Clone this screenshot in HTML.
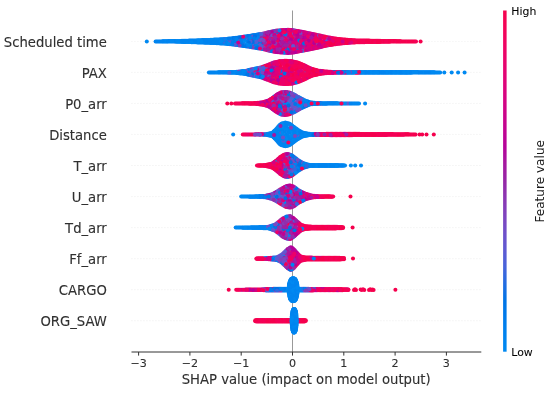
<!DOCTYPE html>
<html><head><meta charset="utf-8"><title>SHAP summary plot</title>
<style>
html,body{margin:0;padding:0;background:#fff}
body{width:550px;height:394px;overflow:hidden}
svg{display:block}
text{font-family:"DejaVu Sans","Liberation Sans",sans-serif;fill:#303030;stroke:#303030;stroke-width:0.12px}
.f{font-size:13.2px;text-anchor:end}
.t{font-size:11.1px;text-anchor:middle}
.c{font-size:10.9px;fill:#000;stroke:#000;stroke-width:0.05px}
circle{r:2.02px}
.k0{fill:#0089f1}.k1{fill:#0084ef}.k2{fill:#007dec}.k3{fill:#0077e8}.k4{fill:#0070e4}.k5{fill:#3369df}.k6{fill:#4e61d8}.k7{fill:#6159d1}.k8{fill:#7050c9}.k9{fill:#7d46c0}.k10{fill:#873cb6}.k11{fill:#912eac}.k12{fill:#9c21a4}.k13{fill:#aa139e}.k14{fill:#b50499}.k15{fill:#c10492}.k16{fill:#cc048a}.k17{fill:#d50483}.k18{fill:#dd047b}.k19{fill:#e40472}.k20{fill:#eb046a}.k21{fill:#f00460}.k22{fill:#f50457}.k23{fill:#f5044e}
</style></head><body>
<svg width="550" height="394" viewBox="0 0 550 394">
<defs><linearGradient id="cb" x1="0" y1="1" x2="0" y2="0"><stop offset="0" stop-color="#0089f1"/><stop offset="0.05" stop-color="#0083ef"/><stop offset="0.1" stop-color="#007beb"/><stop offset="0.15" stop-color="#0074e6"/><stop offset="0.2" stop-color="#236ce1"/><stop offset="0.25" stop-color="#4863da"/><stop offset="0.3" stop-color="#5f5ad2"/><stop offset="0.35" stop-color="#7050c9"/><stop offset="0.4" stop-color="#7f44be"/><stop offset="0.45" stop-color="#8b37b3"/><stop offset="0.5" stop-color="#9527a6"/><stop offset="0.55" stop-color="#a519a0"/><stop offset="0.6" stop-color="#b4049a"/><stop offset="0.65" stop-color="#c10492"/><stop offset="0.7" stop-color="#cc0489"/><stop offset="0.75" stop-color="#d70481"/><stop offset="0.8" stop-color="#e00477"/><stop offset="0.85" stop-color="#e8046d"/><stop offset="0.9" stop-color="#ef0463"/><stop offset="0.95" stop-color="#f40458"/><stop offset="1" stop-color="#f5044e"/></linearGradient><filter id="bl" x="-5%" y="-5%" width="110%" height="110%"><feGaussianBlur stdDeviation="0.75"/></filter></defs>
<rect width="550" height="394" fill="#fff"/>
<g stroke="#c4c4c4" stroke-width="0.6" stroke-dasharray="0.9 2.1" opacity="0.55"><line x1="131.5" y1="41.35" x2="481.3" y2="41.35"/><line x1="131.5" y1="72.39" x2="481.3" y2="72.39"/><line x1="131.5" y1="103.43" x2="481.3" y2="103.43"/><line x1="131.5" y1="134.47" x2="481.3" y2="134.47"/><line x1="131.5" y1="165.51" x2="481.3" y2="165.51"/><line x1="131.5" y1="196.55" x2="481.3" y2="196.55"/><line x1="131.5" y1="227.59" x2="481.3" y2="227.59"/><line x1="131.5" y1="258.63" x2="481.3" y2="258.63"/><line x1="131.5" y1="289.67" x2="481.3" y2="289.67"/><line x1="131.5" y1="320.71" x2="481.3" y2="320.71"/></g>
<line x1="292.5" y1="10.5" x2="292.5" y2="352.0" stroke="#999" stroke-width="1"/>
<g filter="url(#bl)"><g><circle class="k23" cx="399.2" cy="41.5" r="2"/><circle class="k8" cx="316.3" cy="44.4" r="2"/><circle class="k22" cx="388.4" cy="41.7" r="2"/><circle class="k0" cx="212.0" cy="42.9" r="2"/><circle class="k22" cx="392.0" cy="41.6" r="2"/><circle class="k22" cx="400.4" cy="41.5" r="2"/><circle class="k22" cx="381.2" cy="41.8" r="2"/><circle class="k22" cx="401.6" cy="41.4" r="2"/><circle class="k19" cx="332.0" cy="44.7" r="2"/><circle class="k1" cx="242.0" cy="45.7" r="2"/><circle class="k16" cx="284.8" cy="36.4" r="2"/><circle class="k23" cx="400.4" cy="41.2" r="2"/><circle class="k2" cx="255.2" cy="34.9" r="2"/><circle class="k0" cx="226.4" cy="43.8" r="2"/><circle class="k15" cx="278.6" cy="39.4" r="2"/><circle class="k22" cx="348.8" cy="41.4" r="2"/><circle class="k22" cx="359.6" cy="41.4" r="2"/><circle class="k12" cx="265.7" cy="41.1" r="2"/><circle class="k0" cx="198.8" cy="42.4" r="2"/><circle class="k4" cx="260.0" cy="38.1" r="2"/><circle class="k9" cx="260.7" cy="35.9" r="2"/><circle class="k22" cx="368.0" cy="42.1" r="2"/><circle class="k20" cx="303.8" cy="35.6" r="2"/><circle class="k22" cx="394.4" cy="41.1" r="2"/><circle class="k18" cx="269.6" cy="31.9" r="2"/><circle class="k3" cx="238.4" cy="45.2" r="2"/><circle class="k1" cx="179.6" cy="41.8" r="2"/><circle class="k0" cx="257.6" cy="48.2" r="2"/><circle class="k20" cx="312.8" cy="48.7" r="2"/><circle class="k0" cx="219.2" cy="39.4" r="2"/><circle class="k1" cx="238.4" cy="37.5" r="2"/><circle class="k23" cx="323.6" cy="46.3" r="2"/><circle class="k9" cx="250.4" cy="35.7" r="2"/><circle class="k22" cx="272.3" cy="37.4" r="2"/><circle class="k6" cx="246.8" cy="36.3" r="2"/><circle class="k17" cx="298.9" cy="32.2" r="2"/><circle class="k1" cx="224.0" cy="43.6" r="2"/><circle class="k23" cx="340.9" cy="40.3" r="2"/><circle class="k15" cx="292.9" cy="35.1" r="2"/><circle class="k11" cx="287.6" cy="29.8" r="2"/><circle class="k22" cx="365.6" cy="42.1" r="2"/><circle class="k8" cx="242.4" cy="37.9" r="2"/><circle class="k21" cx="330.8" cy="44.9" r="2"/><circle class="k13" cx="321.1" cy="43.9" r="2"/><circle class="k21" cx="304.4" cy="50.4" r="2"/><circle class="k2" cx="270.8" cy="51.0" r="2"/><circle class="k18" cx="311.0" cy="44.4" r="2"/><circle class="k23" cx="335.6" cy="38.5" r="2"/><circle class="k19" cx="320.2" cy="40.3" r="2"/><circle class="k22" cx="370.4" cy="40.7" r="2"/><circle class="k1" cx="204.8" cy="40.0" r="2"/><circle class="k10" cx="272.0" cy="48.4" r="2"/><circle class="k17" cx="300.0" cy="38.4" r="2"/><circle class="k23" cx="374.0" cy="42.0" r="2"/><circle class="k2" cx="262.8" cy="44.2" r="2"/><circle class="k17" cx="251.9" cy="39.8" r="2"/><circle class="k0" cx="244.4" cy="36.6" r="2"/><circle class="k8" cx="243.6" cy="43.7" r="2"/><circle class="k0" cx="161.6" cy="41.4" r="2"/><circle class="k21" cx="342.8" cy="43.2" r="2"/><circle class="k5" cx="173.6" cy="41.6" r="2"/><circle class="k22" cx="352.4" cy="40.2" r="2"/><circle class="k21" cx="266.1" cy="39.1" r="2"/><circle class="k20" cx="324.8" cy="46.1" r="2"/><circle class="k17" cx="291.6" cy="41.7" r="2"/><circle class="k22" cx="280.4" cy="52.4" r="2"/><circle class="k1" cx="170.0" cy="41.1" r="2"/><circle class="k1" cx="200.0" cy="41.4" r="2"/><circle class="k22" cx="407.6" cy="41.4" r="2"/><circle class="k1" cx="192.8" cy="42.2" r="2"/><circle class="k13" cx="311.6" cy="49.0" r="2"/><circle class="k1" cx="164.0" cy="41.5" r="2"/><circle class="k22" cx="341.6" cy="39.3" r="2"/><circle class="k1" cx="204.8" cy="41.4" r="2"/><circle class="k17" cx="286.7" cy="31.8" r="2"/><circle class="k14" cx="300.8" cy="50.1" r="2"/><circle class="k22" cx="340.4" cy="39.2" r="2"/><circle class="k23" cx="348.8" cy="42.8" r="2"/><circle class="k18" cx="284.7" cy="40.6" r="2"/><circle class="k22" cx="364.4" cy="40.5" r="2"/><circle class="k17" cx="303.2" cy="32.1" r="2"/><circle class="k0" cx="197.6" cy="42.4" r="2"/><circle class="k3" cx="239.6" cy="37.3" r="2"/><circle class="k22" cx="322.4" cy="46.6" r="2"/><circle class="k2" cx="257.6" cy="34.5" r="2"/><circle class="k22" cx="351.2" cy="40.1" r="2"/><circle class="k17" cx="296.3" cy="50.9" r="2"/><circle class="k18" cx="308.4" cy="43.3" r="2"/><circle class="k7" cx="292.4" cy="32.9" r="2"/><circle class="k23" cx="370.4" cy="42.0" r="2"/><circle class="k0" cx="200.0" cy="40.2" r="2"/><circle class="k22" cx="378.8" cy="40.8" r="2"/><circle class="k1" cx="202.4" cy="42.6" r="2"/><circle class="k17" cx="314.3" cy="38.7" r="2"/><circle class="k0" cx="178.4" cy="40.9" r="2"/><circle class="k9" cx="231.3" cy="39.9" r="2"/><circle class="k3" cx="257.6" cy="43.4" r="2"/><circle class="k18" cx="262.4" cy="33.7" r="2"/><circle class="k18" cx="305.3" cy="40.0" r="2"/><circle class="k1" cx="196.4" cy="41.4" r="2"/><circle class="k0" cx="176.0" cy="41.7" r="2"/><circle class="k22" cx="365.6" cy="40.6" r="2"/><circle class="k0" cx="165.2" cy="41.5" r="2"/><circle class="k1" cx="257.6" cy="36.5" r="2"/><circle class="k2" cx="252.0" cy="44.1" r="2"/><circle class="k0" cx="225.2" cy="43.7" r="2"/><circle class="k17" cx="273.3" cy="32.5" r="2"/><circle class="k1" cx="201.6" cy="41.3" r="2"/><circle class="k20" cx="331.9" cy="39.5" r="2"/><circle class="k14" cx="303.5" cy="33.2" r="2"/><circle class="k20" cx="282.3" cy="34.5" r="2"/><circle class="k22" cx="387.2" cy="41.0" r="2"/><circle class="k22" cx="374.0" cy="40.7" r="2"/><circle class="k11" cx="264.8" cy="33.2" r="2"/><circle class="k1" cx="209.6" cy="39.9" r="2"/><circle class="k23" cx="359.6" cy="42.3" r="2"/><circle class="k0" cx="230.0" cy="38.5" r="2"/><circle class="k0" cx="222.8" cy="39.2" r="2"/><circle class="k0" cx="255.0" cy="40.3" r="2"/><circle class="k17" cx="291.4" cy="46.9" r="2"/><circle class="k7" cx="252.9" cy="46.3" r="2"/><circle class="k17" cx="312.3" cy="39.8" r="2"/><circle class="k17" cx="299.1" cy="35.3" r="2"/><circle class="k22" cx="396.8" cy="41.5" r="2"/><circle class="k1" cx="207.2" cy="41.5" r="2"/><circle class="k16" cx="290.5" cy="31.6" r="2"/><circle class="k9" cx="261.2" cy="48.8" r="2"/><circle class="k1" cx="202.4" cy="40.1" r="2"/><circle class="k21" cx="336.8" cy="38.7" r="2"/><circle class="k23" cx="393.2" cy="41.6" r="2"/><circle class="k12" cx="282.8" cy="36.5" r="2"/><circle class="k23" cx="354.8" cy="41.4" r="2"/><circle class="k7" cx="255.1" cy="43.4" r="2"/><circle class="k19" cx="328.4" cy="45.3" r="2"/><circle class="k23" cx="333.2" cy="44.5" r="2"/><circle class="k15" cx="267.2" cy="35.9" r="2"/><circle class="k21" cx="263.6" cy="49.2" r="2"/><circle class="k21" cx="344.8" cy="41.9" r="2"/><circle class="k9" cx="294.5" cy="37.3" r="2"/><circle class="k4" cx="253.1" cy="42.1" r="2"/><circle class="k16" cx="291.2" cy="52.7" r="2"/><circle class="k0" cx="196.4" cy="42.3" r="2"/><circle class="k11" cx="275.9" cy="50.5" r="2"/><circle class="k21" cx="318.1" cy="39.8" r="2"/><circle class="k4" cx="252.8" cy="35.3" r="2"/><circle class="k13" cx="302.2" cy="42.8" r="2"/><circle class="k17" cx="296.0" cy="30.7" r="2"/><circle class="k17" cx="289.9" cy="37.8" r="2"/><circle class="k0" cx="224.5" cy="42.0" r="2"/><circle class="k15" cx="282.1" cy="48.4" r="2"/><circle class="k0" cx="222.8" cy="43.5" r="2"/><circle class="k12" cx="266.4" cy="48.0" r="2"/><circle class="k1" cx="176.0" cy="41.0" r="2"/><circle class="k17" cx="293.6" cy="52.4" r="2"/><circle class="k1" cx="189.2" cy="42.1" r="2"/><circle class="k18" cx="324.5" cy="43.4" r="2"/><circle class="k0" cx="249.2" cy="35.9" r="2"/><circle class="k21" cx="302.0" cy="39.1" r="2"/><circle class="k14" cx="280.7" cy="35.7" r="2"/><circle class="k1" cx="258.0" cy="40.6" r="2"/><circle class="k11" cx="286.5" cy="37.3" r="2"/><circle class="k0" cx="228.7" cy="40.4" r="2"/><circle class="k17" cx="287.9" cy="33.9" r="2"/><circle class="k23" cx="395.6" cy="41.1" r="2"/><circle class="k23" cx="412.4" cy="41.4" r="2"/><circle class="k1" cx="218.0" cy="39.4" r="2"/><circle class="k23" cx="382.4" cy="40.9" r="2"/><circle class="k20" cx="282.1" cy="44.5" r="2"/><circle class="k16" cx="294.8" cy="30.5" r="2"/><circle class="k1" cx="208.4" cy="39.9" r="2"/><circle class="k22" cx="382.4" cy="41.8" r="2"/><circle class="k1" cx="245.6" cy="36.4" r="2"/><circle class="k0" cx="186.8" cy="42.0" r="2"/><circle class="k0" cx="162.8" cy="41.5" r="2"/><circle class="k23" cx="319.2" cy="42.0" r="2"/><circle class="k1" cx="160.4" cy="41.4" r="2"/><circle class="k15" cx="278.0" cy="52.2" r="2"/><circle class="k22" cx="351.2" cy="41.4" r="2"/><circle class="k15" cx="326.1" cy="44.8" r="2"/><circle class="k19" cx="307.4" cy="45.4" r="2"/><circle class="k22" cx="362.0" cy="40.5" r="2"/><circle class="k23" cx="406.4" cy="41.4" r="2"/><circle class="k22" cx="332.6" cy="43.6" r="2"/><circle class="k0" cx="172.4" cy="41.1" r="2"/><circle class="k1" cx="213.2" cy="39.7" r="2"/><circle class="k17" cx="329.6" cy="37.6" r="2"/><circle class="k0" cx="174.8" cy="41.6" r="2"/><circle class="k22" cx="314.4" cy="45.1" r="2"/><circle class="k0" cx="199.5" cy="41.3" r="2"/><circle class="k15" cx="328.4" cy="37.4" r="2"/><circle class="k17" cx="305.0" cy="48.8" r="2"/><circle class="k22" cx="364.4" cy="42.2" r="2"/><circle class="k14" cx="300.8" cy="31.6" r="2"/><circle class="k13" cx="293.8" cy="39.9" r="2"/><circle class="k15" cx="291.3" cy="44.2" r="2"/><circle class="k1" cx="170.0" cy="41.6" r="2"/><circle class="k16" cx="320.9" cy="38.3" r="2"/><circle class="k9" cx="263.6" cy="33.5" r="2"/><circle class="k22" cx="347.5" cy="41.1" r="2"/><circle class="k16" cx="284.7" cy="42.5" r="2"/><circle class="k18" cx="301.3" cy="34.8" r="2"/><circle class="k16" cx="289.0" cy="35.8" r="2"/><circle class="k2" cx="320.0" cy="47.2" r="2"/><circle class="k15" cx="280.6" cy="47.1" r="2"/><circle class="k19" cx="296.2" cy="35.7" r="2"/><circle class="k23" cx="316.4" cy="34.7" r="2"/><circle class="k23" cx="315.2" cy="48.3" r="2"/><circle class="k1" cx="203.6" cy="40.1" r="2"/><circle class="k16" cx="287.5" cy="46.9" r="2"/><circle class="k1" cx="220.4" cy="39.3" r="2"/><circle class="k21" cx="326.4" cy="41.4" r="2"/><circle class="k0" cx="197.6" cy="41.4" r="2"/><circle class="k8" cx="251.6" cy="47.2" r="2"/><circle class="k19" cx="296.5" cy="49.0" r="2"/><circle class="k14" cx="274.3" cy="48.9" r="2"/><circle class="k12" cx="282.8" cy="30.1" r="2"/><circle class="k22" cx="272.5" cy="44.1" r="2"/><circle class="k1" cx="214.4" cy="39.6" r="2"/><circle class="k22" cx="357.2" cy="40.4" r="2"/><circle class="k18" cx="322.6" cy="45.4" r="2"/><circle class="k18" cx="350.0" cy="41.4" r="2"/><circle class="k1" cx="168.8" cy="41.1" r="2"/><circle class="k1" cx="257.1" cy="38.6" r="2"/><circle class="k9" cx="260.0" cy="34.1" r="2"/><circle class="k23" cx="311.7" cy="46.4" r="2"/><circle class="k20" cx="311.6" cy="33.7" r="2"/><circle class="k1" cx="224.0" cy="39.1" r="2"/><circle class="k22" cx="369.2" cy="40.6" r="2"/><circle class="k1" cx="197.6" cy="40.3" r="2"/><circle class="k3" cx="236.0" cy="37.8" r="2"/><circle class="k2" cx="237.2" cy="45.0" r="2"/><circle class="k1" cx="158.0" cy="41.4" r="2"/><circle class="k14" cx="279.9" cy="41.4" r="2"/><circle class="k12" cx="271.0" cy="50.0" r="2"/><circle class="k0" cx="186.8" cy="40.7" r="2"/><circle class="k22" cx="362.0" cy="42.2" r="2"/><circle class="k1" cx="195.2" cy="42.3" r="2"/><circle class="k12" cx="262.2" cy="37.5" r="2"/><circle class="k2" cx="247.4" cy="41.4" r="2"/><circle class="k12" cx="267.2" cy="50.2" r="2"/><circle class="k1" cx="180.8" cy="40.9" r="2"/><circle class="k20" cx="275.7" cy="33.9" r="2"/><circle class="k18" cx="230.0" cy="44.2" r="2"/><circle class="k0" cx="240.2" cy="43.0" r="2"/><circle class="k22" cx="319.7" cy="36.6" r="2"/><circle class="k21" cx="302.9" cy="48.5" r="2"/><circle class="k0" cx="171.2" cy="41.6" r="2"/><circle class="k22" cx="347.6" cy="41.4" r="2"/><circle class="k18" cx="297.3" cy="41.4" r="2"/><circle class="k3" cx="277.4" cy="32.9" r="2"/><circle class="k23" cx="334.4" cy="44.3" r="2"/><circle class="k15" cx="302.0" cy="31.8" r="2"/><circle class="k22" cx="329.5" cy="41.2" r="2"/><circle class="k1" cx="173.6" cy="41.1" r="2"/><circle class="k15" cx="273.2" cy="51.4" r="2"/><circle class="k0" cx="210.8" cy="39.8" r="2"/><circle class="k22" cx="398.0" cy="41.5" r="2"/><circle class="k23" cx="408.8" cy="41.4" r="2"/><circle class="k1" cx="188.0" cy="42.0" r="2"/><circle class="k23" cx="395.6" cy="41.6" r="2"/><circle class="k12" cx="264.5" cy="36.2" r="2"/><circle class="k14" cx="297.2" cy="30.9" r="2"/><circle class="k19" cx="265.3" cy="46.2" r="2"/><circle class="k15" cx="273.0" cy="50.4" r="2"/><circle class="k16" cx="278.3" cy="42.7" r="2"/><circle class="k22" cx="411.2" cy="41.4" r="2"/><circle class="k13" cx="269.6" cy="50.8" r="2"/><circle class="k23" cx="292.5" cy="38.1" r="2"/><circle class="k22" cx="307.7" cy="38.2" r="2"/><circle class="k2" cx="248.0" cy="46.6" r="2"/><circle class="k13" cx="288.7" cy="30.9" r="2"/><circle class="k1" cx="174.8" cy="41.1" r="2"/><circle class="k6" cx="290.5" cy="51.1" r="2"/><circle class="k1" cx="194.0" cy="40.5" r="2"/><circle class="k21" cx="337.8" cy="40.5" r="2"/><circle class="k11" cx="276.8" cy="30.6" r="2"/><circle class="k1" cx="227.6" cy="43.9" r="2"/><circle class="k1" cx="262.4" cy="49.0" r="2"/><circle class="k16" cx="287.6" cy="52.9" r="2"/><circle class="k22" cx="360.8" cy="40.5" r="2"/><circle class="k22" cx="386.0" cy="41.0" r="2"/><circle class="k2" cx="232.4" cy="38.2" r="2"/><circle class="k23" cx="372.8" cy="40.7" r="2"/><circle class="k22" cx="383.6" cy="41.8" r="2"/><circle class="k22" cx="344.0" cy="39.5" r="2"/><circle class="k16" cx="314.0" cy="48.5" r="2"/><circle class="k14" cx="332.0" cy="38.0" r="2"/><circle class="k16" cx="317.6" cy="36.2" r="2"/><circle class="k3" cx="285.4" cy="34.3" r="2"/><circle class="k6" cx="222.6" cy="42.4" r="2"/><circle class="k22" cx="352.4" cy="41.4" r="2"/><circle class="k5" cx="225.2" cy="39.0" r="2"/><circle class="k11" cx="280.4" cy="43.4" r="2"/><circle class="k10" cx="327.2" cy="45.5" r="2"/><circle class="k15" cx="296.1" cy="38.9" r="2"/><circle class="k22" cx="346.4" cy="39.7" r="2"/><circle class="k12" cx="270.6" cy="45.4" r="2"/><circle class="k22" cx="371.6" cy="42.0" r="2"/><circle class="k1" cx="156.8" cy="41.4" r="2"/><circle class="k8" cx="322.4" cy="36.1" r="2"/><circle class="k2" cx="256.4" cy="34.7" r="2"/><circle class="k22" cx="396.8" cy="41.2" r="2"/><circle class="k16" cx="295.0" cy="46.1" r="2"/><circle class="k22" cx="345.2" cy="43.1" r="2"/><circle class="k21" cx="314.2" cy="40.7" r="2"/><circle class="k1" cx="183.2" cy="41.9" r="2"/><circle class="k1" cx="206.0" cy="41.4" r="2"/><circle class="k20" cx="267.6" cy="44.9" r="2"/><circle class="k22" cx="399.2" cy="41.2" r="2"/><circle class="k13" cx="297.2" cy="51.8" r="2"/><circle class="k18" cx="317.6" cy="34.9" r="2"/><circle class="k1" cx="155.6" cy="41.4" r="2"/><circle class="k3" cx="234.3" cy="39.3" r="2"/><circle class="k22" cx="342.8" cy="39.5" r="2"/><circle class="k6" cx="308.0" cy="33.0" r="2"/><circle class="k11" cx="275.0" cy="45.6" r="2"/><circle class="k6" cx="250.4" cy="41.4" r="2"/><circle class="k17" cx="266.0" cy="32.9" r="2"/><circle class="k21" cx="282.8" cy="52.6" r="2"/><circle class="k10" cx="268.4" cy="50.5" r="2"/><circle class="k5" cx="270.8" cy="31.7" r="2"/><circle class="k22" cx="327.6" cy="43.1" r="2"/><circle class="k0" cx="190.4" cy="42.1" r="2"/><circle class="k0" cx="219.2" cy="43.3" r="2"/><circle class="k22" cx="383.6" cy="40.9" r="2"/><circle class="k15" cx="273.2" cy="31.3" r="2"/><circle class="k22" cx="323.1" cy="41.0" r="2"/><circle class="k14" cx="303.4" cy="37.7" r="2"/><circle class="k2" cx="251.6" cy="35.5" r="2"/><circle class="k22" cx="347.6" cy="42.9" r="2"/><circle class="k22" cx="347.6" cy="39.8" r="2"/><circle class="k12" cx="288.6" cy="39.4" r="2"/><circle class="k13" cx="262.6" cy="42.2" r="2"/><circle class="k3" cx="234.6" cy="42.9" r="2"/><circle class="k4" cx="298.4" cy="49.9" r="2"/><circle class="k23" cx="410.0" cy="41.4" r="2"/><circle class="k1" cx="227.6" cy="38.8" r="2"/><circle class="k10" cx="240.7" cy="38.8" r="2"/><circle class="k19" cx="266.0" cy="49.8" r="2"/><circle class="k4" cx="292.4" cy="50.9" r="2"/><circle class="k1" cx="189.2" cy="40.6" r="2"/><circle class="k22" cx="356.0" cy="40.4" r="2"/><circle class="k1" cx="231.2" cy="38.4" r="2"/><circle class="k20" cx="289.4" cy="47.5" r="2"/><circle class="k21" cx="298.4" cy="51.6" r="2"/><circle class="k11" cx="264.5" cy="34.3" r="2"/><circle class="k8" cx="300.7" cy="32.9" r="2"/><circle class="k16" cx="284.0" cy="30.0" r="2"/><circle class="k1" cx="200.0" cy="42.5" r="2"/><circle class="k20" cx="310.4" cy="49.2" r="2"/><circle class="k3" cx="242.0" cy="37.0" r="2"/><circle class="k2" cx="258.8" cy="34.3" r="2"/><circle class="k2" cx="236.0" cy="44.9" r="2"/><circle class="k20" cx="298.4" cy="31.1" r="2"/><circle class="k0" cx="207.2" cy="40.0" r="2"/><circle class="k22" cx="390.8" cy="41.6" r="2"/><circle class="k1" cx="203.6" cy="42.6" r="2"/><circle class="k23" cx="357.2" cy="41.4" r="2"/><circle class="k1" cx="212.0" cy="41.4" r="2"/><circle class="k15" cx="279.2" cy="52.3" r="2"/><circle class="k15" cx="278.8" cy="47.9" r="2"/><circle class="k23" cx="392.0" cy="41.1" r="2"/><circle class="k15" cx="298.1" cy="37.2" r="2"/><circle class="k1" cx="221.6" cy="43.5" r="2"/><circle class="k22" cx="381.2" cy="40.9" r="2"/><circle class="k11" cx="269.3" cy="36.6" r="2"/><circle class="k0" cx="210.1" cy="41.5" r="2"/><circle class="k17" cx="313.9" cy="47.4" r="2"/><circle class="k14" cx="268.3" cy="39.8" r="2"/><circle class="k21" cx="314.4" cy="35.9" r="2"/><circle class="k21" cx="339.2" cy="43.7" r="2"/><circle class="k21" cx="277.0" cy="40.7" r="2"/><circle class="k22" cx="394.4" cy="41.6" r="2"/><circle class="k22" cx="290.1" cy="33.8" r="2"/><circle class="k9" cx="283.8" cy="51.6" r="2"/><circle class="k13" cx="269.5" cy="43.7" r="2"/><circle class="k1" cx="214.4" cy="43.1" r="2"/><circle class="k11" cx="280.1" cy="49.3" r="2"/><circle class="k1" cx="203.6" cy="41.4" r="2"/><circle class="k16" cx="321.2" cy="46.9" r="2"/><circle class="k12" cx="290.0" cy="52.8" r="2"/><circle class="k1" cx="188.0" cy="40.7" r="2"/><circle class="k11" cx="262.5" cy="35.0" r="2"/><circle class="k0" cx="168.8" cy="41.6" r="2"/><circle class="k1" cx="257.9" cy="45.3" r="2"/><circle class="k14" cx="270.3" cy="34.0" r="2"/><circle class="k14" cx="286.4" cy="52.8" r="2"/><circle class="k6" cx="261.2" cy="33.9" r="2"/><circle class="k22" cx="336.5" cy="42.0" r="2"/><circle class="k22" cx="358.4" cy="41.4" r="2"/><circle class="k0" cx="222.6" cy="40.3" r="2"/><circle class="k20" cx="281.6" cy="32.0" r="2"/><circle class="k3" cx="259.9" cy="42.9" r="2"/><circle class="k1" cx="167.6" cy="41.2" r="2"/><circle class="k9" cx="238.7" cy="39.1" r="2"/><circle class="k13" cx="298.0" cy="44.4" r="2"/><circle class="k1" cx="166.4" cy="41.5" r="2"/><circle class="k15" cx="276.6" cy="38.1" r="2"/><circle class="k18" cx="333.2" cy="38.2" r="2"/><circle class="k0" cx="303.2" cy="50.6" r="2"/><circle class="k17" cx="312.6" cy="41.9" r="2"/><circle class="k2" cx="248.5" cy="38.7" r="2"/><circle class="k17" cx="306.3" cy="34.6" r="2"/><circle class="k13" cx="317.6" cy="47.8" r="2"/><circle class="k23" cx="348.8" cy="39.9" r="2"/><circle class="k20" cx="341.6" cy="43.4" r="2"/><circle class="k22" cx="357.2" cy="42.3" r="2"/><circle class="k21" cx="344.0" cy="43.2" r="2"/><circle class="k15" cx="301.4" cy="45.7" r="2"/><circle class="k22" cx="376.4" cy="40.8" r="2"/><circle class="k16" cx="285.2" cy="30.0" r="2"/><circle class="k6" cx="308.0" cy="49.7" r="2"/><circle class="k1" cx="215.6" cy="39.6" r="2"/><circle class="k14" cx="286.4" cy="29.9" r="2"/><circle class="k22" cx="354.8" cy="40.3" r="2"/><circle class="k16" cx="299.6" cy="31.4" r="2"/><circle class="k15" cx="275.2" cy="31.9" r="2"/><circle class="k15" cx="266.9" cy="33.9" r="2"/><circle class="k1" cx="254.0" cy="47.6" r="2"/><circle class="k1" cx="164.0" cy="41.2" r="2"/><circle class="k1" cx="197.3" cy="41.4" r="2"/><circle class="k21" cx="322.8" cy="37.4" r="2"/><circle class="k0" cx="166.4" cy="41.2" r="2"/><circle class="k14" cx="279.7" cy="32.5" r="2"/><circle class="k8" cx="272.3" cy="35.3" r="2"/><circle class="k22" cx="352.3" cy="41.3" r="2"/><circle class="k1" cx="191.6" cy="40.5" r="2"/><circle class="k22" cx="329.6" cy="45.1" r="2"/><circle class="k4" cx="249.0" cy="42.8" r="2"/><circle class="k1" cx="205.3" cy="41.0" r="2"/><circle class="k22" cx="405.2" cy="41.4" r="2"/><circle class="k14" cx="292.4" cy="30.1" r="2"/><circle class="k1" cx="177.2" cy="41.7" r="2"/><circle class="k18" cx="267.6" cy="37.8" r="2"/><circle class="k1" cx="274.4" cy="31.0" r="2"/><circle class="k8" cx="226.8" cy="40.2" r="2"/><circle class="k23" cx="413.6" cy="41.4" r="2"/><circle class="k9" cx="318.8" cy="35.2" r="2"/><circle class="k3" cx="246.8" cy="46.4" r="2"/><circle class="k22" cx="284.6" cy="32.3" r="2"/><circle class="k16" cx="327.2" cy="37.2" r="2"/><circle class="k19" cx="299.1" cy="42.8" r="2"/><circle class="k0" cx="244.4" cy="46.1" r="2"/><circle class="k6" cx="256.4" cy="41.8" r="2"/><circle class="k22" cx="326.0" cy="36.9" r="2"/><circle class="k9" cx="259.9" cy="40.3" r="2"/><circle class="k22" cx="366.8" cy="42.1" r="2"/><circle class="k8" cx="260.0" cy="45.2" r="2"/><circle class="k21" cx="289.3" cy="44.3" r="2"/><circle class="k1" cx="202.4" cy="41.4" r="2"/><circle class="k22" cx="353.6" cy="40.3" r="2"/><circle class="k1" cx="207.2" cy="42.7" r="2"/><circle class="k16" cx="310.5" cy="35.4" r="2"/><circle class="k8" cx="293.6" cy="30.3" r="2"/><circle class="k23" cx="339.2" cy="39.0" r="2"/><circle class="k3" cx="233.6" cy="38.1" r="2"/><circle class="k23" cx="369.2" cy="42.1" r="2"/><circle class="k10" cx="263.4" cy="47.2" r="2"/><circle class="k22" cx="352.4" cy="42.5" r="2"/><circle class="k1" cx="231.2" cy="44.3" r="2"/><circle class="k22" cx="340.4" cy="43.5" r="2"/><circle class="k2" cx="255.2" cy="45.7" r="2"/><circle class="k12" cx="268.7" cy="46.6" r="2"/><circle class="k0" cx="194.0" cy="42.2" r="2"/><circle class="k16" cx="294.0" cy="44.2" r="2"/><circle class="k22" cx="269.8" cy="48.4" r="2"/><circle class="k1" cx="213.2" cy="43.0" r="2"/><circle class="k13" cx="270.8" cy="42.4" r="2"/><circle class="k3" cx="299.2" cy="40.5" r="2"/><circle class="k21" cx="291.0" cy="35.7" r="2"/><circle class="k2" cx="254.0" cy="35.1" r="2"/><circle class="k22" cx="305.6" cy="32.6" r="2"/><circle class="k23" cx="414.8" cy="41.4" r="2"/><circle class="k10" cx="275.4" cy="43.4" r="2"/><circle class="k11" cx="267.2" cy="32.5" r="2"/><circle class="k5" cx="258.8" cy="48.4" r="2"/><circle class="k3" cx="258.2" cy="47.3" r="2"/><circle class="k21" cx="334.8" cy="40.7" r="2"/><circle class="k21" cx="314.0" cy="34.2" r="2"/><circle class="k21" cx="268.7" cy="41.9" r="2"/><circle class="k1" cx="208.4" cy="42.8" r="2"/><circle class="k16" cx="278.5" cy="45.1" r="2"/><circle class="k16" cx="350.0" cy="42.7" r="2"/><circle class="k19" cx="265.9" cy="44.2" r="2"/><circle class="k22" cx="290.0" cy="29.9" r="2"/><circle class="k13" cx="300.8" cy="36.7" r="2"/><circle class="k21" cx="323.6" cy="36.4" r="2"/><circle class="k23" cx="345.2" cy="39.6" r="2"/><circle class="k19" cx="318.8" cy="47.5" r="2"/><circle class="k12" cx="274.8" cy="39.6" r="2"/><circle class="k23" cx="389.6" cy="41.7" r="2"/><circle class="k23" cx="384.8" cy="41.8" r="2"/><circle class="k17" cx="356.0" cy="41.4" r="2"/><circle class="k0" cx="198.8" cy="41.4" r="2"/><circle class="k23" cx="375.2" cy="40.7" r="2"/><circle class="k13" cx="268.0" cy="49.3" r="2"/><circle class="k11" cx="264.6" cy="42.7" r="2"/><circle class="k14" cx="314.1" cy="43.1" r="2"/><circle class="k1" cx="250.3" cy="45.5" r="2"/><circle class="k22" cx="358.4" cy="40.4" r="2"/><circle class="k16" cx="295.4" cy="41.1" r="2"/><circle class="k14" cx="290.9" cy="39.5" r="2"/><circle class="k6" cx="302.0" cy="50.9" r="2"/><circle class="k22" cx="353.6" cy="42.4" r="2"/><circle class="k16" cx="303.6" cy="41.1" r="2"/><circle class="k13" cx="286.5" cy="43.2" r="2"/><circle class="k23" cx="356.0" cy="42.3" r="2"/><circle class="k17" cx="288.0" cy="41.4" r="2"/><circle class="k18" cx="306.8" cy="32.8" r="2"/><circle class="k14" cx="272.0" cy="31.5" r="2"/><circle class="k13" cx="272.8" cy="40.5" r="2"/><circle class="k1" cx="192.8" cy="40.5" r="2"/><circle class="k22" cx="338.0" cy="38.9" r="2"/><circle class="k17" cx="294.3" cy="51.3" r="2"/><circle class="k23" cx="368.0" cy="40.6" r="2"/><circle class="k7" cx="252.8" cy="36.8" r="2"/><circle class="k12" cx="283.6" cy="46.5" r="2"/><circle class="k13" cx="303.7" cy="46.7" r="2"/><circle class="k22" cx="360.8" cy="42.2" r="2"/><circle class="k12" cx="289.7" cy="42.4" r="2"/><circle class="k21" cx="335.6" cy="44.2" r="2"/><circle class="k16" cx="291.2" cy="30.0" r="2"/><circle class="k22" cx="377.6" cy="40.8" r="2"/><circle class="k23" cx="384.8" cy="40.9" r="2"/><circle class="k0" cx="165.2" cy="41.2" r="2"/><circle class="k2" cx="236.4" cy="41.1" r="2"/><circle class="k22" cx="350.0" cy="40.0" r="2"/><circle class="k22" cx="339.3" cy="41.8" r="2"/><circle class="k21" cx="320.0" cy="35.5" r="2"/><circle class="k23" cx="404.0" cy="41.4" r="2"/><circle class="k12" cx="282.6" cy="40.6" r="2"/><circle class="k3" cx="243.2" cy="45.9" r="2"/><circle class="k19" cx="321.2" cy="35.8" r="2"/><circle class="k2" cx="242.8" cy="40.1" r="2"/><circle class="k13" cx="282.5" cy="42.6" r="2"/><circle class="k16" cx="282.3" cy="50.4" r="2"/><circle class="k15" cx="305.9" cy="37.3" r="2"/><circle class="k22" cx="386.0" cy="41.7" r="2"/><circle class="k17" cx="280.0" cy="37.8" r="2"/><circle class="k21" cx="316.0" cy="37.9" r="2"/><circle class="k5" cx="246.2" cy="38.1" r="2"/><circle class="k23" cx="398.0" cy="41.2" r="2"/><circle class="k19" cx="293.9" cy="31.6" r="2"/><circle class="k16" cx="324.9" cy="40.1" r="2"/><circle class="k1" cx="201.2" cy="40.2" r="2"/><circle class="k0" cx="214.9" cy="40.9" r="2"/><circle class="k22" cx="371.6" cy="40.7" r="2"/><circle class="k22" cx="264.3" cy="38.7" r="2"/><circle class="k0" cx="233.6" cy="44.6" r="2"/><circle class="k22" cx="305.6" cy="50.1" r="2"/><circle class="k22" cx="363.2" cy="42.2" r="2"/><circle class="k17" cx="315.8" cy="46.4" r="2"/><circle class="k16" cx="296.0" cy="52.0" r="2"/><circle class="k19" cx="316.4" cy="48.0" r="2"/><circle class="k4" cx="241.8" cy="44.7" r="2"/><circle class="k23" cx="284.0" cy="49.3" r="2"/><circle class="k14" cx="294.8" cy="52.2" r="2"/><circle class="k0" cx="216.8" cy="39.5" r="2"/><circle class="k2" cx="242.5" cy="42.1" r="2"/><circle class="k1" cx="226.9" cy="42.5" r="2"/><circle class="k0" cx="182.0" cy="41.9" r="2"/><circle class="k13" cx="309.2" cy="33.3" r="2"/><circle class="k16" cx="342.6" cy="41.5" r="2"/><circle class="k4" cx="288.8" cy="50.0" r="2"/><circle class="k0" cx="177.2" cy="41.0" r="2"/><circle class="k20" cx="288.8" cy="29.8" r="2"/><circle class="k0" cx="244.5" cy="40.9" r="2"/><circle class="k22" cx="380.0" cy="40.8" r="2"/><circle class="k4" cx="286.8" cy="49.1" r="2"/><circle class="k23" cx="372.8" cy="42.0" r="2"/><circle class="k0" cx="179.6" cy="40.9" r="2"/><circle class="k10" cx="276.3" cy="35.8" r="2"/><circle class="k23" cx="346.4" cy="43.0" r="2"/><circle class="k19" cx="315.2" cy="34.4" r="2"/><circle class="k15" cx="292.4" cy="52.6" r="2"/><circle class="k15" cx="308.5" cy="34.4" r="2"/><circle class="k19" cx="286.0" cy="39.1" r="2"/><circle class="k0" cx="219.1" cy="42.2" r="2"/><circle class="k23" cx="378.8" cy="41.9" r="2"/><circle class="k3" cx="248.0" cy="36.1" r="2"/><circle class="k23" cx="281.6" cy="30.2" r="2"/><circle class="k16" cx="294.8" cy="33.7" r="2"/><circle class="k23" cx="393.2" cy="41.1" r="2"/><circle class="k22" cx="359.6" cy="40.4" r="2"/><circle class="k14" cx="297.3" cy="34.0" r="2"/><circle class="k1" cx="218.0" cy="43.3" r="2"/><circle class="k4" cx="240.8" cy="37.2" r="2"/><circle class="k23" cx="366.8" cy="40.6" r="2"/><circle class="k7" cx="230.4" cy="42.2" r="2"/><circle class="k16" cx="291.2" cy="49.1" r="2"/><circle class="k7" cx="326.7" cy="39.3" r="2"/><circle class="k12" cx="268.4" cy="32.2" r="2"/><circle class="k12" cx="275.6" cy="51.9" r="2"/><circle class="k20" cx="324.7" cy="38.2" r="2"/><circle class="k3" cx="240.8" cy="45.5" r="2"/><circle class="k0" cx="255.2" cy="47.8" r="2"/><circle class="k1" cx="210.8" cy="41.4" r="2"/><circle class="k1" cx="210.8" cy="42.9" r="2"/><circle class="k4" cx="254.9" cy="36.3" r="2"/><circle class="k8" cx="249.2" cy="46.8" r="2"/><circle class="k15" cx="285.2" cy="52.7" r="2"/><circle class="k14" cx="273.8" cy="42.3" r="2"/><circle class="k20" cx="298.8" cy="46.7" r="2"/><circle class="k21" cx="330.8" cy="37.8" r="2"/><circle class="k10" cx="252.8" cy="47.4" r="2"/><circle class="k1" cx="201.2" cy="42.5" r="2"/><circle class="k17" cx="304.4" cy="32.3" r="2"/><circle class="k1" cx="220.4" cy="43.4" r="2"/><circle class="k0" cx="212.0" cy="39.8" r="2"/><circle class="k0" cx="185.6" cy="42.0" r="2"/><circle class="k0" cx="201.2" cy="41.4" r="2"/><circle class="k2" cx="236.5" cy="43.4" r="2"/><circle class="k0" cx="246.0" cy="44.2" r="2"/><circle class="k1" cx="206.0" cy="42.7" r="2"/><circle class="k0" cx="228.8" cy="44.1" r="2"/><circle class="k1" cx="182.0" cy="40.8" r="2"/><circle class="k16" cx="274.3" cy="35.2" r="2"/><circle class="k1" cx="162.8" cy="41.2" r="2"/><circle class="k3" cx="237.2" cy="37.7" r="2"/><circle class="k18" cx="310.4" cy="33.5" r="2"/><circle class="k18" cx="309.5" cy="39.0" r="2"/><circle class="k21" cx="278.5" cy="35.7" r="2"/><circle class="k18" cx="295.9" cy="43.1" r="2"/><circle class="k15" cx="306.8" cy="49.9" r="2"/><circle class="k1" cx="184.4" cy="41.9" r="2"/><circle class="k17" cx="285.5" cy="46.9" r="2"/><circle class="k6" cx="261.0" cy="46.8" r="2"/><circle class="k12" cx="274.8" cy="37.1" r="2"/><circle class="k16" cx="300.8" cy="51.1" r="2"/><circle class="k1" cx="284.0" cy="52.7" r="2"/><circle class="k1" cx="215.6" cy="43.1" r="2"/><circle class="k20" cx="308.1" cy="36.3" r="2"/><circle class="k12" cx="284.9" cy="45.0" r="2"/><circle class="k4" cx="256.4" cy="48.0" r="2"/><circle class="k0" cx="172.4" cy="41.6" r="2"/><circle class="k17" cx="293.6" cy="42.3" r="2"/><circle class="k15" cx="312.8" cy="34.0" r="2"/><circle class="k23" cx="334.9" cy="43.1" r="2"/><circle class="k1" cx="207.2" cy="41.4" r="2"/><circle class="k19" cx="310.1" cy="48.1" r="2"/><circle class="k12" cx="296.9" cy="46.7" r="2"/><circle class="k15" cx="329.1" cy="39.1" r="2"/><circle class="k16" cx="318.9" cy="46.3" r="2"/><circle class="k7" cx="262.0" cy="39.5" r="2"/><circle class="k3" cx="272.0" cy="51.2" r="2"/><circle class="k1" cx="213.0" cy="41.6" r="2"/><circle class="k18" cx="307.2" cy="47.4" r="2"/><circle class="k1" cx="244.2" cy="38.9" r="2"/><circle class="k7" cx="293.1" cy="45.9" r="2"/><circle class="k1" cx="204.8" cy="42.7" r="2"/><circle class="k1" cx="216.8" cy="43.2" r="2"/><circle class="k19" cx="243.2" cy="36.8" r="2"/><circle class="k22" cx="316.3" cy="41.5" r="2"/><circle class="k17" cx="276.3" cy="47.2" r="2"/><circle class="k23" cx="358.4" cy="42.3" r="2"/><circle class="k1" cx="180.8" cy="41.8" r="2"/><circle class="k1" cx="190.4" cy="40.6" r="2"/><circle class="k0" cx="191.6" cy="42.2" r="2"/><circle class="k12" cx="287.2" cy="45.0" r="2"/><circle class="k22" cx="387.2" cy="41.7" r="2"/><circle class="k22" cx="334.4" cy="38.4" r="2"/><circle class="k20" cx="284.1" cy="38.7" r="2"/><circle class="k22" cx="272.9" cy="46.6" r="2"/><circle class="k22" cx="388.4" cy="41.0" r="2"/><circle class="k23" cx="349.8" cy="41.0" r="2"/><circle class="k17" cx="299.6" cy="51.3" r="2"/><circle class="k1" cx="217.1" cy="41.3" r="2"/><circle class="k1" cx="221.6" cy="39.2" r="2"/><circle class="k16" cx="286.8" cy="51.5" r="2"/><circle class="k22" cx="376.4" cy="41.9" r="2"/><circle class="k11" cx="282.1" cy="38.6" r="2"/><circle class="k1" cx="208.4" cy="41.4" r="2"/><circle class="k22" cx="375.2" cy="42.0" r="2"/><circle class="k1" cx="206.0" cy="40.0" r="2"/><circle class="k0" cx="226.4" cy="38.9" r="2"/><circle class="k22" cx="390.8" cy="41.1" r="2"/><circle class="k2" cx="228.8" cy="38.6" r="2"/><circle class="k19" cx="332.7" cy="41.3" r="2"/><circle class="k15" cx="305.3" cy="45.1" r="2"/><circle class="k19" cx="260.0" cy="48.6" r="2"/><circle class="k2" cx="240.9" cy="40.9" r="2"/><circle class="k2" cx="250.4" cy="47.0" r="2"/><circle class="k13" cx="264.8" cy="49.5" r="2"/><circle class="k17" cx="274.4" cy="51.7" r="2"/><circle class="k20" cx="310.5" cy="42.0" r="2"/><circle class="k23" cx="402.8" cy="41.4" r="2"/><circle class="k11" cx="279.0" cy="51.0" r="2"/><circle class="k2" cx="232.8" cy="41.9" r="2"/><circle class="k0" cx="184.4" cy="40.8" r="2"/><circle class="k10" cx="239.6" cy="45.4" r="2"/><circle class="k14" cx="312.5" cy="35.7" r="2"/><circle class="k1" cx="195.2" cy="40.4" r="2"/><circle class="k21" cx="278.0" cy="30.5" r="2"/><circle class="k14" cx="280.4" cy="30.3" r="2"/><circle class="k1" cx="209.6" cy="41.4" r="2"/><circle class="k21" cx="293.8" cy="49.0" r="2"/><circle class="k14" cx="281.6" cy="52.5" r="2"/><circle class="k18" cx="309.8" cy="46.1" r="2"/><circle class="k22" cx="321.3" cy="42.0" r="2"/><circle class="k0" cx="196.4" cy="40.4" r="2"/><circle class="k22" cx="353.6" cy="41.4" r="2"/><circle class="k1" cx="250.3" cy="38.0" r="2"/><circle class="k20" cx="338.0" cy="43.8" r="2"/><circle class="k22" cx="324.8" cy="36.6" r="2"/><circle class="k14" cx="276.8" cy="52.1" r="2"/><circle class="k16" cx="238.2" cy="42.4" r="2"/><circle class="k21" cx="336.8" cy="44.0" r="2"/><circle class="k9" cx="263.6" cy="40.5" r="2"/><circle class="k21" cx="295.8" cy="32.0" r="2"/><circle class="k23" cx="389.6" cy="41.0" r="2"/><circle class="k2" cx="234.8" cy="37.9" r="2"/><circle class="k15" cx="319.1" cy="44.3" r="2"/><circle class="k2" cx="254.0" cy="38.5" r="2"/><circle class="k14" cx="288.8" cy="52.9" r="2"/><circle class="k7" cx="234.8" cy="44.8" r="2"/><circle class="k22" cx="354.3" cy="41.3" r="2"/><circle class="k12" cx="270.2" cy="38.9" r="2"/><circle class="k16" cx="300.6" cy="47.9" r="2"/><circle class="k1" cx="183.2" cy="40.8" r="2"/><circle class="k0" cx="220.8" cy="41.3" r="2"/><circle class="k23" cx="377.6" cy="41.9" r="2"/><circle class="k20" cx="301.0" cy="41.3" r="2"/><circle class="k1" cx="159.2" cy="41.4" r="2"/><circle class="k3" cx="245.6" cy="46.3" r="2"/><circle class="k0" cx="178.4" cy="41.8" r="2"/><circle class="k1" cx="279.2" cy="30.4" r="2"/><circle class="k0" cx="198.8" cy="40.3" r="2"/><circle class="k14" cx="308.6" cy="40.8" r="2"/><circle class="k22" cx="354.8" cy="42.4" r="2"/><circle class="k0" cx="171.2" cy="41.1" r="2"/><circle class="k1" cx="248.1" cy="45.3" r="2"/><circle class="k22" cx="363.2" cy="40.5" r="2"/><circle class="k4" cx="304.1" cy="43.4" r="2"/><circle class="k1" cx="236.6" cy="39.2" r="2"/><circle class="k23" cx="380.0" cy="41.9" r="2"/><circle class="k1" cx="167.6" cy="41.5" r="2"/><circle class="k22" cx="416.0" cy="41.4" r="2"/><circle class="k18" cx="351.2" cy="42.6" r="2"/><circle class="k12" cx="277.6" cy="49.4" r="2"/><circle class="k23" cx="330.6" cy="43.8" r="2"/><circle class="k1" cx="209.6" cy="42.8" r="2"/><circle class="k11" cx="275.6" cy="30.8" r="2"/><circle class="k1" cx="185.6" cy="40.7" r="2"/><circle class="k13" cx="311.4" cy="37.4" r="2"/><circle class="k19" cx="306.3" cy="43.1" r="2"/><circle class="k2" cx="232.4" cy="44.5" r="2"/><circle class="k17" cx="309.2" cy="49.4" r="2"/><circle class="k1" cx="195.2" cy="41.4" r="2"/><circle class="k21" cx="326.0" cy="45.8" r="2"/><circle class="k0" cx="146.8" cy="41.4" r="2"/><circle class="k23" cx="420.6" cy="41.4" r="2"/></g>
<g><circle class="k1" cx="229.3" cy="72.1" r="2"/><circle class="k15" cx="270.1" cy="67.9" r="2"/><circle class="k0" cx="264.7" cy="68.9" r="2"/><circle class="k22" cx="302.5" cy="64.6" r="2"/><circle class="k21" cx="295.3" cy="77.8" r="2"/><circle class="k0" cx="392.9" cy="72.7" r="2"/><circle class="k0" cx="262.2" cy="74.6" r="2"/><circle class="k1" cx="417.4" cy="72.1" r="2"/><circle class="k16" cx="277.5" cy="66.7" r="2"/><circle class="k22" cx="312.8" cy="69.1" r="2"/><circle class="k19" cx="278.8" cy="62.8" r="2"/><circle class="k1" cx="259.3" cy="77.0" r="2"/><circle class="k19" cx="330.8" cy="73.0" r="2"/><circle class="k17" cx="268.9" cy="64.4" r="2"/><circle class="k14" cx="267.7" cy="68.5" r="2"/><circle class="k10" cx="261.7" cy="67.2" r="2"/><circle class="k0" cx="424.6" cy="72.2" r="2"/><circle class="k1" cx="434.2" cy="72.5" r="2"/><circle class="k1" cx="381.2" cy="72.1" r="2"/><circle class="k0" cx="400.6" cy="72.1" r="2"/><circle class="k20" cx="281.1" cy="69.7" r="2"/><circle class="k2" cx="361.7" cy="72.7" r="2"/><circle class="k1" cx="232.9" cy="72.0" r="2"/><circle class="k2" cx="258.1" cy="68.1" r="2"/><circle class="k22" cx="328.4" cy="71.7" r="2"/><circle class="k22" cx="322.4" cy="72.4" r="2"/><circle class="k20" cx="277.3" cy="61.7" r="2"/><circle class="k17" cx="264.2" cy="73.7" r="2"/><circle class="k1" cx="241.8" cy="72.3" r="2"/><circle class="k21" cx="320.0" cy="73.9" r="2"/><circle class="k2" cx="344.0" cy="72.7" r="2"/><circle class="k13" cx="272.5" cy="81.8" r="2"/><circle class="k17" cx="292.9" cy="71.1" r="2"/><circle class="k0" cx="230.5" cy="72.1" r="2"/><circle class="k23" cx="293.9" cy="75.9" r="2"/><circle class="k2" cx="256.9" cy="68.3" r="2"/><circle class="k0" cx="430.6" cy="72.2" r="2"/><circle class="k1" cx="228.1" cy="72.1" r="2"/><circle class="k12" cx="264.1" cy="78.5" r="2"/><circle class="k0" cx="242.5" cy="71.1" r="2"/><circle class="k20" cx="285.9" cy="67.0" r="2"/><circle class="k0" cx="236.5" cy="71.8" r="2"/><circle class="k1" cx="234.1" cy="72.8" r="2"/><circle class="k1" cx="210.1" cy="72.4" r="2"/><circle class="k0" cx="219.7" cy="72.2" r="2"/><circle class="k20" cx="327.2" cy="71.6" r="2"/><circle class="k1" cx="223.3" cy="72.2" r="2"/><circle class="k21" cx="327.2" cy="73.1" r="2"/><circle class="k23" cx="298.9" cy="63.0" r="2"/><circle class="k2" cx="350.0" cy="72.7" r="2"/><circle class="k22" cx="301.4" cy="79.3" r="2"/><circle class="k5" cx="305.5" cy="71.8" r="2"/><circle class="k22" cx="323.6" cy="71.3" r="2"/><circle class="k22" cx="295.3" cy="63.5" r="2"/><circle class="k20" cx="276.1" cy="61.9" r="2"/><circle class="k22" cx="315.2" cy="69.8" r="2"/><circle class="k0" cx="382.5" cy="72.7" r="2"/><circle class="k0" cx="368.2" cy="72.1" r="2"/><circle class="k14" cx="285.1" cy="78.7" r="2"/><circle class="k20" cx="282.6" cy="68.4" r="2"/><circle class="k12" cx="334.4" cy="72.8" r="2"/><circle class="k1" cx="418.6" cy="72.6" r="2"/><circle class="k1" cx="235.3" cy="72.8" r="2"/><circle class="k19" cx="330.8" cy="71.8" r="2"/><circle class="k23" cx="290.5" cy="61.0" r="2"/><circle class="k8" cx="259.3" cy="67.8" r="2"/><circle class="k21" cx="356.5" cy="72.7" r="2"/><circle class="k0" cx="377.3" cy="72.1" r="2"/><circle class="k2" cx="243.7" cy="72.4" r="2"/><circle class="k17" cx="265.3" cy="78.9" r="2"/><circle class="k1" cx="410.2" cy="72.7" r="2"/><circle class="k1" cx="220.9" cy="72.5" r="2"/><circle class="k21" cx="309.8" cy="74.9" r="2"/><circle class="k1" cx="407.8" cy="72.7" r="2"/><circle class="k23" cx="307.0" cy="66.7" r="2"/><circle class="k21" cx="291.7" cy="83.7" r="2"/><circle class="k22" cx="293.4" cy="77.8" r="2"/><circle class="k4" cx="342.8" cy="72.0" r="2"/><circle class="k1" cx="422.2" cy="72.6" r="2"/><circle class="k21" cx="302.5" cy="80.2" r="2"/><circle class="k22" cx="290.7" cy="66.0" r="2"/><circle class="k21" cx="326.0" cy="71.6" r="2"/><circle class="k0" cx="403.0" cy="72.1" r="2"/><circle class="k1" cx="423.4" cy="72.2" r="2"/><circle class="k3" cx="253.3" cy="75.7" r="2"/><circle class="k17" cx="273.2" cy="76.4" r="2"/><circle class="k2" cx="258.9" cy="70.5" r="2"/><circle class="k15" cx="274.4" cy="69.2" r="2"/><circle class="k14" cx="278.3" cy="76.0" r="2"/><circle class="k1" cx="240.1" cy="73.4" r="2"/><circle class="k1" cx="241.3" cy="71.3" r="2"/><circle class="k1" cx="389.0" cy="72.1" r="2"/><circle class="k21" cx="294.1" cy="73.5" r="2"/><circle class="k1" cx="411.4" cy="72.1" r="2"/><circle class="k21" cx="283.3" cy="60.9" r="2"/><circle class="k5" cx="280.9" cy="61.1" r="2"/><circle class="k23" cx="340.4" cy="72.8" r="2"/><circle class="k21" cx="316.0" cy="71.2" r="2"/><circle class="k3" cx="281.4" cy="71.6" r="2"/><circle class="k14" cx="333.2" cy="71.9" r="2"/><circle class="k0" cx="404.2" cy="72.7" r="2"/><circle class="k21" cx="355.2" cy="72.7" r="2"/><circle class="k22" cx="303.6" cy="74.6" r="2"/><circle class="k21" cx="305.9" cy="66.1" r="2"/><circle class="k23" cx="274.7" cy="77.9" r="2"/><circle class="k20" cx="284.9" cy="76.5" r="2"/><circle class="k0" cx="382.5" cy="72.1" r="2"/><circle class="k21" cx="356.5" cy="72.1" r="2"/><circle class="k18" cx="284.5" cy="83.9" r="2"/><circle class="k21" cx="289.6" cy="63.5" r="2"/><circle class="k1" cx="409.0" cy="72.1" r="2"/><circle class="k22" cx="297.7" cy="82.2" r="2"/><circle class="k5" cx="270.9" cy="75.5" r="2"/><circle class="k23" cx="311.6" cy="68.7" r="2"/><circle class="k22" cx="296.5" cy="70.2" r="2"/><circle class="k0" cx="428.2" cy="72.2" r="2"/><circle class="k22" cx="295.3" cy="82.8" r="2"/><circle class="k23" cx="308.3" cy="76.1" r="2"/><circle class="k19" cx="329.6" cy="71.7" r="2"/><circle class="k21" cx="302.9" cy="72.4" r="2"/><circle class="k18" cx="275.9" cy="70.4" r="2"/><circle class="k0" cx="366.9" cy="72.1" r="2"/><circle class="k2" cx="360.4" cy="72.1" r="2"/><circle class="k23" cx="308.8" cy="73.2" r="2"/><circle class="k1" cx="381.2" cy="72.7" r="2"/><circle class="k23" cx="294.7" cy="69.2" r="2"/><circle class="k1" cx="418.6" cy="72.2" r="2"/><circle class="k0" cx="373.4" cy="72.1" r="2"/><circle class="k23" cx="310.7" cy="72.9" r="2"/><circle class="k22" cx="318.8" cy="74.1" r="2"/><circle class="k19" cx="279.4" cy="74.4" r="2"/><circle class="k1" cx="435.4" cy="72.4" r="2"/><circle class="k1" cx="246.1" cy="74.1" r="2"/><circle class="k22" cx="309.7" cy="71.2" r="2"/><circle class="k21" cx="297.6" cy="64.4" r="2"/><circle class="k21" cx="312.6" cy="73.1" r="2"/><circle class="k1" cx="235.3" cy="72.0" r="2"/><circle class="k20" cx="323.6" cy="73.5" r="2"/><circle class="k21" cx="320.0" cy="72.4" r="2"/><circle class="k21" cx="288.1" cy="83.9" r="2"/><circle class="k1" cx="364.3" cy="72.7" r="2"/><circle class="k3" cx="345.2" cy="72.1" r="2"/><circle class="k21" cx="294.1" cy="61.7" r="2"/><circle class="k19" cx="332.0" cy="71.9" r="2"/><circle class="k1" cx="231.7" cy="72.1" r="2"/><circle class="k1" cx="216.1" cy="72.4" r="2"/><circle class="k12" cx="267.7" cy="79.8" r="2"/><circle class="k22" cx="357.8" cy="72.7" r="2"/><circle class="k21" cx="287.6" cy="63.1" r="2"/><circle class="k23" cx="310.4" cy="76.6" r="2"/><circle class="k8" cx="260.9" cy="70.8" r="2"/><circle class="k12" cx="273.2" cy="65.5" r="2"/><circle class="k21" cx="306.7" cy="68.4" r="2"/><circle class="k22" cx="299.9" cy="65.2" r="2"/><circle class="k1" cx="412.6" cy="72.6" r="2"/><circle class="k1" cx="395.5" cy="72.1" r="2"/><circle class="k17" cx="271.3" cy="81.3" r="2"/><circle class="k0" cx="399.4" cy="72.1" r="2"/><circle class="k1" cx="429.4" cy="72.2" r="2"/><circle class="k8" cx="260.5" cy="67.6" r="2"/><circle class="k23" cx="290.9" cy="71.0" r="2"/><circle class="k0" cx="386.4" cy="72.7" r="2"/><circle class="k20" cx="276.0" cy="76.4" r="2"/><circle class="k21" cx="279.6" cy="78.6" r="2"/><circle class="k20" cx="289.1" cy="70.2" r="2"/><circle class="k21" cx="293.9" cy="67.2" r="2"/><circle class="k16" cx="284.0" cy="70.7" r="2"/><circle class="k1" cx="413.8" cy="72.6" r="2"/><circle class="k0" cx="424.6" cy="72.6" r="2"/><circle class="k16" cx="273.7" cy="62.5" r="2"/><circle class="k22" cx="293.3" cy="65.2" r="2"/><circle class="k0" cx="247.2" cy="71.5" r="2"/><circle class="k22" cx="307.0" cy="70.5" r="2"/><circle class="k0" cx="224.5" cy="72.6" r="2"/><circle class="k0" cx="419.8" cy="72.2" r="2"/><circle class="k0" cx="413.8" cy="72.1" r="2"/><circle class="k1" cx="365.6" cy="72.1" r="2"/><circle class="k1" cx="264.1" cy="66.3" r="2"/><circle class="k14" cx="298.4" cy="75.3" r="2"/><circle class="k23" cx="302.1" cy="67.8" r="2"/><circle class="k1" cx="254.2" cy="73.5" r="2"/><circle class="k16" cx="280.4" cy="82.6" r="2"/><circle class="k0" cx="406.6" cy="72.1" r="2"/><circle class="k13" cx="273.1" cy="79.1" r="2"/><circle class="k17" cx="266.5" cy="79.4" r="2"/><circle class="k23" cx="315.3" cy="73.6" r="2"/><circle class="k0" cx="363.0" cy="72.1" r="2"/><circle class="k2" cx="247.3" cy="70.4" r="2"/><circle class="k1" cx="244.9" cy="70.9" r="2"/><circle class="k1" cx="259.8" cy="72.4" r="2"/><circle class="k21" cx="291.6" cy="64.2" r="2"/><circle class="k1" cx="373.4" cy="72.7" r="2"/><circle class="k19" cx="338.0" cy="72.0" r="2"/><circle class="k13" cx="267.7" cy="64.9" r="2"/><circle class="k21" cx="306.7" cy="73.5" r="2"/><circle class="k18" cx="335.6" cy="72.0" r="2"/><circle class="k22" cx="312.8" cy="75.6" r="2"/><circle class="k21" cx="295.9" cy="75.4" r="2"/><circle class="k1" cx="228.1" cy="72.7" r="2"/><circle class="k20" cx="359.1" cy="72.7" r="2"/><circle class="k0" cx="366.9" cy="72.7" r="2"/><circle class="k23" cx="286.2" cy="75.1" r="2"/><circle class="k0" cx="409.0" cy="72.7" r="2"/><circle class="k19" cx="280.3" cy="67.8" r="2"/><circle class="k0" cx="243.7" cy="73.8" r="2"/><circle class="k22" cx="305.6" cy="77.6" r="2"/><circle class="k1" cx="250.9" cy="69.6" r="2"/><circle class="k3" cx="260.3" cy="75.4" r="2"/><circle class="k0" cx="226.9" cy="72.6" r="2"/><circle class="k22" cx="280.9" cy="62.9" r="2"/><circle class="k1" cx="400.6" cy="72.7" r="2"/><circle class="k0" cx="241.3" cy="73.5" r="2"/><circle class="k0" cx="425.8" cy="72.2" r="2"/><circle class="k1" cx="351.3" cy="72.1" r="2"/><circle class="k21" cx="293.3" cy="62.7" r="2"/><circle class="k22" cx="301.3" cy="64.0" r="2"/><circle class="k23" cx="288.1" cy="72.6" r="2"/><circle class="k16" cx="304.8" cy="65.6" r="2"/><circle class="k10" cx="254.0" cy="71.5" r="2"/><circle class="k6" cx="254.5" cy="76.0" r="2"/><circle class="k1" cx="214.9" cy="72.4" r="2"/><circle class="k2" cx="242.5" cy="72.4" r="2"/><circle class="k22" cx="275.8" cy="81.1" r="2"/><circle class="k0" cx="372.1" cy="72.1" r="2"/><circle class="k1" cx="436.6" cy="72.4" r="2"/><circle class="k19" cx="270.9" cy="73.1" r="2"/><circle class="k23" cx="298.0" cy="79.1" r="2"/><circle class="k20" cx="322.4" cy="73.6" r="2"/><circle class="k1" cx="236.5" cy="73.0" r="2"/><circle class="k21" cx="315.2" cy="75.0" r="2"/><circle class="k23" cx="280.7" cy="65.8" r="2"/><circle class="k1" cx="263.4" cy="70.7" r="2"/><circle class="k0" cx="399.4" cy="72.7" r="2"/><circle class="k0" cx="385.1" cy="72.1" r="2"/><circle class="k17" cx="264.7" cy="76.8" r="2"/><circle class="k15" cx="273.7" cy="81.0" r="2"/><circle class="k0" cx="237.7" cy="71.7" r="2"/><circle class="k4" cx="334.4" cy="72.0" r="2"/><circle class="k1" cx="230.5" cy="72.7" r="2"/><circle class="k1" cx="240.1" cy="71.4" r="2"/><circle class="k16" cx="278.1" cy="82.1" r="2"/><circle class="k17" cx="297.9" cy="73.4" r="2"/><circle class="k1" cx="378.6" cy="72.1" r="2"/><circle class="k1" cx="222.1" cy="72.6" r="2"/><circle class="k0" cx="419.8" cy="72.6" r="2"/><circle class="k21" cx="270.1" cy="80.8" r="2"/><circle class="k13" cx="275.1" cy="66.5" r="2"/><circle class="k20" cx="333.2" cy="72.9" r="2"/><circle class="k21" cx="291.6" cy="76.9" r="2"/><circle class="k21" cx="282.9" cy="76.8" r="2"/><circle class="k0" cx="394.2" cy="72.1" r="2"/><circle class="k1" cx="431.8" cy="72.2" r="2"/><circle class="k6" cx="249.7" cy="69.8" r="2"/><circle class="k16" cx="317.1" cy="72.9" r="2"/><circle class="k0" cx="434.2" cy="72.3" r="2"/><circle class="k14" cx="268.1" cy="78.9" r="2"/><circle class="k1" cx="417.4" cy="72.6" r="2"/><circle class="k17" cx="290.9" cy="72.9" r="2"/><circle class="k0" cx="222.1" cy="72.2" r="2"/><circle class="k3" cx="254.5" cy="68.8" r="2"/><circle class="k0" cx="361.7" cy="72.1" r="2"/><circle class="k18" cx="303.5" cy="78.7" r="2"/><circle class="k22" cx="290.5" cy="83.8" r="2"/><circle class="k1" cx="390.3" cy="72.1" r="2"/><circle class="k18" cx="274.9" cy="82.6" r="2"/><circle class="k0" cx="376.0" cy="72.7" r="2"/><circle class="k2" cx="248.5" cy="70.1" r="2"/><circle class="k20" cx="269.2" cy="71.2" r="2"/><circle class="k1" cx="378.6" cy="72.7" r="2"/><circle class="k21" cx="271.6" cy="77.5" r="2"/><circle class="k20" cx="282.5" cy="74.2" r="2"/><circle class="k4" cx="248.5" cy="74.7" r="2"/><circle class="k22" cx="285.7" cy="84.0" r="2"/><circle class="k4" cx="280.9" cy="77.1" r="2"/><circle class="k22" cx="290.9" cy="80.7" r="2"/><circle class="k1" cx="372.1" cy="72.7" r="2"/><circle class="k18" cx="270.2" cy="65.8" r="2"/><circle class="k4" cx="256.6" cy="74.9" r="2"/><circle class="k1" cx="365.6" cy="72.7" r="2"/><circle class="k1" cx="243.6" cy="72.7" r="2"/><circle class="k21" cx="282.7" cy="82.3" r="2"/><circle class="k0" cx="428.2" cy="72.6" r="2"/><circle class="k22" cx="303.7" cy="65.1" r="2"/><circle class="k17" cx="270.0" cy="79.5" r="2"/><circle class="k0" cx="430.6" cy="72.6" r="2"/><circle class="k0" cx="218.5" cy="72.3" r="2"/><circle class="k2" cx="357.8" cy="72.1" r="2"/><circle class="k0" cx="422.2" cy="72.2" r="2"/><circle class="k1" cx="385.1" cy="72.7" r="2"/><circle class="k1" cx="370.8" cy="72.1" r="2"/><circle class="k23" cx="323.6" cy="72.4" r="2"/><circle class="k22" cx="296.2" cy="72.4" r="2"/><circle class="k1" cx="352.6" cy="72.7" r="2"/><circle class="k1" cx="225.7" cy="72.6" r="2"/><circle class="k21" cx="270.1" cy="64.0" r="2"/><circle class="k23" cx="309.2" cy="67.7" r="2"/><circle class="k0" cx="423.4" cy="72.6" r="2"/><circle class="k21" cx="318.8" cy="70.7" r="2"/><circle class="k23" cx="322.4" cy="71.1" r="2"/><circle class="k21" cx="303.3" cy="76.7" r="2"/><circle class="k22" cx="317.6" cy="74.4" r="2"/><circle class="k2" cx="244.9" cy="72.4" r="2"/><circle class="k21" cx="271.3" cy="63.5" r="2"/><circle class="k1" cx="220.9" cy="72.2" r="2"/><circle class="k23" cx="308.1" cy="77.6" r="2"/><circle class="k1" cx="405.4" cy="72.1" r="2"/><circle class="k0" cx="411.4" cy="72.7" r="2"/><circle class="k19" cx="282.1" cy="78.6" r="2"/><circle class="k20" cx="324.8" cy="71.5" r="2"/><circle class="k21" cx="262.9" cy="66.8" r="2"/><circle class="k1" cx="387.7" cy="72.7" r="2"/><circle class="k0" cx="431.8" cy="72.6" r="2"/><circle class="k21" cx="298.4" cy="66.6" r="2"/><circle class="k1" cx="223.3" cy="72.6" r="2"/><circle class="k1" cx="379.9" cy="72.1" r="2"/><circle class="k20" cx="283.3" cy="83.9" r="2"/><circle class="k0" cx="383.8" cy="72.1" r="2"/><circle class="k20" cx="281.2" cy="80.9" r="2"/><circle class="k1" cx="379.9" cy="72.7" r="2"/><circle class="k17" cx="286.0" cy="72.0" r="2"/><circle class="k23" cx="312.4" cy="70.1" r="2"/><circle class="k20" cx="280.9" cy="83.7" r="2"/><circle class="k23" cx="289.0" cy="76.7" r="2"/><circle class="k17" cx="321.2" cy="72.4" r="2"/><circle class="k0" cx="226.9" cy="72.2" r="2"/><circle class="k22" cx="324.8" cy="73.3" r="2"/><circle class="k21" cx="279.7" cy="83.6" r="2"/><circle class="k1" cx="416.2" cy="72.6" r="2"/><circle class="k21" cx="297.4" cy="77.1" r="2"/><circle class="k19" cx="275.9" cy="63.7" r="2"/><circle class="k21" cx="284.1" cy="65.7" r="2"/><circle class="k6" cx="258.1" cy="76.7" r="2"/><circle class="k1" cx="347.6" cy="72.7" r="2"/><circle class="k2" cx="351.3" cy="72.7" r="2"/><circle class="k0" cx="353.9" cy="72.7" r="2"/><circle class="k22" cx="321.2" cy="73.8" r="2"/><circle class="k19" cx="278.5" cy="61.4" r="2"/><circle class="k20" cx="276.9" cy="68.8" r="2"/><circle class="k19" cx="284.5" cy="60.8" r="2"/><circle class="k0" cx="217.3" cy="72.4" r="2"/><circle class="k12" cx="339.2" cy="72.0" r="2"/><circle class="k3" cx="252.1" cy="75.5" r="2"/><circle class="k22" cx="286.8" cy="79.8" r="2"/><circle class="k22" cx="292.5" cy="82.5" r="2"/><circle class="k17" cx="310.4" cy="68.2" r="2"/><circle class="k23" cx="297.9" cy="68.6" r="2"/><circle class="k22" cx="276.7" cy="78.5" r="2"/><circle class="k22" cx="300.6" cy="72.4" r="2"/><circle class="k22" cx="295.9" cy="66.6" r="2"/><circle class="k16" cx="288.9" cy="82.5" r="2"/><circle class="k1" cx="376.0" cy="72.1" r="2"/><circle class="k23" cx="296.8" cy="80.7" r="2"/><circle class="k14" cx="292.9" cy="61.4" r="2"/><circle class="k22" cx="279.7" cy="61.1" r="2"/><circle class="k9" cx="262.4" cy="72.4" r="2"/><circle class="k0" cx="440.2" cy="72.4" r="2"/><circle class="k19" cx="274.9" cy="62.2" r="2"/><circle class="k19" cx="335.6" cy="72.8" r="2"/><circle class="k22" cx="300.1" cy="63.5" r="2"/><circle class="k20" cx="326.0" cy="73.2" r="2"/><circle class="k0" cx="369.5" cy="72.1" r="2"/><circle class="k21" cx="291.7" cy="61.1" r="2"/><circle class="k20" cx="283.4" cy="80.4" r="2"/><circle class="k15" cx="252.1" cy="69.3" r="2"/><circle class="k20" cx="282.1" cy="83.8" r="2"/><circle class="k1" cx="242.5" cy="73.6" r="2"/><circle class="k11" cx="346.4" cy="72.1" r="2"/><circle class="k22" cx="287.9" cy="68.7" r="2"/><circle class="k1" cx="369.5" cy="72.7" r="2"/><circle class="k2" cx="257.1" cy="71.8" r="2"/><circle class="k0" cx="412.6" cy="72.1" r="2"/><circle class="k1" cx="352.6" cy="72.1" r="2"/><circle class="k20" cx="336.8" cy="72.8" r="2"/><circle class="k22" cx="314.0" cy="75.3" r="2"/><circle class="k13" cx="269.5" cy="77.5" r="2"/><circle class="k2" cx="346.4" cy="72.7" r="2"/><circle class="k1" cx="392.9" cy="72.1" r="2"/><circle class="k7" cx="246.1" cy="70.7" r="2"/><circle class="k2" cx="342.8" cy="72.7" r="2"/><circle class="k0" cx="437.8" cy="72.4" r="2"/><circle class="k18" cx="266.9" cy="77.3" r="2"/><circle class="k20" cx="268.9" cy="80.3" r="2"/><circle class="k9" cx="350.0" cy="72.1" r="2"/><circle class="k4" cx="260.5" cy="77.2" r="2"/><circle class="k0" cx="403.0" cy="72.7" r="2"/><circle class="k0" cx="232.9" cy="72.7" r="2"/><circle class="k7" cx="261.1" cy="68.8" r="2"/><circle class="k20" cx="288.1" cy="60.9" r="2"/><circle class="k17" cx="288.8" cy="80.2" r="2"/><circle class="k0" cx="396.8" cy="72.7" r="2"/><circle class="k1" cx="364.3" cy="72.1" r="2"/><circle class="k1" cx="245.4" cy="72.0" r="2"/><circle class="k22" cx="285.7" cy="60.8" r="2"/><circle class="k23" cx="305.9" cy="78.7" r="2"/><circle class="k21" cx="319.2" cy="72.6" r="2"/><circle class="k0" cx="427.0" cy="72.2" r="2"/><circle class="k20" cx="278.9" cy="69.2" r="2"/><circle class="k16" cx="332.0" cy="72.9" r="2"/><circle class="k22" cx="302.4" cy="65.7" r="2"/><circle class="k20" cx="282.1" cy="61.0" r="2"/><circle class="k23" cx="314.0" cy="69.4" r="2"/><circle class="k9" cx="267.6" cy="75.0" r="2"/><circle class="k21" cx="299.7" cy="77.9" r="2"/><circle class="k0" cx="415.0" cy="72.6" r="2"/><circle class="k22" cx="288.6" cy="66.7" r="2"/><circle class="k1" cx="374.7" cy="72.1" r="2"/><circle class="k20" cx="284.8" cy="82.7" r="2"/><circle class="k15" cx="257.2" cy="69.4" r="2"/><circle class="k19" cx="277.0" cy="74.6" r="2"/><circle class="k21" cx="294.1" cy="83.1" r="2"/><circle class="k14" cx="272.1" cy="67.6" r="2"/><circle class="k20" cx="324.8" cy="72.4" r="2"/><circle class="k19" cx="345.2" cy="72.7" r="2"/><circle class="k4" cx="341.6" cy="72.0" r="2"/><circle class="k13" cx="272.5" cy="63.0" r="2"/><circle class="k22" cx="300.1" cy="81.2" r="2"/><circle class="k20" cx="290.1" cy="78.4" r="2"/><circle class="k0" cx="439.0" cy="72.4" r="2"/><circle class="k17" cx="340.4" cy="72.0" r="2"/><circle class="k0" cx="387.7" cy="72.1" r="2"/><circle class="k3" cx="339.2" cy="72.8" r="2"/><circle class="k0" cx="241.3" cy="72.4" r="2"/><circle class="k22" cx="278.5" cy="83.4" r="2"/><circle class="k22" cx="265.3" cy="65.8" r="2"/><circle class="k0" cx="234.1" cy="72.0" r="2"/><circle class="k21" cx="286.7" cy="82.1" r="2"/><circle class="k1" cx="406.6" cy="72.7" r="2"/><circle class="k18" cx="291.4" cy="62.4" r="2"/><circle class="k1" cx="212.5" cy="72.4" r="2"/><circle class="k0" cx="377.3" cy="72.7" r="2"/><circle class="k20" cx="268.0" cy="66.1" r="2"/><circle class="k18" cx="289.3" cy="61.0" r="2"/><circle class="k16" cx="292.9" cy="83.4" r="2"/><circle class="k2" cx="360.4" cy="72.7" r="2"/><circle class="k22" cx="304.7" cy="69.6" r="2"/><circle class="k19" cx="273.9" cy="63.7" r="2"/><circle class="k15" cx="277.3" cy="83.1" r="2"/><circle class="k21" cx="276.1" cy="82.8" r="2"/><circle class="k1" cx="348.8" cy="72.7" r="2"/><circle class="k21" cx="328.4" cy="73.1" r="2"/><circle class="k22" cx="289.3" cy="83.8" r="2"/><circle class="k21" cx="294.8" cy="80.3" r="2"/><circle class="k22" cx="317.6" cy="70.4" r="2"/><circle class="k1" cx="224.5" cy="72.2" r="2"/><circle class="k1" cx="425.8" cy="72.6" r="2"/><circle class="k21" cx="287.1" cy="77.0" r="2"/><circle class="k0" cx="243.7" cy="71.0" r="2"/><circle class="k22" cx="266.8" cy="70.3" r="2"/><circle class="k0" cx="421.0" cy="72.2" r="2"/><circle class="k1" cx="410.2" cy="72.1" r="2"/><circle class="k23" cx="316.4" cy="74.7" r="2"/><circle class="k4" cx="284.8" cy="73.6" r="2"/><circle class="k1" cx="391.6" cy="72.1" r="2"/><circle class="k1" cx="244.9" cy="73.9" r="2"/><circle class="k0" cx="415.0" cy="72.1" r="2"/><circle class="k1" cx="396.8" cy="72.1" r="2"/><circle class="k1" cx="429.4" cy="72.6" r="2"/><circle class="k21" cx="329.6" cy="73.0" r="2"/><circle class="k0" cx="238.9" cy="73.2" r="2"/><circle class="k22" cx="299.6" cy="80.4" r="2"/><circle class="k20" cx="254.9" cy="69.8" r="2"/><circle class="k21" cx="305.0" cy="67.5" r="2"/><circle class="k0" cx="348.8" cy="72.1" r="2"/><circle class="k21" cx="295.3" cy="62.0" r="2"/><circle class="k10" cx="250.9" cy="75.2" r="2"/><circle class="k17" cx="268.7" cy="73.1" r="2"/><circle class="k0" cx="416.2" cy="72.1" r="2"/><circle class="k16" cx="290.0" cy="68.2" r="2"/><circle class="k16" cx="262.9" cy="78.0" r="2"/><circle class="k1" cx="395.5" cy="72.7" r="2"/><circle class="k22" cx="308.1" cy="67.2" r="2"/><circle class="k16" cx="307.0" cy="78.1" r="2"/><circle class="k1" cx="231.7" cy="72.7" r="2"/><circle class="k8" cx="255.7" cy="76.2" r="2"/><circle class="k1" cx="355.2" cy="72.1" r="2"/><circle class="k7" cx="265.9" cy="66.7" r="2"/><circle class="k18" cx="301.3" cy="80.7" r="2"/><circle class="k0" cx="374.7" cy="72.7" r="2"/><circle class="k22" cx="304.8" cy="79.2" r="2"/><circle class="k1" cx="389.0" cy="72.7" r="2"/><circle class="k21" cx="286.0" cy="69.8" r="2"/><circle class="k20" cx="278.8" cy="71.3" r="2"/><circle class="k9" cx="238.9" cy="71.5" r="2"/><circle class="k1" cx="398.1" cy="72.1" r="2"/><circle class="k4" cx="271.5" cy="70.5" r="2"/><circle class="k0" cx="370.8" cy="72.7" r="2"/><circle class="k1" cx="219.7" cy="72.5" r="2"/><circle class="k0" cx="390.3" cy="72.7" r="2"/><circle class="k2" cx="344.0" cy="72.0" r="2"/><circle class="k1" cx="391.6" cy="72.7" r="2"/><circle class="k4" cx="251.8" cy="73.4" r="2"/><circle class="k17" cx="272.6" cy="74.4" r="2"/><circle class="k22" cx="320.0" cy="70.8" r="2"/><circle class="k20" cx="285.1" cy="63.3" r="2"/><circle class="k1" cx="405.4" cy="72.7" r="2"/><circle class="k1" cx="401.8" cy="72.1" r="2"/><circle class="k0" cx="398.1" cy="72.7" r="2"/><circle class="k22" cx="359.1" cy="72.1" r="2"/><circle class="k20" cx="336.8" cy="72.0" r="2"/><circle class="k15" cx="265.9" cy="72.8" r="2"/><circle class="k23" cx="291.7" cy="69.1" r="2"/><circle class="k22" cx="284.7" cy="68.5" r="2"/><circle class="k1" cx="211.3" cy="72.4" r="2"/><circle class="k23" cx="297.7" cy="62.6" r="2"/><circle class="k2" cx="261.7" cy="77.6" r="2"/><circle class="k14" cx="274.1" cy="72.7" r="2"/><circle class="k21" cx="309.3" cy="68.8" r="2"/><circle class="k0" cx="386.4" cy="72.1" r="2"/><circle class="k1" cx="421.0" cy="72.6" r="2"/><circle class="k6" cx="263.1" cy="67.8" r="2"/><circle class="k22" cx="299.9" cy="68.0" r="2"/><circle class="k1" cx="240.1" cy="72.4" r="2"/><circle class="k3" cx="296.5" cy="82.5" r="2"/><circle class="k0" cx="363.0" cy="72.7" r="2"/><circle class="k20" cx="322.4" cy="72.2" r="2"/><circle class="k1" cx="256.9" cy="76.5" r="2"/><circle class="k1" cx="218.5" cy="72.5" r="2"/><circle class="k1" cx="225.7" cy="72.2" r="2"/><circle class="k15" cx="271.7" cy="80.5" r="2"/><circle class="k21" cx="311.8" cy="74.9" r="2"/><circle class="k6" cx="229.3" cy="72.7" r="2"/><circle class="k23" cx="286.9" cy="65.2" r="2"/><circle class="k17" cx="274.6" cy="74.6" r="2"/><circle class="k0" cx="394.2" cy="72.7" r="2"/><circle class="k23" cx="292.2" cy="75.0" r="2"/><circle class="k18" cx="298.8" cy="71.5" r="2"/><circle class="k1" cx="213.7" cy="72.4" r="2"/><circle class="k22" cx="266.5" cy="65.4" r="2"/><circle class="k10" cx="249.0" cy="72.7" r="2"/><circle class="k6" cx="253.3" cy="69.0" r="2"/><circle class="k13" cx="265.7" cy="75.0" r="2"/><circle class="k22" cx="309.2" cy="77.1" r="2"/><circle class="k1" cx="401.8" cy="72.7" r="2"/><circle class="k22" cx="290.2" cy="74.9" r="2"/><circle class="k1" cx="427.0" cy="72.6" r="2"/><circle class="k22" cx="298.9" cy="81.7" r="2"/><circle class="k23" cx="313.9" cy="71.5" r="2"/><circle class="k18" cx="276.5" cy="72.3" r="2"/><circle class="k4" cx="338.0" cy="72.8" r="2"/><circle class="k21" cx="296.5" cy="62.3" r="2"/><circle class="k15" cx="321.2" cy="71.0" r="2"/><circle class="k5" cx="251.4" cy="70.7" r="2"/><circle class="k17" cx="257.9" cy="73.5" r="2"/><circle class="k14" cx="278.1" cy="80.0" r="2"/><circle class="k1" cx="347.6" cy="72.1" r="2"/><circle class="k22" cx="305.8" cy="75.4" r="2"/><circle class="k1" cx="353.9" cy="72.1" r="2"/><circle class="k18" cx="301.1" cy="70.6" r="2"/><circle class="k21" cx="286.9" cy="84.0" r="2"/><circle class="k17" cx="288.1" cy="74.5" r="2"/><circle class="k1" cx="368.2" cy="72.7" r="2"/><circle class="k1" cx="237.7" cy="73.1" r="2"/><circle class="k22" cx="303.7" cy="79.7" r="2"/><circle class="k22" cx="286.9" cy="60.8" r="2"/><circle class="k1" cx="208.9" cy="72.4" r="2"/><circle class="k22" cx="301.1" cy="75.2" r="2"/><circle class="k0" cx="407.8" cy="72.1" r="2"/><circle class="k20" cx="277.6" cy="64.6" r="2"/><circle class="k22" cx="316.4" cy="70.1" r="2"/><circle class="k22" cx="311.6" cy="76.0" r="2"/><circle class="k1" cx="383.8" cy="72.7" r="2"/><circle class="k0" cx="262.8" cy="76.5" r="2"/><circle class="k5" cx="249.7" cy="74.9" r="2"/><circle class="k22" cx="292.7" cy="79.9" r="2"/><circle class="k16" cx="341.6" cy="72.7" r="2"/><circle class="k20" cx="273.7" cy="82.3" r="2"/><circle class="k0" cx="404.2" cy="72.1" r="2"/><circle class="k21" cx="282.8" cy="63.5" r="2"/><circle class="k1" cx="255.7" cy="68.5" r="2"/><circle class="k3" cx="247.3" cy="74.4" r="2"/><circle class="k1" cx="433.0" cy="72.5" r="2"/><circle class="k0" cx="433.0" cy="72.2" r="2"/><circle class="k0" cx="444.3" cy="72.4" r="2"/><circle class="k0" cx="451.7" cy="72.4" r="2"/><circle class="k0" cx="458.1" cy="72.4" r="2"/><circle class="k0" cx="464.6" cy="72.4" r="2"/></g>
<g><circle class="k22" cx="239.8" cy="103.4" r="2"/><circle class="k1" cx="330.2" cy="103.6" r="2"/><circle class="k1" cx="286.8" cy="110.9" r="2"/><circle class="k4" cx="295.5" cy="98.7" r="2"/><circle class="k2" cx="296.4" cy="106.2" r="2"/><circle class="k22" cx="263.8" cy="101.9" r="2"/><circle class="k23" cx="254.2" cy="103.7" r="2"/><circle class="k17" cx="271.7" cy="108.5" r="2"/><circle class="k6" cx="320.6" cy="103.1" r="2"/><circle class="k7" cx="286.3" cy="104.9" r="2"/><circle class="k0" cx="337.4" cy="103.3" r="2"/><circle class="k3" cx="288.5" cy="113.3" r="2"/><circle class="k0" cx="272.3" cy="101.7" r="2"/><circle class="k11" cx="278.4" cy="107.7" r="2"/><circle class="k17" cx="245.8" cy="103.3" r="2"/><circle class="k13" cx="277.8" cy="94.1" r="2"/><circle class="k2" cx="311.0" cy="102.5" r="2"/><circle class="k3" cx="290.7" cy="93.0" r="2"/><circle class="k14" cx="281.5" cy="94.0" r="2"/><circle class="k14" cx="266.2" cy="101.2" r="2"/><circle class="k3" cx="310.0" cy="103.4" r="2"/><circle class="k3" cx="304.6" cy="102.3" r="2"/><circle class="k7" cx="289.9" cy="103.6" r="2"/><circle class="k5" cx="286.8" cy="101.8" r="2"/><circle class="k15" cx="282.3" cy="92.2" r="2"/><circle class="k1" cx="336.2" cy="103.3" r="2"/><circle class="k23" cx="244.6" cy="103.3" r="2"/><circle class="k10" cx="283.5" cy="92.0" r="2"/><circle class="k16" cx="281.1" cy="92.3" r="2"/><circle class="k23" cx="235.0" cy="103.4" r="2"/><circle class="k22" cx="262.2" cy="103.3" r="2"/><circle class="k4" cx="279.3" cy="104.1" r="2"/><circle class="k19" cx="271.7" cy="98.4" r="2"/><circle class="k3" cx="307.4" cy="105.5" r="2"/><circle class="k2" cx="308.6" cy="101.8" r="2"/><circle class="k8" cx="267.4" cy="106.0" r="2"/><circle class="k0" cx="357.8" cy="103.4" r="2"/><circle class="k15" cx="283.5" cy="114.8" r="2"/><circle class="k2" cx="315.8" cy="102.9" r="2"/><circle class="k12" cx="281.9" cy="105.8" r="2"/><circle class="k11" cx="293.1" cy="110.7" r="2"/><circle class="k1" cx="341.0" cy="103.4" r="2"/><circle class="k4" cx="302.8" cy="100.9" r="2"/><circle class="k4" cx="301.7" cy="108.1" r="2"/><circle class="k22" cx="254.2" cy="103.1" r="2"/><circle class="k6" cx="291.8" cy="113.3" r="2"/><circle class="k1" cx="294.0" cy="94.6" r="2"/><circle class="k23" cx="283.4" cy="107.8" r="2"/><circle class="k22" cx="261.4" cy="103.4" r="2"/><circle class="k19" cx="290.9" cy="94.3" r="2"/><circle class="k1" cx="313.4" cy="104.1" r="2"/><circle class="k0" cx="325.4" cy="103.2" r="2"/><circle class="k2" cx="309.8" cy="104.6" r="2"/><circle class="k1" cx="335.0" cy="103.3" r="2"/><circle class="k23" cx="249.4" cy="103.7" r="2"/><circle class="k0" cx="319.4" cy="103.1" r="2"/><circle class="k17" cx="269.7" cy="107.1" r="2"/><circle class="k4" cx="303.7" cy="104.9" r="2"/><circle class="k0" cx="356.6" cy="103.4" r="2"/><circle class="k1" cx="308.6" cy="105.1" r="2"/><circle class="k6" cx="295.4" cy="110.0" r="2"/><circle class="k2" cx="321.8" cy="103.2" r="2"/><circle class="k6" cx="266.0" cy="102.3" r="2"/><circle class="k6" cx="282.5" cy="110.6" r="2"/><circle class="k10" cx="289.6" cy="98.8" r="2"/><circle class="k21" cx="279.7" cy="101.8" r="2"/><circle class="k23" cx="280.0" cy="92.9" r="2"/><circle class="k4" cx="305.0" cy="100.4" r="2"/><circle class="k9" cx="296.2" cy="95.8" r="2"/><circle class="k2" cx="306.3" cy="103.2" r="2"/><circle class="k22" cx="237.4" cy="103.4" r="2"/><circle class="k14" cx="276.7" cy="94.7" r="2"/><circle class="k0" cx="342.2" cy="103.4" r="2"/><circle class="k5" cx="292.9" cy="94.1" r="2"/><circle class="k14" cx="289.5" cy="92.6" r="2"/><circle class="k11" cx="290.3" cy="96.6" r="2"/><circle class="k17" cx="272.9" cy="107.4" r="2"/><circle class="k11" cx="283.6" cy="113.5" r="2"/><circle class="k17" cx="260.2" cy="102.5" r="2"/><circle class="k7" cx="291.3" cy="106.1" r="2"/><circle class="k0" cx="308.2" cy="104.1" r="2"/><circle class="k22" cx="262.6" cy="102.2" r="2"/><circle class="k14" cx="281.1" cy="114.5" r="2"/><circle class="k1" cx="287.7" cy="103.5" r="2"/><circle class="k22" cx="259.0" cy="102.7" r="2"/><circle class="k19" cx="288.3" cy="114.5" r="2"/><circle class="k22" cx="244.6" cy="103.6" r="2"/><circle class="k21" cx="257.8" cy="102.8" r="2"/><circle class="k19" cx="265.0" cy="101.6" r="2"/><circle class="k15" cx="261.4" cy="104.5" r="2"/><circle class="k21" cx="279.2" cy="99.8" r="2"/><circle class="k20" cx="262.6" cy="103.4" r="2"/><circle class="k22" cx="253.0" cy="103.2" r="2"/><circle class="k1" cx="309.8" cy="102.2" r="2"/><circle class="k15" cx="276.7" cy="110.9" r="2"/><circle class="k0" cx="343.4" cy="103.4" r="2"/><circle class="k22" cx="253.0" cy="103.7" r="2"/><circle class="k19" cx="271.1" cy="106.7" r="2"/><circle class="k4" cx="300.6" cy="98.2" r="2"/><circle class="k7" cx="281.2" cy="100.1" r="2"/><circle class="k10" cx="294.0" cy="112.3" r="2"/><circle class="k4" cx="301.7" cy="98.8" r="2"/><circle class="k10" cx="282.8" cy="96.0" r="2"/><circle class="k1" cx="338.6" cy="103.4" r="2"/><circle class="k22" cx="259.0" cy="104.2" r="2"/><circle class="k23" cx="255.4" cy="103.1" r="2"/><circle class="k23" cx="241.0" cy="103.4" r="2"/><circle class="k0" cx="359.0" cy="103.4" r="2"/><circle class="k6" cx="295.1" cy="95.1" r="2"/><circle class="k2" cx="311.0" cy="104.3" r="2"/><circle class="k23" cx="245.8" cy="103.6" r="2"/><circle class="k4" cx="280.5" cy="107.8" r="2"/><circle class="k1" cx="325.4" cy="103.7" r="2"/><circle class="k18" cx="257.8" cy="104.1" r="2"/><circle class="k2" cx="320.6" cy="103.7" r="2"/><circle class="k22" cx="243.4" cy="103.3" r="2"/><circle class="k2" cx="312.2" cy="102.6" r="2"/><circle class="k1" cx="347.0" cy="103.4" r="2"/><circle class="k14" cx="268.6" cy="100.4" r="2"/><circle class="k2" cx="314.6" cy="102.8" r="2"/><circle class="k7" cx="296.2" cy="111.1" r="2"/><circle class="k2" cx="312.2" cy="104.2" r="2"/><circle class="k6" cx="292.9" cy="112.8" r="2"/><circle class="k10" cx="290.7" cy="113.8" r="2"/><circle class="k7" cx="321.8" cy="103.7" r="2"/><circle class="k14" cx="276.6" cy="108.8" r="2"/><circle class="k11" cx="279.7" cy="95.4" r="2"/><circle class="k1" cx="319.4" cy="103.7" r="2"/><circle class="k10" cx="286.7" cy="96.3" r="2"/><circle class="k23" cx="256.6" cy="103.9" r="2"/><circle class="k7" cx="271.5" cy="99.9" r="2"/><circle class="k19" cx="285.8" cy="108.4" r="2"/><circle class="k14" cx="277.0" cy="104.5" r="2"/><circle class="k21" cx="264.6" cy="103.7" r="2"/><circle class="k0" cx="330.2" cy="103.2" r="2"/><circle class="k13" cx="273.7" cy="109.9" r="2"/><circle class="k1" cx="354.2" cy="103.4" r="2"/><circle class="k3" cx="307.4" cy="101.3" r="2"/><circle class="k18" cx="260.2" cy="103.4" r="2"/><circle class="k12" cx="281.4" cy="102.9" r="2"/><circle class="k20" cx="279.0" cy="111.6" r="2"/><circle class="k1" cx="323.0" cy="103.7" r="2"/><circle class="k15" cx="278.9" cy="93.5" r="2"/><circle class="k3" cx="305.0" cy="106.5" r="2"/><circle class="k18" cx="263.8" cy="104.9" r="2"/><circle class="k10" cx="288.3" cy="92.4" r="2"/><circle class="k16" cx="265.0" cy="105.3" r="2"/><circle class="k7" cx="302.8" cy="99.3" r="2"/><circle class="k20" cx="266.2" cy="105.7" r="2"/><circle class="k12" cx="286.5" cy="113.4" r="2"/><circle class="k11" cx="273.5" cy="98.6" r="2"/><circle class="k1" cx="345.8" cy="103.4" r="2"/><circle class="k11" cx="278.8" cy="97.1" r="2"/><circle class="k2" cx="295.1" cy="111.7" r="2"/><circle class="k3" cx="274.9" cy="102.0" r="2"/><circle class="k13" cx="284.8" cy="94.1" r="2"/><circle class="k22" cx="267.4" cy="103.9" r="2"/><circle class="k1" cx="339.8" cy="103.4" r="2"/><circle class="k2" cx="318.2" cy="103.8" r="2"/><circle class="k22" cx="260.2" cy="104.4" r="2"/><circle class="k12" cx="270.7" cy="107.8" r="2"/><circle class="k2" cx="302.8" cy="107.6" r="2"/><circle class="k6" cx="292.9" cy="108.5" r="2"/><circle class="k22" cx="236.2" cy="103.4" r="2"/><circle class="k22" cx="289.5" cy="114.3" r="2"/><circle class="k1" cx="284.6" cy="103.6" r="2"/><circle class="k1" cx="349.4" cy="103.4" r="2"/><circle class="k10" cx="294.9" cy="96.3" r="2"/><circle class="k1" cx="309.8" cy="103.4" r="2"/><circle class="k10" cx="285.9" cy="115.0" r="2"/><circle class="k1" cx="306.2" cy="100.9" r="2"/><circle class="k8" cx="317.0" cy="103.0" r="2"/><circle class="k12" cx="279.1" cy="109.6" r="2"/><circle class="k13" cx="273.7" cy="96.9" r="2"/><circle class="k22" cx="278.9" cy="113.3" r="2"/><circle class="k4" cx="274.7" cy="96.2" r="2"/><circle class="k1" cx="327.8" cy="103.2" r="2"/><circle class="k2" cx="300.6" cy="108.6" r="2"/><circle class="k9" cx="288.5" cy="107.5" r="2"/><circle class="k22" cx="286.9" cy="94.0" r="2"/><circle class="k7" cx="348.2" cy="103.4" r="2"/><circle class="k3" cx="288.5" cy="95.7" r="2"/><circle class="k14" cx="263.8" cy="103.4" r="2"/><circle class="k1" cx="351.8" cy="103.4" r="2"/><circle class="k10" cx="292.9" cy="96.4" r="2"/><circle class="k10" cx="287.3" cy="99.9" r="2"/><circle class="k0" cx="324.2" cy="103.2" r="2"/><circle class="k1" cx="318.2" cy="103.1" r="2"/><circle class="k16" cx="269.5" cy="101.9" r="2"/><circle class="k11" cx="289.0" cy="111.4" r="2"/><circle class="k12" cx="276.8" cy="96.7" r="2"/><circle class="k10" cx="284.7" cy="91.9" r="2"/><circle class="k3" cx="303.9" cy="107.0" r="2"/><circle class="k23" cx="273.8" cy="103.6" r="2"/><circle class="k0" cx="344.6" cy="103.4" r="2"/><circle class="k22" cx="284.7" cy="110.3" r="2"/><circle class="k12" cx="270.7" cy="99.0" r="2"/><circle class="k10" cx="284.8" cy="97.2" r="2"/><circle class="k11" cx="288.0" cy="97.8" r="2"/><circle class="k17" cx="284.7" cy="115.0" r="2"/><circle class="k20" cx="271.2" cy="104.3" r="2"/><circle class="k14" cx="284.9" cy="101.0" r="2"/><circle class="k4" cx="279.9" cy="105.9" r="2"/><circle class="k17" cx="269.6" cy="105.4" r="2"/><circle class="k18" cx="275.8" cy="106.3" r="2"/><circle class="k9" cx="298.3" cy="102.2" r="2"/><circle class="k1" cx="333.8" cy="103.6" r="2"/><circle class="k1" cx="299.5" cy="97.6" r="2"/><circle class="k15" cx="268.6" cy="106.4" r="2"/><circle class="k23" cx="243.4" cy="103.6" r="2"/><circle class="k1" cx="302.6" cy="103.4" r="2"/><circle class="k14" cx="267.4" cy="100.8" r="2"/><circle class="k11" cx="273.8" cy="105.5" r="2"/><circle class="k17" cx="272.7" cy="109.2" r="2"/><circle class="k1" cx="335.0" cy="103.6" r="2"/><circle class="k5" cx="298.4" cy="97.0" r="2"/><circle class="k1" cx="323.0" cy="103.2" r="2"/><circle class="k22" cx="251.8" cy="103.7" r="2"/><circle class="k8" cx="297.3" cy="96.4" r="2"/><circle class="k22" cx="250.6" cy="103.7" r="2"/><circle class="k17" cx="275.7" cy="95.4" r="2"/><circle class="k22" cx="238.6" cy="103.4" r="2"/><circle class="k1" cx="331.4" cy="103.6" r="2"/><circle class="k1" cx="332.6" cy="103.6" r="2"/><circle class="k13" cx="274.7" cy="110.7" r="2"/><circle class="k7" cx="289.0" cy="109.4" r="2"/><circle class="k22" cx="251.8" cy="103.2" r="2"/><circle class="k1" cx="336.2" cy="103.6" r="2"/><circle class="k10" cx="298.2" cy="100.0" r="2"/><circle class="k2" cx="313.4" cy="102.7" r="2"/><circle class="k0" cx="355.4" cy="103.4" r="2"/><circle class="k2" cx="293.7" cy="102.3" r="2"/><circle class="k1" cx="317.0" cy="103.9" r="2"/><circle class="k5" cx="291.8" cy="102.4" r="2"/><circle class="k8" cx="282.9" cy="100.9" r="2"/><circle class="k18" cx="277.7" cy="101.5" r="2"/><circle class="k1" cx="326.6" cy="103.7" r="2"/><circle class="k22" cx="255.4" cy="103.8" r="2"/><circle class="k10" cx="291.1" cy="109.5" r="2"/><circle class="k19" cx="283.0" cy="98.5" r="2"/><circle class="k5" cx="329.0" cy="103.2" r="2"/><circle class="k13" cx="285.1" cy="106.4" r="2"/><circle class="k3" cx="299.3" cy="105.3" r="2"/><circle class="k15" cx="275.7" cy="111.4" r="2"/><circle class="k1" cx="329.0" cy="103.6" r="2"/><circle class="k19" cx="280.5" cy="113.1" r="2"/><circle class="k12" cx="282.3" cy="114.7" r="2"/><circle class="k22" cx="242.2" cy="103.3" r="2"/><circle class="k1" cx="280.0" cy="113.9" r="2"/><circle class="k1" cx="314.6" cy="104.0" r="2"/><circle class="k22" cx="247.0" cy="103.6" r="2"/><circle class="k0" cx="353.0" cy="103.4" r="2"/><circle class="k12" cx="285.5" cy="99.0" r="2"/><circle class="k1" cx="350.6" cy="103.4" r="2"/><circle class="k22" cx="272.7" cy="97.7" r="2"/><circle class="k22" cx="248.2" cy="103.6" r="2"/><circle class="k3" cx="306.2" cy="106.0" r="2"/><circle class="k1" cx="297.5" cy="104.0" r="2"/><circle class="k2" cx="293.2" cy="100.1" r="2"/><circle class="k23" cx="248.2" cy="103.2" r="2"/><circle class="k1" cx="326.6" cy="103.2" r="2"/><circle class="k6" cx="291.5" cy="98.5" r="2"/><circle class="k19" cx="287.1" cy="114.7" r="2"/><circle class="k21" cx="256.6" cy="102.9" r="2"/><circle class="k22" cx="276.7" cy="112.1" r="2"/><circle class="k22" cx="242.2" cy="103.6" r="2"/><circle class="k4" cx="288.5" cy="105.4" r="2"/><circle class="k12" cx="276.0" cy="100.4" r="2"/><circle class="k22" cx="247.0" cy="103.2" r="2"/><circle class="k2" cx="300.5" cy="102.9" r="2"/><circle class="k15" cx="277.8" cy="112.7" r="2"/><circle class="k21" cx="269.7" cy="99.7" r="2"/><circle class="k23" cx="250.6" cy="103.2" r="2"/><circle class="k1" cx="332.6" cy="103.3" r="2"/><circle class="k9" cx="298.4" cy="109.8" r="2"/><circle class="k15" cx="285.9" cy="91.9" r="2"/><circle class="k4" cx="288.8" cy="93.7" r="2"/><circle class="k1" cx="324.2" cy="103.7" r="2"/><circle class="k7" cx="290.1" cy="101.1" r="2"/><circle class="k10" cx="297.3" cy="110.5" r="2"/><circle class="k22" cx="249.4" cy="103.2" r="2"/><circle class="k10" cx="277.4" cy="99.0" r="2"/><circle class="k13" cx="280.7" cy="97.4" r="2"/><circle class="k8" cx="296.3" cy="102.0" r="2"/><circle class="k22" cx="274.4" cy="108.7" r="2"/><circle class="k1" cx="303.9" cy="99.9" r="2"/><circle class="k8" cx="305.6" cy="105.2" r="2"/><circle class="k8" cx="294.5" cy="106.6" r="2"/><circle class="k14" cx="275.4" cy="98.6" r="2"/><circle class="k1" cx="333.8" cy="103.3" r="2"/><circle class="k1" cx="301.3" cy="105.8" r="2"/><circle class="k0" cx="337.4" cy="103.6" r="2"/><circle class="k15" cx="261.4" cy="102.4" r="2"/><circle class="k5" cx="297.0" cy="97.3" r="2"/><circle class="k1" cx="327.8" cy="103.6" r="2"/><circle class="k7" cx="297.3" cy="108.4" r="2"/><circle class="k4" cx="291.6" cy="112.2" r="2"/><circle class="k2" cx="315.8" cy="103.9" r="2"/><circle class="k1" cx="331.4" cy="103.2" r="2"/><circle class="k9" cx="300.8" cy="99.5" r="2"/><circle class="k12" cx="287.1" cy="92.1" r="2"/><circle class="k21" cx="262.6" cy="104.7" r="2"/><circle class="k9" cx="291.8" cy="93.6" r="2"/><circle class="k7" cx="293.0" cy="104.3" r="2"/><circle class="k0" cx="299.7" cy="107.4" r="2"/><circle class="k9" cx="299.5" cy="109.2" r="2"/><circle class="k3" cx="295.2" cy="103.9" r="2"/><circle class="k23" cx="227.3" cy="103.4" r="2"/><circle class="k23" cx="231.3" cy="103.4" r="2"/><circle class="k0" cx="365.1" cy="103.4" r="2"/><circle class="k22" cx="300.2" cy="102.6" r="2"/><circle class="k22" cx="311.6" cy="103.4" r="2"/><circle class="k22" cx="317.8" cy="103.4" r="2"/><circle class="k22" cx="341.5" cy="103.4" r="2"/></g>
<g><circle class="k23" cx="360.4" cy="135.1" r="2"/><circle class="k14" cx="315.7" cy="134.9" r="2"/><circle class="k20" cx="263.2" cy="134.3" r="2"/><circle class="k0" cx="287.6" cy="133.9" r="2"/><circle class="k0" cx="281.8" cy="127.9" r="2"/><circle class="k1" cx="273.6" cy="131.6" r="2"/><circle class="k1" cx="282.7" cy="130.8" r="2"/><circle class="k23" cx="391.6" cy="134.1" r="2"/><circle class="k1" cx="269.2" cy="135.5" r="2"/><circle class="k22" cx="403.6" cy="134.3" r="2"/><circle class="k23" cx="341.8" cy="135.2" r="2"/><circle class="k0" cx="307.3" cy="134.5" r="2"/><circle class="k1" cx="299.2" cy="130.7" r="2"/><circle class="k22" cx="410.8" cy="134.5" r="2"/><circle class="k0" cx="307.3" cy="133.6" r="2"/><circle class="k19" cx="257.2" cy="134.3" r="2"/><circle class="k0" cx="302.5" cy="136.5" r="2"/><circle class="k22" cx="365.2" cy="135.0" r="2"/><circle class="k1" cx="277.2" cy="128.1" r="2"/><circle class="k1" cx="297.1" cy="139.6" r="2"/><circle class="k7" cx="265.6" cy="134.2" r="2"/><circle class="k0" cx="297.1" cy="129.3" r="2"/><circle class="k1" cx="284.2" cy="123.0" r="2"/><circle class="k23" cx="352.0" cy="135.2" r="2"/><circle class="k22" cx="400.0" cy="134.2" r="2"/><circle class="k0" cx="280.6" cy="125.5" r="2"/><circle class="k1" cx="298.1" cy="134.8" r="2"/><circle class="k1" cx="275.2" cy="132.0" r="2"/><circle class="k14" cx="254.8" cy="134.5" r="2"/><circle class="k1" cx="296.1" cy="128.6" r="2"/><circle class="k14" cx="314.5" cy="134.1" r="2"/><circle class="k1" cx="290.1" cy="144.8" r="2"/><circle class="k18" cx="334.0" cy="135.2" r="2"/><circle class="k22" cx="349.6" cy="133.8" r="2"/><circle class="k22" cx="327.7" cy="135.1" r="2"/><circle class="k22" cx="396.4" cy="134.8" r="2"/><circle class="k1" cx="269.2" cy="134.5" r="2"/><circle class="k21" cx="340.5" cy="133.8" r="2"/><circle class="k23" cx="364.0" cy="133.9" r="2"/><circle class="k1" cx="312.1" cy="133.9" r="2"/><circle class="k23" cx="339.2" cy="133.8" r="2"/><circle class="k1" cx="268.0" cy="135.2" r="2"/><circle class="k0" cx="278.8" cy="142.9" r="2"/><circle class="k1" cx="306.1" cy="133.3" r="2"/><circle class="k1" cx="303.6" cy="133.8" r="2"/><circle class="k0" cx="295.1" cy="141.1" r="2"/><circle class="k1" cx="287.2" cy="127.7" r="2"/><circle class="k0" cx="291.8" cy="142.4" r="2"/><circle class="k1" cx="275.5" cy="134.3" r="2"/><circle class="k0" cx="286.7" cy="136.7" r="2"/><circle class="k1" cx="293.1" cy="126.4" r="2"/><circle class="k1" cx="289.9" cy="132.7" r="2"/><circle class="k22" cx="328.9" cy="135.1" r="2"/><circle class="k0" cx="299.2" cy="138.2" r="2"/><circle class="k1" cx="274.5" cy="130.8" r="2"/><circle class="k0" cx="306.1" cy="134.5" r="2"/><circle class="k23" cx="343.1" cy="133.8" r="2"/><circle class="k1" cx="287.3" cy="124.7" r="2"/><circle class="k1" cx="285.4" cy="146.3" r="2"/><circle class="k1" cx="270.4" cy="133.2" r="2"/><circle class="k1" cx="313.3" cy="134.0" r="2"/><circle class="k23" cx="350.8" cy="135.2" r="2"/><circle class="k1" cx="292.1" cy="125.6" r="2"/><circle class="k22" cx="372.4" cy="135.0" r="2"/><circle class="k2" cx="266.8" cy="134.0" r="2"/><circle class="k1" cx="291.1" cy="144.1" r="2"/><circle class="k23" cx="371.2" cy="135.0" r="2"/><circle class="k22" cx="354.4" cy="135.1" r="2"/><circle class="k15" cx="252.4" cy="134.5" r="2"/><circle class="k18" cx="330.1" cy="133.8" r="2"/><circle class="k22" cx="397.6" cy="134.7" r="2"/><circle class="k15" cx="258.4" cy="134.3" r="2"/><circle class="k1" cx="310.9" cy="133.9" r="2"/><circle class="k1" cx="287.8" cy="123.3" r="2"/><circle class="k15" cx="340.5" cy="135.2" r="2"/><circle class="k23" cx="382.0" cy="134.9" r="2"/><circle class="k22" cx="370.0" cy="135.0" r="2"/><circle class="k22" cx="337.9" cy="133.8" r="2"/><circle class="k0" cx="270.4" cy="135.8" r="2"/><circle class="k1" cx="280.0" cy="130.4" r="2"/><circle class="k0" cx="298.1" cy="130.1" r="2"/><circle class="k1" cx="304.9" cy="135.9" r="2"/><circle class="k22" cx="345.7" cy="135.2" r="2"/><circle class="k16" cx="324.1" cy="133.9" r="2"/><circle class="k23" cx="390.4" cy="134.1" r="2"/><circle class="k1" cx="288.2" cy="138.0" r="2"/><circle class="k1" cx="290.7" cy="128.2" r="2"/><circle class="k22" cx="395.2" cy="134.2" r="2"/><circle class="k23" cx="353.2" cy="133.8" r="2"/><circle class="k0" cx="296.4" cy="131.0" r="2"/><circle class="k1" cx="269.2" cy="133.4" r="2"/><circle class="k1" cx="276.3" cy="139.9" r="2"/><circle class="k5" cx="303.7" cy="132.8" r="2"/><circle class="k23" cx="366.4" cy="133.9" r="2"/><circle class="k0" cx="289.0" cy="145.3" r="2"/><circle class="k22" cx="321.7" cy="135.0" r="2"/><circle class="k22" cx="327.7" cy="133.8" r="2"/><circle class="k23" cx="401.2" cy="134.7" r="2"/><circle class="k1" cx="273.1" cy="134.6" r="2"/><circle class="k22" cx="318.1" cy="134.0" r="2"/><circle class="k1" cx="301.6" cy="134.1" r="2"/><circle class="k22" cx="373.6" cy="134.0" r="2"/><circle class="k1" cx="275.3" cy="137.9" r="2"/><circle class="k23" cx="347.0" cy="133.8" r="2"/><circle class="k1" cx="286.1" cy="144.7" r="2"/><circle class="k21" cx="335.3" cy="135.2" r="2"/><circle class="k1" cx="285.3" cy="123.8" r="2"/><circle class="k0" cx="310.9" cy="135.1" r="2"/><circle class="k20" cx="262.0" cy="134.6" r="2"/><circle class="k23" cx="382.0" cy="134.0" r="2"/><circle class="k1" cx="280.0" cy="143.1" r="2"/><circle class="k22" cx="376.0" cy="135.0" r="2"/><circle class="k1" cx="284.2" cy="146.0" r="2"/><circle class="k22" cx="397.6" cy="134.2" r="2"/><circle class="k23" cx="378.4" cy="134.0" r="2"/><circle class="k1" cx="299.2" cy="132.9" r="2"/><circle class="k23" cx="413.2" cy="134.5" r="2"/><circle class="k23" cx="377.2" cy="134.0" r="2"/><circle class="k22" cx="372.4" cy="133.9" r="2"/><circle class="k23" cx="394.0" cy="134.8" r="2"/><circle class="k1" cx="293.1" cy="142.6" r="2"/><circle class="k0" cx="296.9" cy="138.2" r="2"/><circle class="k7" cx="299.4" cy="136.4" r="2"/><circle class="k23" cx="404.8" cy="134.3" r="2"/><circle class="k1" cx="283.0" cy="143.2" r="2"/><circle class="k22" cx="385.6" cy="134.1" r="2"/><circle class="k22" cx="404.8" cy="134.6" r="2"/><circle class="k0" cx="285.0" cy="142.2" r="2"/><circle class="k0" cx="270.8" cy="134.1" r="2"/><circle class="k22" cx="412.0" cy="134.5" r="2"/><circle class="k1" cx="285.7" cy="134.9" r="2"/><circle class="k1" cx="300.3" cy="131.3" r="2"/><circle class="k22" cx="407.2" cy="134.6" r="2"/><circle class="k0" cx="275.4" cy="129.9" r="2"/><circle class="k22" cx="352.0" cy="133.8" r="2"/><circle class="k13" cx="256.0" cy="134.6" r="2"/><circle class="k1" cx="294.8" cy="139.4" r="2"/><circle class="k22" cx="390.4" cy="134.8" r="2"/><circle class="k1" cx="277.3" cy="139.9" r="2"/><circle class="k1" cx="312.1" cy="135.0" r="2"/><circle class="k5" cx="264.4" cy="134.3" r="2"/><circle class="k23" cx="360.4" cy="133.9" r="2"/><circle class="k21" cx="319.3" cy="135.0" r="2"/><circle class="k1" cx="276.3" cy="129.0" r="2"/><circle class="k23" cx="380.8" cy="134.9" r="2"/><circle class="k22" cx="350.8" cy="133.8" r="2"/><circle class="k0" cx="296.5" cy="133.3" r="2"/><circle class="k4" cx="264.4" cy="134.7" r="2"/><circle class="k1" cx="278.0" cy="141.9" r="2"/><circle class="k1" cx="288.5" cy="135.9" r="2"/><circle class="k22" cx="383.2" cy="134.9" r="2"/><circle class="k1" cx="279.7" cy="143.9" r="2"/><circle class="k21" cx="325.3" cy="135.1" r="2"/><circle class="k17" cx="248.8" cy="134.5" r="2"/><circle class="k17" cx="247.6" cy="134.5" r="2"/><circle class="k22" cx="388.0" cy="134.8" r="2"/><circle class="k22" cx="408.4" cy="134.6" r="2"/><circle class="k0" cx="282.5" cy="125.5" r="2"/><circle class="k22" cx="406.0" cy="134.3" r="2"/><circle class="k21" cx="332.7" cy="135.2" r="2"/><circle class="k23" cx="392.8" cy="134.1" r="2"/><circle class="k22" cx="337.9" cy="135.2" r="2"/><circle class="k23" cx="383.2" cy="134.1" r="2"/><circle class="k1" cx="287.0" cy="142.5" r="2"/><circle class="k23" cx="406.0" cy="134.6" r="2"/><circle class="k0" cx="289.3" cy="141.7" r="2"/><circle class="k21" cx="328.9" cy="133.8" r="2"/><circle class="k22" cx="376.0" cy="134.0" r="2"/><circle class="k23" cx="368.8" cy="133.9" r="2"/><circle class="k22" cx="365.2" cy="133.9" r="2"/><circle class="k23" cx="378.4" cy="134.9" r="2"/><circle class="k7" cx="314.5" cy="134.9" r="2"/><circle class="k9" cx="265.6" cy="134.7" r="2"/><circle class="k1" cx="293.1" cy="133.7" r="2"/><circle class="k0" cx="286.6" cy="146.0" r="2"/><circle class="k23" cx="344.4" cy="135.2" r="2"/><circle class="k22" cx="395.2" cy="134.8" r="2"/><circle class="k22" cx="366.4" cy="135.0" r="2"/><circle class="k1" cx="291.9" cy="140.0" r="2"/><circle class="k21" cx="326.5" cy="133.8" r="2"/><circle class="k0" cx="290.3" cy="125.6" r="2"/><circle class="k1" cx="281.3" cy="135.4" r="2"/><circle class="k22" cx="389.2" cy="134.1" r="2"/><circle class="k22" cx="374.8" cy="134.0" r="2"/><circle class="k0" cx="298.1" cy="138.9" r="2"/><circle class="k23" cx="244.0" cy="134.5" r="2"/><circle class="k22" cx="396.4" cy="134.2" r="2"/><circle class="k22" cx="403.6" cy="134.7" r="2"/><circle class="k1" cx="280.7" cy="124.3" r="2"/><circle class="k23" cx="379.6" cy="134.0" r="2"/><circle class="k22" cx="415.6" cy="134.5" r="2"/><circle class="k0" cx="292.3" cy="131.4" r="2"/><circle class="k17" cx="256.0" cy="134.3" r="2"/><circle class="k7" cx="280.5" cy="133.4" r="2"/><circle class="k1" cx="266.8" cy="135.0" r="2"/><circle class="k23" cx="392.8" cy="134.8" r="2"/><circle class="k1" cx="309.7" cy="135.1" r="2"/><circle class="k21" cx="320.5" cy="135.0" r="2"/><circle class="k22" cx="389.2" cy="134.8" r="2"/><circle class="k1" cx="281.8" cy="145.3" r="2"/><circle class="k22" cx="367.6" cy="133.9" r="2"/><circle class="k17" cx="319.3" cy="134.0" r="2"/><circle class="k1" cx="268.0" cy="133.7" r="2"/><circle class="k1" cx="271.6" cy="134.5" r="2"/><circle class="k22" cx="394.0" cy="134.2" r="2"/><circle class="k3" cx="263.2" cy="134.7" r="2"/><circle class="k1" cx="272.7" cy="132.5" r="2"/><circle class="k1" cx="307.3" cy="135.4" r="2"/><circle class="k0" cx="281.4" cy="140.8" r="2"/><circle class="k19" cx="316.9" cy="134.9" r="2"/><circle class="k22" cx="377.2" cy="134.9" r="2"/><circle class="k1" cx="289.2" cy="129.7" r="2"/><circle class="k21" cx="245.2" cy="134.5" r="2"/><circle class="k1" cx="303.7" cy="136.2" r="2"/><circle class="k21" cx="331.4" cy="133.8" r="2"/><circle class="k22" cx="379.6" cy="134.9" r="2"/><circle class="k0" cx="283.7" cy="128.1" r="2"/><circle class="k1" cx="294.4" cy="132.2" r="2"/><circle class="k0" cx="279.8" cy="127.6" r="2"/><circle class="k0" cx="308.5" cy="135.2" r="2"/><circle class="k23" cx="384.4" cy="134.1" r="2"/><circle class="k1" cx="288.3" cy="131.5" r="2"/><circle class="k0" cx="282.5" cy="132.7" r="2"/><circle class="k19" cx="258.4" cy="134.6" r="2"/><circle class="k22" cx="386.8" cy="134.9" r="2"/><circle class="k0" cx="271.6" cy="132.9" r="2"/><circle class="k22" cx="386.8" cy="134.1" r="2"/><circle class="k1" cx="278.9" cy="141.2" r="2"/><circle class="k22" cx="401.2" cy="134.2" r="2"/><circle class="k0" cx="286.0" cy="129.5" r="2"/><circle class="k23" cx="364.0" cy="135.1" r="2"/><circle class="k23" cx="368.8" cy="135.0" r="2"/><circle class="k21" cx="326.5" cy="135.1" r="2"/><circle class="k22" cx="345.7" cy="133.8" r="2"/><circle class="k1" cx="293.6" cy="135.8" r="2"/><circle class="k1" cx="309.7" cy="133.8" r="2"/><circle class="k1" cx="292.4" cy="129.3" r="2"/><circle class="k22" cx="385.6" cy="134.9" r="2"/><circle class="k1" cx="301.4" cy="137.1" r="2"/><circle class="k23" cx="361.6" cy="133.9" r="2"/><circle class="k10" cx="318.1" cy="134.9" r="2"/><circle class="k17" cx="260.8" cy="134.6" r="2"/><circle class="k21" cx="341.8" cy="133.8" r="2"/><circle class="k1" cx="291.1" cy="124.9" r="2"/><circle class="k1" cx="270.4" cy="134.5" r="2"/><circle class="k0" cx="283.2" cy="135.5" r="2"/><circle class="k22" cx="388.0" cy="134.1" r="2"/><circle class="k1" cx="296.1" cy="140.3" r="2"/><circle class="k22" cx="402.4" cy="134.7" r="2"/><circle class="k17" cx="335.3" cy="133.8" r="2"/><circle class="k1" cx="279.4" cy="139.4" r="2"/><circle class="k1" cx="284.2" cy="144.8" r="2"/><circle class="k1" cx="281.8" cy="123.6" r="2"/><circle class="k0" cx="306.1" cy="135.7" r="2"/><circle class="k0" cx="286.6" cy="140.6" r="2"/><circle class="k17" cx="320.5" cy="134.0" r="2"/><circle class="k23" cx="373.6" cy="135.0" r="2"/><circle class="k22" cx="359.2" cy="133.8" r="2"/><circle class="k4" cx="313.3" cy="134.9" r="2"/><circle class="k1" cx="271.6" cy="136.0" r="2"/><circle class="k1" cx="290.0" cy="139.5" r="2"/><circle class="k1" cx="286.6" cy="122.9" r="2"/><circle class="k21" cx="332.7" cy="133.8" r="2"/><circle class="k0" cx="301.3" cy="136.1" r="2"/><circle class="k1" cx="273.6" cy="137.3" r="2"/><circle class="k22" cx="336.6" cy="133.8" r="2"/><circle class="k22" cx="391.6" cy="134.8" r="2"/><circle class="k0" cx="283.0" cy="123.3" r="2"/><circle class="k14" cx="331.4" cy="135.2" r="2"/><circle class="k1" cx="279.7" cy="125.1" r="2"/><circle class="k5" cx="316.9" cy="134.0" r="2"/><circle class="k1" cx="302.5" cy="132.4" r="2"/><circle class="k23" cx="414.4" cy="134.5" r="2"/><circle class="k1" cx="301.4" cy="131.9" r="2"/><circle class="k1" cx="272.7" cy="136.5" r="2"/><circle class="k22" cx="384.4" cy="134.9" r="2"/><circle class="k0" cx="304.9" cy="134.5" r="2"/><circle class="k1" cx="292.4" cy="137.7" r="2"/><circle class="k1" cx="292.1" cy="143.3" r="2"/><circle class="k23" cx="361.6" cy="135.1" r="2"/><circle class="k22" cx="408.4" cy="134.3" r="2"/><circle class="k1" cx="277.2" cy="140.9" r="2"/><circle class="k1" cx="304.9" cy="133.0" r="2"/><circle class="k22" cx="380.8" cy="134.0" r="2"/><circle class="k1" cx="276.9" cy="129.6" r="2"/><circle class="k23" cx="362.8" cy="133.9" r="2"/><circle class="k0" cx="278.8" cy="126.0" r="2"/><circle class="k22" cx="362.8" cy="135.1" r="2"/><circle class="k22" cx="336.6" cy="135.2" r="2"/><circle class="k22" cx="398.8" cy="134.2" r="2"/><circle class="k22" cx="260.8" cy="134.3" r="2"/><circle class="k1" cx="277.3" cy="132.6" r="2"/><circle class="k1" cx="285.4" cy="122.6" r="2"/><circle class="k0" cx="279.4" cy="135.5" r="2"/><circle class="k1" cx="274.7" cy="136.1" r="2"/><circle class="k0" cx="295.1" cy="127.9" r="2"/><circle class="k1" cx="294.1" cy="127.1" r="2"/><circle class="k1" cx="289.0" cy="123.6" r="2"/><circle class="k21" cx="339.2" cy="135.2" r="2"/><circle class="k22" cx="353.2" cy="135.1" r="2"/><circle class="k17" cx="259.6" cy="134.3" r="2"/><circle class="k22" cx="356.8" cy="133.8" r="2"/><circle class="k22" cx="358.0" cy="135.1" r="2"/><circle class="k23" cx="356.8" cy="135.1" r="2"/><circle class="k22" cx="330.1" cy="135.2" r="2"/><circle class="k7" cx="257.2" cy="134.6" r="2"/><circle class="k23" cx="374.8" cy="135.0" r="2"/><circle class="k21" cx="347.0" cy="135.2" r="2"/><circle class="k23" cx="407.2" cy="134.3" r="2"/><circle class="k22" cx="334.0" cy="133.8" r="2"/><circle class="k22" cx="370.0" cy="133.9" r="2"/><circle class="k0" cx="287.8" cy="145.7" r="2"/><circle class="k0" cx="293.5" cy="141.0" r="2"/><circle class="k21" cx="250.0" cy="134.5" r="2"/><circle class="k0" cx="277.6" cy="137.5" r="2"/><circle class="k23" cx="348.3" cy="135.2" r="2"/><circle class="k22" cx="242.8" cy="134.5" r="2"/><circle class="k0" cx="278.0" cy="127.0" r="2"/><circle class="k1" cx="294.6" cy="129.6" r="2"/><circle class="k0" cx="285.8" cy="138.8" r="2"/><circle class="k22" cx="355.6" cy="135.1" r="2"/><circle class="k22" cx="325.3" cy="133.9" r="2"/><circle class="k22" cx="359.2" cy="135.1" r="2"/><circle class="k0" cx="288.8" cy="143.6" r="2"/><circle class="k23" cx="324.1" cy="135.1" r="2"/><circle class="k1" cx="280.7" cy="144.7" r="2"/><circle class="k23" cx="371.2" cy="133.9" r="2"/><circle class="k1" cx="290.3" cy="137.3" r="2"/><circle class="k0" cx="284.9" cy="137.2" r="2"/><circle class="k21" cx="246.4" cy="134.5" r="2"/><circle class="k1" cx="292.9" cy="127.3" r="2"/><circle class="k6" cx="283.4" cy="140.8" r="2"/><circle class="k1" cx="294.1" cy="141.8" r="2"/><circle class="k1" cx="300.3" cy="137.7" r="2"/><circle class="k22" cx="322.9" cy="133.9" r="2"/><circle class="k0" cx="305.6" cy="134.7" r="2"/><circle class="k0" cx="295.6" cy="136.6" r="2"/><circle class="k23" cx="400.0" cy="134.7" r="2"/><circle class="k22" cx="355.6" cy="133.8" r="2"/><circle class="k1" cx="274.5" cy="138.2" r="2"/><circle class="k14" cx="344.4" cy="133.8" r="2"/><circle class="k23" cx="409.6" cy="134.5" r="2"/><circle class="k22" cx="402.4" cy="134.3" r="2"/><circle class="k1" cx="290.1" cy="124.1" r="2"/><circle class="k22" cx="367.6" cy="135.0" r="2"/><circle class="k0" cx="291.3" cy="135.7" r="2"/><circle class="k22" cx="349.6" cy="135.2" r="2"/><circle class="k23" cx="358.0" cy="133.8" r="2"/><circle class="k1" cx="280.4" cy="137.1" r="2"/><circle class="k23" cx="251.2" cy="134.5" r="2"/><circle class="k1" cx="277.5" cy="134.6" r="2"/><circle class="k1" cx="308.5" cy="133.8" r="2"/><circle class="k16" cx="315.7" cy="134.1" r="2"/><circle class="k1" cx="275.4" cy="139.0" r="2"/><circle class="k18" cx="321.7" cy="133.9" r="2"/><circle class="k23" cx="354.4" cy="133.8" r="2"/><circle class="k1" cx="285.0" cy="132.0" r="2"/><circle class="k8" cx="259.6" cy="134.6" r="2"/><circle class="k22" cx="348.3" cy="133.8" r="2"/><circle class="k22" cx="322.9" cy="135.0" r="2"/><circle class="k23" cx="398.8" cy="134.7" r="2"/><circle class="k22" cx="343.1" cy="135.2" r="2"/><circle class="k17" cx="262.0" cy="134.3" r="2"/><circle class="k22" cx="253.6" cy="134.5" r="2"/><circle class="k1" cx="283.0" cy="145.6" r="2"/><circle class="k1" cx="283.0" cy="138.8" r="2"/><circle class="k1" cx="285.8" cy="126.1" r="2"/><circle class="k0" cx="233.2" cy="134.5" r="2"/><circle class="k23" cx="419.6" cy="134.5" r="2"/><circle class="k23" cx="422.2" cy="134.5" r="2"/><circle class="k23" cx="426.5" cy="134.5" r="2"/><circle class="k23" cx="433.8" cy="134.5" r="2"/><circle class="k12" cx="280.5" cy="125.9" r="2"/><circle class="k10" cx="291.0" cy="127.7" r="2"/><circle class="k13" cx="274.1" cy="135.0" r="2"/><circle class="k21" cx="288.3" cy="142.4" r="2"/><circle class="k8" cx="283.0" cy="137.5" r="2"/><circle class="k9" cx="295.0" cy="136.0" r="2"/><circle class="k10" cx="317.7" cy="134.5" r="2"/><circle class="k12" cx="324.5" cy="134.5" r="2"/><circle class="k12" cx="330.5" cy="135.0" r="2"/><circle class="k12" cx="346.4" cy="134.5" r="2"/><circle class="k9" cx="255.0" cy="134.5" r="2"/><circle class="k8" cx="260.0" cy="134.8" r="2"/></g>
<g><circle class="k1" cx="312.6" cy="164.9" r="2"/><circle class="k14" cx="283.0" cy="163.7" r="2"/><circle class="k23" cx="267.8" cy="166.5" r="2"/><circle class="k8" cx="292.8" cy="162.1" r="2"/><circle class="k16" cx="284.4" cy="172.2" r="2"/><circle class="k17" cx="273.6" cy="168.5" r="2"/><circle class="k10" cx="293.7" cy="156.7" r="2"/><circle class="k6" cx="290.6" cy="169.5" r="2"/><circle class="k1" cx="323.4" cy="166.1" r="2"/><circle class="k20" cx="275.6" cy="169.9" r="2"/><circle class="k2" cx="287.4" cy="168.2" r="2"/><circle class="k0" cx="311.4" cy="166.1" r="2"/><circle class="k1" cx="335.4" cy="166.0" r="2"/><circle class="k0" cx="322.2" cy="166.1" r="2"/><circle class="k1" cx="294.1" cy="164.8" r="2"/><circle class="k3" cx="296.2" cy="166.4" r="2"/><circle class="k23" cx="270.2" cy="163.9" r="2"/><circle class="k22" cx="268.6" cy="165.4" r="2"/><circle class="k1" cx="339.0" cy="165.8" r="2"/><circle class="k1" cx="310.2" cy="166.1" r="2"/><circle class="k1" cx="327.0" cy="165.0" r="2"/><circle class="k17" cx="294.8" cy="172.4" r="2"/><circle class="k12" cx="285.3" cy="157.3" r="2"/><circle class="k21" cx="282.2" cy="170.6" r="2"/><circle class="k19" cx="285.8" cy="154.3" r="2"/><circle class="k21" cx="280.1" cy="160.7" r="2"/><circle class="k0" cx="307.8" cy="166.5" r="2"/><circle class="k13" cx="288.2" cy="154.1" r="2"/><circle class="k19" cx="277.5" cy="159.5" r="2"/><circle class="k1" cx="322.2" cy="164.9" r="2"/><circle class="k1" cx="311.4" cy="164.9" r="2"/><circle class="k0" cx="343.8" cy="165.4" r="2"/><circle class="k1" cx="289.5" cy="163.9" r="2"/><circle class="k22" cx="272.7" cy="165.3" r="2"/><circle class="k16" cx="283.4" cy="176.0" r="2"/><circle class="k21" cx="270.5" cy="165.3" r="2"/><circle class="k1" cx="290.5" cy="156.0" r="2"/><circle class="k7" cx="283.6" cy="159.5" r="2"/><circle class="k15" cx="282.0" cy="161.1" r="2"/><circle class="k1" cx="328.2" cy="166.1" r="2"/><circle class="k14" cx="279.9" cy="169.0" r="2"/><circle class="k11" cx="289.4" cy="154.4" r="2"/><circle class="k13" cx="284.6" cy="154.6" r="2"/><circle class="k0" cx="334.2" cy="165.0" r="2"/><circle class="k1" cx="321.0" cy="166.1" r="2"/><circle class="k0" cx="331.8" cy="165.0" r="2"/><circle class="k0" cx="301.1" cy="165.7" r="2"/><circle class="k7" cx="298.0" cy="161.7" r="2"/><circle class="k19" cx="276.6" cy="160.4" r="2"/><circle class="k18" cx="288.9" cy="157.3" r="2"/><circle class="k1" cx="327.0" cy="166.1" r="2"/><circle class="k20" cx="286.8" cy="170.0" r="2"/><circle class="k1" cx="299.8" cy="162.6" r="2"/><circle class="k0" cx="317.4" cy="164.9" r="2"/><circle class="k1" cx="337.8" cy="165.1" r="2"/><circle class="k1" cx="303.2" cy="166.3" r="2"/><circle class="k1" cx="288.2" cy="176.9" r="2"/><circle class="k1" cx="340.2" cy="165.8" r="2"/><circle class="k0" cx="336.6" cy="165.1" r="2"/><circle class="k22" cx="270.2" cy="167.1" r="2"/><circle class="k22" cx="264.2" cy="165.1" r="2"/><circle class="k20" cx="277.5" cy="171.5" r="2"/><circle class="k0" cx="329.4" cy="166.0" r="2"/><circle class="k21" cx="271.4" cy="167.4" r="2"/><circle class="k14" cx="284.6" cy="176.4" r="2"/><circle class="k20" cx="274.6" cy="161.8" r="2"/><circle class="k20" cx="280.2" cy="174.0" r="2"/><circle class="k21" cx="270.2" cy="165.5" r="2"/><circle class="k1" cx="334.2" cy="166.0" r="2"/><circle class="k1" cx="331.8" cy="166.0" r="2"/><circle class="k1" cx="317.4" cy="166.1" r="2"/><circle class="k8" cx="293.7" cy="174.3" r="2"/><circle class="k17" cx="288.7" cy="165.8" r="2"/><circle class="k10" cx="291.5" cy="164.3" r="2"/><circle class="k1" cx="309.0" cy="166.2" r="2"/><circle class="k19" cx="297.7" cy="163.7" r="2"/><circle class="k9" cx="288.7" cy="170.2" r="2"/><circle class="k23" cx="266.6" cy="166.2" r="2"/><circle class="k13" cx="289.6" cy="167.5" r="2"/><circle class="k0" cx="302.1" cy="163.5" r="2"/><circle class="k17" cx="279.3" cy="173.1" r="2"/><circle class="k1" cx="301.6" cy="167.6" r="2"/><circle class="k23" cx="257.0" cy="165.5" r="2"/><circle class="k0" cx="343.8" cy="165.6" r="2"/><circle class="k1" cx="330.6" cy="166.0" r="2"/><circle class="k1" cx="295.8" cy="163.7" r="2"/><circle class="k15" cx="278.6" cy="163.0" r="2"/><circle class="k1" cx="319.8" cy="166.1" r="2"/><circle class="k1" cx="335.4" cy="165.0" r="2"/><circle class="k8" cx="284.9" cy="164.1" r="2"/><circle class="k1" cx="318.6" cy="164.9" r="2"/><circle class="k10" cx="288.3" cy="159.3" r="2"/><circle class="k21" cx="275.6" cy="161.1" r="2"/><circle class="k0" cx="310.2" cy="164.9" r="2"/><circle class="k4" cx="272.6" cy="163.2" r="2"/><circle class="k2" cx="300.9" cy="169.2" r="2"/><circle class="k11" cx="290.6" cy="154.7" r="2"/><circle class="k2" cx="305.4" cy="167.2" r="2"/><circle class="k7" cx="293.8" cy="167.1" r="2"/><circle class="k4" cx="285.0" cy="169.0" r="2"/><circle class="k0" cx="305.4" cy="163.8" r="2"/><circle class="k22" cx="273.8" cy="167.5" r="2"/><circle class="k3" cx="298.7" cy="170.4" r="2"/><circle class="k20" cx="274.7" cy="164.9" r="2"/><circle class="k5" cx="291.7" cy="175.7" r="2"/><circle class="k0" cx="324.6" cy="164.9" r="2"/><circle class="k10" cx="292.8" cy="169.6" r="2"/><circle class="k7" cx="292.8" cy="171.8" r="2"/><circle class="k3" cx="299.6" cy="168.1" r="2"/><circle class="k0" cx="277.1" cy="161.4" r="2"/><circle class="k2" cx="294.7" cy="173.6" r="2"/><circle class="k0" cx="296.7" cy="172.0" r="2"/><circle class="k17" cx="282.6" cy="157.8" r="2"/><circle class="k0" cx="329.4" cy="165.0" r="2"/><circle class="k22" cx="258.2" cy="165.4" r="2"/><circle class="k1" cx="287.0" cy="177.0" r="2"/><circle class="k1" cx="321.0" cy="164.9" r="2"/><circle class="k2" cx="306.6" cy="164.2" r="2"/><circle class="k7" cx="287.0" cy="155.3" r="2"/><circle class="k0" cx="313.8" cy="166.1" r="2"/><circle class="k17" cx="285.8" cy="159.2" r="2"/><circle class="k1" cx="292.4" cy="156.8" r="2"/><circle class="k22" cx="261.8" cy="165.2" r="2"/><circle class="k13" cx="285.2" cy="175.4" r="2"/><circle class="k21" cx="267.8" cy="165.5" r="2"/><circle class="k22" cx="279.9" cy="158.5" r="2"/><circle class="k19" cx="275.5" cy="166.6" r="2"/><circle class="k1" cx="342.6" cy="165.7" r="2"/><circle class="k22" cx="261.8" cy="165.8" r="2"/><circle class="k21" cx="283.4" cy="155.1" r="2"/><circle class="k0" cx="324.6" cy="166.1" r="2"/><circle class="k1" cx="307.8" cy="165.5" r="2"/><circle class="k9" cx="289.4" cy="175.0" r="2"/><circle class="k3" cx="299.8" cy="169.8" r="2"/><circle class="k21" cx="279.3" cy="157.9" r="2"/><circle class="k17" cx="290.7" cy="157.9" r="2"/><circle class="k18" cx="283.7" cy="156.0" r="2"/><circle class="k19" cx="282.1" cy="167.6" r="2"/><circle class="k0" cx="303.1" cy="168.0" r="2"/><circle class="k0" cx="297.7" cy="171.1" r="2"/><circle class="k0" cx="315.0" cy="164.9" r="2"/><circle class="k22" cx="265.4" cy="165.9" r="2"/><circle class="k21" cx="282.3" cy="175.3" r="2"/><circle class="k19" cx="289.4" cy="176.6" r="2"/><circle class="k22" cx="264.2" cy="165.9" r="2"/><circle class="k3" cx="298.1" cy="165.9" r="2"/><circle class="k0" cx="345.0" cy="165.5" r="2"/><circle class="k1" cx="315.0" cy="166.1" r="2"/><circle class="k0" cx="316.2" cy="164.9" r="2"/><circle class="k4" cx="294.4" cy="159.0" r="2"/><circle class="k1" cx="318.6" cy="166.1" r="2"/><circle class="k22" cx="271.4" cy="163.7" r="2"/><circle class="k13" cx="287.1" cy="175.3" r="2"/><circle class="k1" cx="297.3" cy="168.3" r="2"/><circle class="k8" cx="303.1" cy="163.0" r="2"/><circle class="k3" cx="297.1" cy="170.5" r="2"/><circle class="k0" cx="316.2" cy="166.1" r="2"/><circle class="k0" cx="328.2" cy="165.0" r="2"/><circle class="k1" cx="312.6" cy="166.1" r="2"/><circle class="k21" cx="276.7" cy="163.5" r="2"/><circle class="k21" cx="274.6" cy="169.2" r="2"/><circle class="k19" cx="278.4" cy="158.7" r="2"/><circle class="k7" cx="300.9" cy="161.8" r="2"/><circle class="k1" cx="307.8" cy="164.5" r="2"/><circle class="k4" cx="294.7" cy="157.4" r="2"/><circle class="k23" cx="259.4" cy="165.7" r="2"/><circle class="k1" cx="339.0" cy="165.2" r="2"/><circle class="k1" cx="291.7" cy="155.3" r="2"/><circle class="k1" cx="330.6" cy="165.0" r="2"/><circle class="k8" cx="302.0" cy="162.4" r="2"/><circle class="k5" cx="289.5" cy="172.6" r="2"/><circle class="k15" cx="282.1" cy="165.4" r="2"/><circle class="k23" cx="292.7" cy="175.0" r="2"/><circle class="k1" cx="323.4" cy="164.9" r="2"/><circle class="k23" cx="280.7" cy="162.7" r="2"/><circle class="k12" cx="283.3" cy="174.7" r="2"/><circle class="k6" cx="291.5" cy="159.7" r="2"/><circle class="k11" cx="289.7" cy="160.7" r="2"/><circle class="k5" cx="306.6" cy="166.9" r="2"/><circle class="k18" cx="287.6" cy="161.5" r="2"/><circle class="k12" cx="286.6" cy="171.9" r="2"/><circle class="k11" cx="285.3" cy="166.6" r="2"/><circle class="k0" cx="341.4" cy="165.3" r="2"/><circle class="k21" cx="287.1" cy="164.0" r="2"/><circle class="k2" cx="304.2" cy="167.5" r="2"/><circle class="k14" cx="287.0" cy="154.0" r="2"/><circle class="k16" cx="269.0" cy="165.5" r="2"/><circle class="k22" cx="258.2" cy="165.6" r="2"/><circle class="k23" cx="278.0" cy="165.1" r="2"/><circle class="k21" cx="267.8" cy="164.5" r="2"/><circle class="k21" cx="282.3" cy="155.7" r="2"/><circle class="k4" cx="290.8" cy="162.3" r="2"/><circle class="k4" cx="299.5" cy="164.5" r="2"/><circle class="k21" cx="284.9" cy="161.2" r="2"/><circle class="k22" cx="280.0" cy="165.8" r="2"/><circle class="k19" cx="282.2" cy="173.0" r="2"/><circle class="k22" cx="263.0" cy="165.8" r="2"/><circle class="k13" cx="285.8" cy="176.7" r="2"/><circle class="k20" cx="290.6" cy="176.3" r="2"/><circle class="k22" cx="259.4" cy="165.3" r="2"/><circle class="k1" cx="304.3" cy="164.6" r="2"/><circle class="k3" cx="291.6" cy="174.5" r="2"/><circle class="k21" cx="279.2" cy="171.6" r="2"/><circle class="k5" cx="295.7" cy="158.2" r="2"/><circle class="k1" cx="291.7" cy="166.6" r="2"/><circle class="k1" cx="337.8" cy="165.9" r="2"/><circle class="k1" cx="304.2" cy="163.5" r="2"/><circle class="k3" cx="298.7" cy="160.6" r="2"/><circle class="k21" cx="269.0" cy="166.8" r="2"/><circle class="k21" cx="269.0" cy="164.2" r="2"/><circle class="k3" cx="299.8" cy="161.2" r="2"/><circle class="k2" cx="306.9" cy="165.5" r="2"/><circle class="k1" cx="309.0" cy="164.8" r="2"/><circle class="k18" cx="278.4" cy="172.3" r="2"/><circle class="k22" cx="302.0" cy="168.6" r="2"/><circle class="k1" cx="319.8" cy="164.9" r="2"/><circle class="k0" cx="342.6" cy="165.3" r="2"/><circle class="k22" cx="281.2" cy="174.6" r="2"/><circle class="k23" cx="272.6" cy="167.8" r="2"/><circle class="k19" cx="276.6" cy="170.7" r="2"/><circle class="k23" cx="263.0" cy="165.2" r="2"/><circle class="k5" cx="294.8" cy="169.4" r="2"/><circle class="k9" cx="294.5" cy="161.1" r="2"/><circle class="k21" cx="265.4" cy="165.1" r="2"/><circle class="k20" cx="281.2" cy="156.4" r="2"/><circle class="k0" cx="333.0" cy="165.0" r="2"/><circle class="k0" cx="336.6" cy="165.9" r="2"/><circle class="k5" cx="306.6" cy="165.5" r="2"/><circle class="k1" cx="333.0" cy="166.0" r="2"/><circle class="k20" cx="278.5" cy="167.1" r="2"/><circle class="k3" cx="292.7" cy="156.0" r="2"/><circle class="k1" cx="325.8" cy="166.1" r="2"/><circle class="k23" cx="260.6" cy="165.3" r="2"/><circle class="k4" cx="296.5" cy="160.2" r="2"/><circle class="k23" cx="260.6" cy="165.7" r="2"/><circle class="k22" cx="274.5" cy="163.0" r="2"/><circle class="k2" cx="296.7" cy="159.1" r="2"/><circle class="k0" cx="295.7" cy="172.8" r="2"/><circle class="k1" cx="313.8" cy="164.9" r="2"/><circle class="k19" cx="278.3" cy="159.9" r="2"/><circle class="k17" cx="273.6" cy="162.5" r="2"/><circle class="k22" cx="280.2" cy="157.1" r="2"/><circle class="k23" cx="266.6" cy="164.8" r="2"/><circle class="k1" cx="341.4" cy="165.7" r="2"/><circle class="k8" cx="297.7" cy="159.9" r="2"/><circle class="k1" cx="340.2" cy="165.2" r="2"/><circle class="k23" cx="276.5" cy="169.3" r="2"/><circle class="k1" cx="325.8" cy="164.9" r="2"/><circle class="k0" cx="350.9" cy="165.5" r="2"/><circle class="k0" cx="355.2" cy="165.5" r="2"/><circle class="k0" cx="361.0" cy="165.5" r="2"/></g>
<g><circle class="k12" cx="308.0" cy="194.5" r="2"/><circle class="k7" cx="270.0" cy="198.4" r="2"/><circle class="k10" cx="273.5" cy="193.4" r="2"/><circle class="k18" cx="318.8" cy="196.9" r="2"/><circle class="k9" cx="272.0" cy="197.5" r="2"/><circle class="k21" cx="320.0" cy="196.2" r="2"/><circle class="k12" cx="282.3" cy="188.3" r="2"/><circle class="k17" cx="306.5" cy="197.1" r="2"/><circle class="k13" cx="304.5" cy="193.3" r="2"/><circle class="k10" cx="294.4" cy="189.5" r="2"/><circle class="k6" cx="267.6" cy="196.6" r="2"/><circle class="k11" cx="295.9" cy="204.8" r="2"/><circle class="k1" cx="264.0" cy="197.2" r="2"/><circle class="k0" cx="280.6" cy="197.6" r="2"/><circle class="k17" cx="290.4" cy="185.6" r="2"/><circle class="k0" cx="247.2" cy="196.6" r="2"/><circle class="k13" cx="288.0" cy="185.8" r="2"/><circle class="k2" cx="273.7" cy="194.7" r="2"/><circle class="k16" cx="310.4" cy="197.9" r="2"/><circle class="k1" cx="258.0" cy="196.9" r="2"/><circle class="k1" cx="261.6" cy="197.1" r="2"/><circle class="k15" cx="314.0" cy="197.3" r="2"/><circle class="k10" cx="292.0" cy="199.2" r="2"/><circle class="k0" cx="266.4" cy="195.6" r="2"/><circle class="k16" cx="302.7" cy="193.7" r="2"/><circle class="k21" cx="309.2" cy="194.8" r="2"/><circle class="k22" cx="324.8" cy="196.8" r="2"/><circle class="k6" cx="282.4" cy="196.9" r="2"/><circle class="k7" cx="306.8" cy="199.0" r="2"/><circle class="k12" cx="286.8" cy="207.1" r="2"/><circle class="k0" cx="250.8" cy="196.4" r="2"/><circle class="k1" cx="252.0" cy="196.7" r="2"/><circle class="k8" cx="281.2" cy="204.2" r="2"/><circle class="k5" cx="275.7" cy="192.3" r="2"/><circle class="k14" cx="297.9" cy="189.9" r="2"/><circle class="k5" cx="262.8" cy="197.1" r="2"/><circle class="k9" cx="276.8" cy="201.4" r="2"/><circle class="k7" cx="277.9" cy="202.1" r="2"/><circle class="k4" cx="286.3" cy="194.7" r="2"/><circle class="k11" cx="264.0" cy="195.9" r="2"/><circle class="k0" cx="259.2" cy="197.0" r="2"/><circle class="k21" cx="293.6" cy="191.6" r="2"/><circle class="k14" cx="297.9" cy="203.2" r="2"/><circle class="k23" cx="324.8" cy="196.3" r="2"/><circle class="k15" cx="299.5" cy="195.5" r="2"/><circle class="k23" cx="329.6" cy="196.8" r="2"/><circle class="k19" cx="314.0" cy="195.8" r="2"/><circle class="k12" cx="289.6" cy="187.0" r="2"/><circle class="k19" cx="281.4" cy="201.9" r="2"/><circle class="k0" cx="244.8" cy="196.6" r="2"/><circle class="k18" cx="285.6" cy="186.4" r="2"/><circle class="k22" cx="326.0" cy="196.3" r="2"/><circle class="k21" cx="291.6" cy="185.9" r="2"/><circle class="k15" cx="276.8" cy="191.7" r="2"/><circle class="k22" cx="326.0" cy="196.8" r="2"/><circle class="k5" cx="289.1" cy="198.0" r="2"/><circle class="k16" cx="296.1" cy="199.7" r="2"/><circle class="k23" cx="328.4" cy="196.8" r="2"/><circle class="k23" cx="332.0" cy="196.7" r="2"/><circle class="k0" cx="243.6" cy="196.6" r="2"/><circle class="k6" cx="277.0" cy="199.5" r="2"/><circle class="k4" cx="282.4" cy="203.7" r="2"/><circle class="k11" cx="293.3" cy="202.3" r="2"/><circle class="k14" cx="303.1" cy="199.4" r="2"/><circle class="k17" cx="315.2" cy="195.9" r="2"/><circle class="k11" cx="288.0" cy="207.3" r="2"/><circle class="k13" cx="292.7" cy="196.7" r="2"/><circle class="k9" cx="271.3" cy="195.6" r="2"/><circle class="k19" cx="302.3" cy="200.9" r="2"/><circle class="k14" cx="309.7" cy="196.6" r="2"/><circle class="k15" cx="279.0" cy="198.7" r="2"/><circle class="k1" cx="271.2" cy="194.4" r="2"/><circle class="k8" cx="265.2" cy="195.9" r="2"/><circle class="k12" cx="291.6" cy="207.2" r="2"/><circle class="k14" cx="301.2" cy="191.7" r="2"/><circle class="k13" cx="287.2" cy="197.3" r="2"/><circle class="k5" cx="284.6" cy="189.5" r="2"/><circle class="k11" cx="281.1" cy="199.5" r="2"/><circle class="k21" cx="315.2" cy="197.2" r="2"/><circle class="k11" cx="272.4" cy="199.1" r="2"/><circle class="k14" cx="286.8" cy="186.0" r="2"/><circle class="k22" cx="323.6" cy="196.2" r="2"/><circle class="k6" cx="274.3" cy="197.7" r="2"/><circle class="k21" cx="321.2" cy="196.2" r="2"/><circle class="k13" cx="294.9" cy="205.6" r="2"/><circle class="k12" cx="298.6" cy="193.1" r="2"/><circle class="k1" cx="256.8" cy="196.3" r="2"/><circle class="k14" cx="294.6" cy="194.2" r="2"/><circle class="k23" cx="322.4" cy="196.9" r="2"/><circle class="k10" cx="293.9" cy="204.4" r="2"/><circle class="k13" cx="299.0" cy="202.5" r="2"/><circle class="k15" cx="306.6" cy="195.1" r="2"/><circle class="k15" cx="310.4" cy="196.6" r="2"/><circle class="k16" cx="303.4" cy="192.7" r="2"/><circle class="k15" cx="321.2" cy="196.9" r="2"/><circle class="k23" cx="327.2" cy="196.3" r="2"/><circle class="k22" cx="328.4" cy="196.3" r="2"/><circle class="k21" cx="322.4" cy="196.2" r="2"/><circle class="k14" cx="274.6" cy="192.9" r="2"/><circle class="k4" cx="262.8" cy="196.0" r="2"/><circle class="k23" cx="329.6" cy="196.3" r="2"/><circle class="k16" cx="311.6" cy="195.5" r="2"/><circle class="k15" cx="293.9" cy="206.3" r="2"/><circle class="k19" cx="291.5" cy="189.6" r="2"/><circle class="k15" cx="312.8" cy="195.7" r="2"/><circle class="k6" cx="280.0" cy="194.8" r="2"/><circle class="k21" cx="268.8" cy="195.0" r="2"/><circle class="k0" cx="296.9" cy="189.1" r="2"/><circle class="k9" cx="281.2" cy="188.9" r="2"/><circle class="k21" cx="282.3" cy="204.8" r="2"/><circle class="k1" cx="255.6" cy="196.8" r="2"/><circle class="k13" cx="284.4" cy="193.0" r="2"/><circle class="k15" cx="297.4" cy="201.1" r="2"/><circle class="k8" cx="276.3" cy="193.5" r="2"/><circle class="k18" cx="290.4" cy="207.5" r="2"/><circle class="k8" cx="271.2" cy="198.7" r="2"/><circle class="k22" cx="330.8" cy="196.4" r="2"/><circle class="k12" cx="284.0" cy="204.7" r="2"/><circle class="k6" cx="277.7" cy="194.9" r="2"/><circle class="k18" cx="316.4" cy="197.1" r="2"/><circle class="k6" cx="278.8" cy="196.6" r="2"/><circle class="k19" cx="280.1" cy="189.6" r="2"/><circle class="k4" cx="294.2" cy="200.1" r="2"/><circle class="k13" cx="310.4" cy="195.2" r="2"/><circle class="k6" cx="254.4" cy="196.4" r="2"/><circle class="k12" cx="305.6" cy="193.8" r="2"/><circle class="k0" cx="258.0" cy="196.2" r="2"/><circle class="k0" cx="259.2" cy="196.1" r="2"/><circle class="k10" cx="295.5" cy="191.1" r="2"/><circle class="k10" cx="285.5" cy="200.3" r="2"/><circle class="k15" cx="284.5" cy="187.1" r="2"/><circle class="k1" cx="297.6" cy="191.2" r="2"/><circle class="k22" cx="323.6" cy="196.9" r="2"/><circle class="k6" cx="285.5" cy="187.6" r="2"/><circle class="k5" cx="293.6" cy="187.8" r="2"/><circle class="k2" cx="260.4" cy="197.0" r="2"/><circle class="k14" cx="302.3" cy="192.2" r="2"/><circle class="k15" cx="301.3" cy="199.1" r="2"/><circle class="k4" cx="289.6" cy="193.7" r="2"/><circle class="k21" cx="311.6" cy="196.6" r="2"/><circle class="k8" cx="278.0" cy="192.4" r="2"/><circle class="k12" cx="289.9" cy="195.8" r="2"/><circle class="k20" cx="304.6" cy="198.0" r="2"/><circle class="k13" cx="289.5" cy="189.1" r="2"/><circle class="k23" cx="308.0" cy="198.6" r="2"/><circle class="k11" cx="287.1" cy="188.6" r="2"/><circle class="k0" cx="242.4" cy="196.6" r="2"/><circle class="k16" cx="292.4" cy="205.8" r="2"/><circle class="k1" cx="254.4" cy="196.7" r="2"/><circle class="k6" cx="267.0" cy="196.5" r="2"/><circle class="k2" cx="260.4" cy="196.1" r="2"/><circle class="k1" cx="256.8" cy="196.8" r="2"/><circle class="k9" cx="284.0" cy="202.4" r="2"/><circle class="k10" cx="279.0" cy="190.3" r="2"/><circle class="k4" cx="276.7" cy="196.8" r="2"/><circle class="k14" cx="270.0" cy="194.7" r="2"/><circle class="k0" cx="246.0" cy="196.6" r="2"/><circle class="k2" cx="261.6" cy="196.0" r="2"/><circle class="k9" cx="267.6" cy="197.8" r="2"/><circle class="k23" cx="327.2" cy="196.8" r="2"/><circle class="k3" cx="290.1" cy="204.8" r="2"/><circle class="k11" cx="294.9" cy="187.5" r="2"/><circle class="k1" cx="253.2" cy="196.7" r="2"/><circle class="k11" cx="268.8" cy="198.1" r="2"/><circle class="k16" cx="284.5" cy="206.0" r="2"/><circle class="k21" cx="266.4" cy="196.6" r="2"/><circle class="k7" cx="275.7" cy="200.8" r="2"/><circle class="k1" cx="249.6" cy="196.7" r="2"/><circle class="k19" cx="279.0" cy="202.8" r="2"/><circle class="k0" cx="253.2" cy="196.4" r="2"/><circle class="k16" cx="283.4" cy="187.7" r="2"/><circle class="k22" cx="280.1" cy="203.5" r="2"/><circle class="k11" cx="267.6" cy="195.3" r="2"/><circle class="k0" cx="285.9" cy="202.8" r="2"/><circle class="k18" cx="283.3" cy="200.2" r="2"/><circle class="k21" cx="318.8" cy="196.2" r="2"/><circle class="k22" cx="312.8" cy="197.4" r="2"/><circle class="k22" cx="296.8" cy="195.6" r="2"/><circle class="k16" cx="304.5" cy="199.8" r="2"/><circle class="k7" cx="277.9" cy="191.0" r="2"/><circle class="k12" cx="295.7" cy="202.5" r="2"/><circle class="k13" cx="287.6" cy="200.7" r="2"/><circle class="k9" cx="269.5" cy="196.8" r="2"/><circle class="k13" cx="304.7" cy="195.8" r="2"/><circle class="k9" cx="272.4" cy="194.0" r="2"/><circle class="k1" cx="255.6" cy="196.3" r="2"/><circle class="k2" cx="280.0" cy="192.6" r="2"/><circle class="k11" cx="299.3" cy="199.8" r="2"/><circle class="k22" cx="333.2" cy="196.6" r="2"/><circle class="k10" cx="274.6" cy="200.2" r="2"/><circle class="k1" cx="252.0" cy="196.4" r="2"/><circle class="k11" cx="273.5" cy="199.7" r="2"/><circle class="k14" cx="289.9" cy="200.9" r="2"/><circle class="k11" cx="279.5" cy="201.5" r="2"/><circle class="k22" cx="285.5" cy="191.3" r="2"/><circle class="k12" cx="288.5" cy="206.2" r="2"/><circle class="k13" cx="289.2" cy="207.5" r="2"/><circle class="k22" cx="332.0" cy="196.4" r="2"/><circle class="k22" cx="330.8" cy="196.7" r="2"/><circle class="k1" cx="249.6" cy="196.4" r="2"/><circle class="k10" cx="291.6" cy="194.7" r="2"/><circle class="k13" cx="291.2" cy="203.1" r="2"/><circle class="k10" cx="266.4" cy="197.5" r="2"/><circle class="k19" cx="302.7" cy="195.7" r="2"/><circle class="k3" cx="301.2" cy="201.4" r="2"/><circle class="k14" cx="305.6" cy="199.3" r="2"/><circle class="k23" cx="300.1" cy="202.0" r="2"/><circle class="k13" cx="281.8" cy="190.6" r="2"/><circle class="k0" cx="300.1" cy="191.1" r="2"/><circle class="k19" cx="306.8" cy="194.1" r="2"/><circle class="k5" cx="296.9" cy="204.0" r="2"/><circle class="k4" cx="295.9" cy="188.3" r="2"/><circle class="k11" cx="295.2" cy="197.7" r="2"/><circle class="k9" cx="284.5" cy="196.2" r="2"/><circle class="k12" cx="282.3" cy="193.6" r="2"/><circle class="k12" cx="292.8" cy="206.8" r="2"/><circle class="k22" cx="317.6" cy="196.1" r="2"/><circle class="k4" cx="287.4" cy="193.1" r="2"/><circle class="k12" cx="297.7" cy="197.3" r="2"/><circle class="k22" cx="311.6" cy="196.6" r="2"/><circle class="k2" cx="265.2" cy="197.2" r="2"/><circle class="k2" cx="303.4" cy="200.4" r="2"/><circle class="k17" cx="288.1" cy="195.5" r="2"/><circle class="k1" cx="250.8" cy="196.7" r="2"/><circle class="k10" cx="299.0" cy="190.6" r="2"/><circle class="k19" cx="291.6" cy="187.7" r="2"/><circle class="k15" cx="309.2" cy="198.3" r="2"/><circle class="k9" cx="293.9" cy="186.8" r="2"/><circle class="k1" cx="248.4" cy="196.6" r="2"/><circle class="k4" cx="300.6" cy="193.9" r="2"/><circle class="k1" cx="290.6" cy="191.8" r="2"/><circle class="k15" cx="292.8" cy="186.3" r="2"/><circle class="k17" cx="287.5" cy="191.1" r="2"/><circle class="k3" cx="268.8" cy="196.6" r="2"/><circle class="k22" cx="285.6" cy="206.7" r="2"/><circle class="k13" cx="296.7" cy="192.9" r="2"/><circle class="k13" cx="301.0" cy="197.0" r="2"/><circle class="k12" cx="288.1" cy="203.7" r="2"/><circle class="k4" cx="285.4" cy="198.3" r="2"/><circle class="k16" cx="316.4" cy="196.0" r="2"/><circle class="k13" cx="311.6" cy="197.6" r="2"/><circle class="k8" cx="283.4" cy="205.4" r="2"/><circle class="k22" cx="320.0" cy="196.9" r="2"/><circle class="k16" cx="317.6" cy="197.0" r="2"/><circle class="k11" cx="286.3" cy="205.5" r="2"/><circle class="k14" cx="289.2" cy="185.6" r="2"/><circle class="k0" cx="241.2" cy="196.6" r="2"/><circle class="k23" cx="350.5" cy="196.6" r="2"/></g>
<g><circle class="k19" cx="290.2" cy="220.9" r="2"/><circle class="k22" cx="320.2" cy="226.7" r="2"/><circle class="k13" cx="286.5" cy="231.8" r="2"/><circle class="k23" cx="325.0" cy="228.4" r="2"/><circle class="k11" cx="291.2" cy="216.8" r="2"/><circle class="k18" cx="297.0" cy="233.7" r="2"/><circle class="k23" cx="316.6" cy="226.7" r="2"/><circle class="k1" cx="258.5" cy="228.0" r="2"/><circle class="k22" cx="320.2" cy="228.5" r="2"/><circle class="k22" cx="316.6" cy="228.5" r="2"/><circle class="k22" cx="307.0" cy="228.9" r="2"/><circle class="k22" cx="319.0" cy="226.7" r="2"/><circle class="k15" cx="294.3" cy="236.2" r="2"/><circle class="k10" cx="276.3" cy="229.7" r="2"/><circle class="k9" cx="277.9" cy="231.6" r="2"/><circle class="k8" cx="276.4" cy="225.6" r="2"/><circle class="k1" cx="252.5" cy="227.3" r="2"/><circle class="k22" cx="335.8" cy="226.8" r="2"/><circle class="k6" cx="270.5" cy="226.1" r="2"/><circle class="k9" cx="290.9" cy="235.2" r="2"/><circle class="k1" cx="253.7" cy="227.3" r="2"/><circle class="k23" cx="328.6" cy="226.8" r="2"/><circle class="k22" cx="329.8" cy="226.8" r="2"/><circle class="k23" cx="332.2" cy="228.4" r="2"/><circle class="k20" cx="298.2" cy="224.7" r="2"/><circle class="k12" cx="281.5" cy="225.1" r="2"/><circle class="k14" cx="290.0" cy="223.7" r="2"/><circle class="k21" cx="301.0" cy="230.4" r="2"/><circle class="k10" cx="281.2" cy="234.4" r="2"/><circle class="k16" cx="292.6" cy="234.1" r="2"/><circle class="k22" cx="311.8" cy="226.7" r="2"/><circle class="k13" cx="287.7" cy="238.8" r="2"/><circle class="k23" cx="334.6" cy="228.4" r="2"/><circle class="k2" cx="264.5" cy="227.0" r="2"/><circle class="k3" cx="276.2" cy="231.5" r="2"/><circle class="k0" cx="257.3" cy="228.0" r="2"/><circle class="k9" cx="285.4" cy="217.2" r="2"/><circle class="k15" cx="292.7" cy="219.6" r="2"/><circle class="k22" cx="321.4" cy="226.7" r="2"/><circle class="k18" cx="300.0" cy="231.2" r="2"/><circle class="k5" cx="263.3" cy="227.0" r="2"/><circle class="k22" cx="333.4" cy="226.8" r="2"/><circle class="k1" cx="254.9" cy="227.3" r="2"/><circle class="k22" cx="331.0" cy="228.4" r="2"/><circle class="k6" cx="290.5" cy="218.7" r="2"/><circle class="k19" cx="313.0" cy="228.5" r="2"/><circle class="k17" cx="299.0" cy="223.1" r="2"/><circle class="k7" cx="280.3" cy="226.7" r="2"/><circle class="k16" cx="302.8" cy="226.6" r="2"/><circle class="k15" cx="298.0" cy="222.3" r="2"/><circle class="k17" cx="299.0" cy="232.0" r="2"/><circle class="k22" cx="333.4" cy="228.4" r="2"/><circle class="k13" cx="292.2" cy="222.9" r="2"/><circle class="k0" cx="253.7" cy="227.9" r="2"/><circle class="k23" cx="335.8" cy="228.4" r="2"/><circle class="k11" cx="287.7" cy="216.4" r="2"/><circle class="k15" cx="292.3" cy="237.7" r="2"/><circle class="k1" cx="254.9" cy="227.9" r="2"/><circle class="k13" cx="297.0" cy="221.5" r="2"/><circle class="k22" cx="305.8" cy="229.0" r="2"/><circle class="k8" cx="275.2" cy="230.8" r="2"/><circle class="k9" cx="288.3" cy="218.8" r="2"/><circle class="k22" cx="339.4" cy="226.9" r="2"/><circle class="k19" cx="287.7" cy="227.7" r="2"/><circle class="k14" cx="293.9" cy="227.7" r="2"/><circle class="k23" cx="331.0" cy="226.8" r="2"/><circle class="k22" cx="308.2" cy="226.4" r="2"/><circle class="k15" cx="295.2" cy="219.8" r="2"/><circle class="k9" cx="288.9" cy="216.2" r="2"/><circle class="k9" cx="288.9" cy="238.9" r="2"/><circle class="k11" cx="286.9" cy="237.1" r="2"/><circle class="k22" cx="310.6" cy="228.6" r="2"/><circle class="k11" cx="278.1" cy="226.6" r="2"/><circle class="k23" cx="306.1" cy="227.4" r="2"/><circle class="k23" cx="304.6" cy="225.9" r="2"/><circle class="k22" cx="340.6" cy="226.9" r="2"/><circle class="k17" cx="297.0" cy="231.1" r="2"/><circle class="k3" cx="265.7" cy="228.2" r="2"/><circle class="k10" cx="285.1" cy="233.3" r="2"/><circle class="k7" cx="272.9" cy="225.3" r="2"/><circle class="k1" cx="260.9" cy="227.1" r="2"/><circle class="k11" cx="282.6" cy="220.6" r="2"/><circle class="k8" cx="269.3" cy="227.6" r="2"/><circle class="k23" cx="304.2" cy="228.3" r="2"/><circle class="k5" cx="293.4" cy="237.0" r="2"/><circle class="k22" cx="309.4" cy="228.7" r="2"/><circle class="k13" cx="295.2" cy="235.4" r="2"/><circle class="k9" cx="281.0" cy="230.7" r="2"/><circle class="k22" cx="300.0" cy="224.0" r="2"/><circle class="k23" cx="319.0" cy="228.5" r="2"/><circle class="k21" cx="314.2" cy="228.5" r="2"/><circle class="k21" cx="307.0" cy="227.6" r="2"/><circle class="k1" cx="256.1" cy="227.9" r="2"/><circle class="k7" cx="273.3" cy="227.7" r="2"/><circle class="k13" cx="292.3" cy="217.4" r="2"/><circle class="k22" cx="332.2" cy="226.8" r="2"/><circle class="k21" cx="303.4" cy="229.6" r="2"/><circle class="k9" cx="280.0" cy="223.6" r="2"/><circle class="k16" cx="290.2" cy="230.7" r="2"/><circle class="k22" cx="315.4" cy="226.7" r="2"/><circle class="k22" cx="326.2" cy="226.8" r="2"/><circle class="k22" cx="327.4" cy="226.8" r="2"/><circle class="k21" cx="302.2" cy="230.0" r="2"/><circle class="k22" cx="327.4" cy="228.4" r="2"/><circle class="k22" cx="310.6" cy="227.6" r="2"/><circle class="k3" cx="264.5" cy="228.2" r="2"/><circle class="k16" cx="296.6" cy="223.4" r="2"/><circle class="k16" cx="282.2" cy="236.3" r="2"/><circle class="k23" cx="326.2" cy="228.4" r="2"/><circle class="k12" cx="294.5" cy="234.9" r="2"/><circle class="k10" cx="285.9" cy="218.3" r="2"/><circle class="k22" cx="334.6" cy="226.8" r="2"/><circle class="k10" cx="284.8" cy="225.2" r="2"/><circle class="k23" cx="343.0" cy="228.0" r="2"/><circle class="k14" cx="300.6" cy="226.3" r="2"/><circle class="k5" cx="270.5" cy="229.1" r="2"/><circle class="k19" cx="281.2" cy="219.8" r="2"/><circle class="k0" cx="241.7" cy="227.6" r="2"/><circle class="k0" cx="263.3" cy="228.2" r="2"/><circle class="k5" cx="286.5" cy="238.6" r="2"/><circle class="k6" cx="289.7" cy="225.6" r="2"/><circle class="k11" cx="284.3" cy="237.5" r="2"/><circle class="k1" cx="262.1" cy="227.1" r="2"/><circle class="k0" cx="257.3" cy="227.2" r="2"/><circle class="k13" cx="285.4" cy="238.0" r="2"/><circle class="k22" cx="311.8" cy="228.5" r="2"/><circle class="k12" cx="281.6" cy="222.3" r="2"/><circle class="k5" cx="266.9" cy="226.9" r="2"/><circle class="k10" cx="283.9" cy="223.5" r="2"/><circle class="k17" cx="298.0" cy="232.9" r="2"/><circle class="k15" cx="291.2" cy="238.4" r="2"/><circle class="k2" cx="284.0" cy="218.9" r="2"/><circle class="k21" cx="302.2" cy="225.2" r="2"/><circle class="k22" cx="311.8" cy="227.6" r="2"/><circle class="k5" cx="280.2" cy="234.6" r="2"/><circle class="k11" cx="284.8" cy="220.8" r="2"/><circle class="k22" cx="303.4" cy="225.6" r="2"/><circle class="k0" cx="240.5" cy="227.6" r="2"/><circle class="k0" cx="250.1" cy="227.8" r="2"/><circle class="k22" cx="317.8" cy="226.7" r="2"/><circle class="k17" cx="278.2" cy="222.2" r="2"/><circle class="k10" cx="274.1" cy="230.3" r="2"/><circle class="k3" cx="275.2" cy="227.2" r="2"/><circle class="k23" cx="307.0" cy="226.3" r="2"/><circle class="k2" cx="284.0" cy="236.2" r="2"/><circle class="k22" cx="314.2" cy="226.7" r="2"/><circle class="k0" cx="244.1" cy="227.4" r="2"/><circle class="k22" cx="338.2" cy="228.3" r="2"/><circle class="k17" cx="298.3" cy="229.5" r="2"/><circle class="k1" cx="256.1" cy="227.3" r="2"/><circle class="k22" cx="323.8" cy="226.7" r="2"/><circle class="k7" cx="268.1" cy="228.3" r="2"/><circle class="k23" cx="308.2" cy="228.8" r="2"/><circle class="k1" cx="260.9" cy="228.1" r="2"/><circle class="k6" cx="270.5" cy="227.6" r="2"/><circle class="k23" cx="322.6" cy="228.4" r="2"/><circle class="k1" cx="235.7" cy="227.6" r="2"/><circle class="k10" cx="269.3" cy="226.5" r="2"/><circle class="k1" cx="259.7" cy="227.1" r="2"/><circle class="k5" cx="279.2" cy="233.7" r="2"/><circle class="k14" cx="291.8" cy="228.4" r="2"/><circle class="k1" cx="244.1" cy="227.7" r="2"/><circle class="k17" cx="290.1" cy="239.1" r="2"/><circle class="k0" cx="284.3" cy="217.7" r="2"/><circle class="k11" cx="278.8" cy="229.2" r="2"/><circle class="k0" cx="251.3" cy="227.8" r="2"/><circle class="k10" cx="277.2" cy="222.9" r="2"/><circle class="k1" cx="242.9" cy="227.7" r="2"/><circle class="k10" cx="289.4" cy="237.2" r="2"/><circle class="k17" cx="305.8" cy="227.6" r="2"/><circle class="k7" cx="270.8" cy="227.9" r="2"/><circle class="k11" cx="285.4" cy="229.4" r="2"/><circle class="k23" cx="328.6" cy="228.4" r="2"/><circle class="k14" cx="294.2" cy="232.4" r="2"/><circle class="k22" cx="325.0" cy="226.7" r="2"/><circle class="k0" cx="236.9" cy="227.6" r="2"/><circle class="k13" cx="282.2" cy="218.9" r="2"/><circle class="k10" cx="288.7" cy="232.6" r="2"/><circle class="k0" cx="248.9" cy="227.8" r="2"/><circle class="k22" cx="341.8" cy="228.2" r="2"/><circle class="k23" cx="322.6" cy="226.7" r="2"/><circle class="k12" cx="294.8" cy="222.6" r="2"/><circle class="k21" cx="294.3" cy="219.0" r="2"/><circle class="k1" cx="265.7" cy="227.0" r="2"/><circle class="k22" cx="304.6" cy="229.3" r="2"/><circle class="k4" cx="277.7" cy="224.1" r="2"/><circle class="k22" cx="338.2" cy="226.9" r="2"/><circle class="k1" cx="245.3" cy="227.4" r="2"/><circle class="k21" cx="283.5" cy="231.1" r="2"/><circle class="k7" cx="278.2" cy="233.0" r="2"/><circle class="k4" cx="274.1" cy="224.9" r="2"/><circle class="k13" cx="292.2" cy="230.4" r="2"/><circle class="k2" cx="271.7" cy="229.5" r="2"/><circle class="k1" cx="262.1" cy="228.1" r="2"/><circle class="k11" cx="281.2" cy="235.4" r="2"/><circle class="k16" cx="296.3" cy="233.0" r="2"/><circle class="k22" cx="315.4" cy="228.5" r="2"/><circle class="k21" cx="301.0" cy="224.8" r="2"/><circle class="k0" cx="288.7" cy="235.0" r="2"/><circle class="k1" cx="250.1" cy="227.4" r="2"/><circle class="k1" cx="239.3" cy="227.6" r="2"/><circle class="k10" cx="286.3" cy="235.0" r="2"/><circle class="k1" cx="242.9" cy="227.5" r="2"/><circle class="k22" cx="313.0" cy="226.7" r="2"/><circle class="k22" cx="287.5" cy="224.1" r="2"/><circle class="k10" cx="281.5" cy="228.3" r="2"/><circle class="k22" cx="309.4" cy="227.6" r="2"/><circle class="k4" cx="283.6" cy="229.1" r="2"/><circle class="k22" cx="308.2" cy="227.6" r="2"/><circle class="k23" cx="340.6" cy="228.2" r="2"/><circle class="k0" cx="266.9" cy="228.3" r="2"/><circle class="k23" cx="321.4" cy="228.4" r="2"/><circle class="k15" cx="296.5" cy="228.8" r="2"/><circle class="k1" cx="302.2" cy="228.7" r="2"/><circle class="k23" cx="339.4" cy="228.3" r="2"/><circle class="k23" cx="317.8" cy="228.5" r="2"/><circle class="k18" cx="283.2" cy="218.2" r="2"/><circle class="k22" cx="329.8" cy="228.4" r="2"/><circle class="k23" cx="310.3" cy="227.6" r="2"/><circle class="k18" cx="299.2" cy="227.7" r="2"/><circle class="k22" cx="337.0" cy="228.3" r="2"/><circle class="k10" cx="291.9" cy="225.9" r="2"/><circle class="k1" cx="258.5" cy="227.2" r="2"/><circle class="k3" cx="288.0" cy="230.5" r="2"/><circle class="k12" cx="290.6" cy="232.7" r="2"/><circle class="k22" cx="300.2" cy="229.5" r="2"/><circle class="k20" cx="277.2" cy="232.2" r="2"/><circle class="k23" cx="341.8" cy="227.0" r="2"/><circle class="k10" cx="288.0" cy="220.9" r="2"/><circle class="k11" cx="292.7" cy="236.5" r="2"/><circle class="k9" cx="280.2" cy="220.6" r="2"/><circle class="k22" cx="309.4" cy="226.5" r="2"/><circle class="k1" cx="247.7" cy="227.4" r="2"/><circle class="k0" cx="238.1" cy="227.6" r="2"/><circle class="k22" cx="308.0" cy="227.4" r="2"/><circle class="k12" cx="290.1" cy="216.1" r="2"/><circle class="k0" cx="246.5" cy="227.4" r="2"/><circle class="k11" cx="285.9" cy="223.1" r="2"/><circle class="k1" cx="251.3" cy="227.3" r="2"/><circle class="k0" cx="248.9" cy="227.4" r="2"/><circle class="k16" cx="295.1" cy="224.7" r="2"/><circle class="k22" cx="305.8" cy="226.2" r="2"/><circle class="k23" cx="323.8" cy="228.4" r="2"/><circle class="k4" cx="294.5" cy="230.3" r="2"/><circle class="k20" cx="279.2" cy="221.5" r="2"/><circle class="k12" cx="285.8" cy="227.0" r="2"/><circle class="k23" cx="343.0" cy="227.2" r="2"/><circle class="k22" cx="337.0" cy="226.8" r="2"/><circle class="k6" cx="294.6" cy="220.5" r="2"/><circle class="k8" cx="268.1" cy="226.8" r="2"/><circle class="k4" cx="290.0" cy="227.7" r="2"/><circle class="k22" cx="310.6" cy="226.6" r="2"/><circle class="k1" cx="271.7" cy="225.7" r="2"/><circle class="k0" cx="269.3" cy="228.7" r="2"/><circle class="k1" cx="259.7" cy="228.0" r="2"/><circle class="k11" cx="282.2" cy="232.5" r="2"/><circle class="k12" cx="296.1" cy="220.6" r="2"/><circle class="k14" cx="296.1" cy="234.5" r="2"/><circle class="k1" cx="246.5" cy="227.8" r="2"/><circle class="k14" cx="280.0" cy="232.8" r="2"/><circle class="k12" cx="283.2" cy="236.9" r="2"/><circle class="k2" cx="286.5" cy="216.6" r="2"/><circle class="k15" cx="283.3" cy="234.1" r="2"/><circle class="k1" cx="247.7" cy="227.8" r="2"/><circle class="k0" cx="245.3" cy="227.8" r="2"/><circle class="k12" cx="283.8" cy="227.2" r="2"/><circle class="k12" cx="295.8" cy="226.9" r="2"/><circle class="k7" cx="276.2" cy="223.7" r="2"/><circle class="k14" cx="293.4" cy="218.1" r="2"/><circle class="k7" cx="272.9" cy="229.9" r="2"/><circle class="k1" cx="252.5" cy="227.9" r="2"/><circle class="k9" cx="275.2" cy="224.4" r="2"/><circle class="k23" cx="352.6" cy="227.6" r="2"/></g>
<g><circle class="k21" cx="290.4" cy="257.5" r="2"/><circle class="k21" cx="297.1" cy="264.2" r="2"/><circle class="k23" cx="312.8" cy="258.6" r="2"/><circle class="k22" cx="323.6" cy="258.6" r="2"/><circle class="k22" cx="340.4" cy="259.4" r="2"/><circle class="k22" cx="324.8" cy="258.6" r="2"/><circle class="k23" cx="291.1" cy="261.0" r="2"/><circle class="k22" cx="342.8" cy="259.3" r="2"/><circle class="k16" cx="297.0" cy="262.1" r="2"/><circle class="k0" cx="276.9" cy="257.2" r="2"/><circle class="k9" cx="285.0" cy="265.6" r="2"/><circle class="k7" cx="281.3" cy="255.0" r="2"/><circle class="k16" cx="297.1" cy="253.1" r="2"/><circle class="k1" cx="275.7" cy="258.6" r="2"/><circle class="k23" cx="332.0" cy="257.7" r="2"/><circle class="k9" cx="286.8" cy="267.3" r="2"/><circle class="k9" cx="280.3" cy="260.2" r="2"/><circle class="k22" cx="335.6" cy="257.7" r="2"/><circle class="k23" cx="338.0" cy="259.5" r="2"/><circle class="k9" cx="279.4" cy="257.8" r="2"/><circle class="k22" cx="321.2" cy="259.6" r="2"/><circle class="k13" cx="286.3" cy="259.7" r="2"/><circle class="k11" cx="284.1" cy="264.7" r="2"/><circle class="k22" cx="322.4" cy="257.7" r="2"/><circle class="k3" cx="295.5" cy="251.3" r="2"/><circle class="k15" cx="298.0" cy="263.2" r="2"/><circle class="k23" cx="336.8" cy="259.5" r="2"/><circle class="k23" cx="311.6" cy="258.6" r="2"/><circle class="k21" cx="268.5" cy="259.2" r="2"/><circle class="k12" cx="289.8" cy="247.8" r="2"/><circle class="k5" cx="282.4" cy="257.5" r="2"/><circle class="k2" cx="275.7" cy="259.9" r="2"/><circle class="k22" cx="304.0" cy="258.8" r="2"/><circle class="k22" cx="256.5" cy="258.4" r="2"/><circle class="k6" cx="281.3" cy="262.2" r="2"/><circle class="k18" cx="292.9" cy="268.7" r="2"/><circle class="k11" cx="288.7" cy="268.8" r="2"/><circle class="k23" cx="314.0" cy="257.7" r="2"/><circle class="k17" cx="309.2" cy="258.6" r="2"/><circle class="k16" cx="299.8" cy="261.4" r="2"/><circle class="k10" cx="287.5" cy="262.2" r="2"/><circle class="k3" cx="291.0" cy="249.3" r="2"/><circle class="k21" cx="299.8" cy="255.8" r="2"/><circle class="k11" cx="290.9" cy="270.0" r="2"/><circle class="k8" cx="278.0" cy="256.8" r="2"/><circle class="k22" cx="332.0" cy="259.5" r="2"/><circle class="k16" cx="298.0" cy="254.0" r="2"/><circle class="k6" cx="279.1" cy="261.1" r="2"/><circle class="k23" cx="308.0" cy="258.6" r="2"/><circle class="k2" cx="288.4" cy="267.3" r="2"/><circle class="k23" cx="315.2" cy="258.6" r="2"/><circle class="k23" cx="309.2" cy="259.6" r="2"/><circle class="k22" cx="305.6" cy="257.6" r="2"/><circle class="k23" cx="261.3" cy="259.1" r="2"/><circle class="k13" cx="288.9" cy="258.7" r="2"/><circle class="k12" cx="287.7" cy="268.2" r="2"/><circle class="k12" cx="293.9" cy="249.4" r="2"/><circle class="k12" cx="284.3" cy="256.7" r="2"/><circle class="k7" cx="282.3" cy="254.2" r="2"/><circle class="k7" cx="275.7" cy="257.4" r="2"/><circle class="k23" cx="318.8" cy="257.7" r="2"/><circle class="k7" cx="289.6" cy="262.3" r="2"/><circle class="k21" cx="290.3" cy="252.0" r="2"/><circle class="k22" cx="333.2" cy="257.7" r="2"/><circle class="k23" cx="336.8" cy="257.7" r="2"/><circle class="k23" cx="334.4" cy="257.7" r="2"/><circle class="k0" cx="283.8" cy="254.2" r="2"/><circle class="k22" cx="312.8" cy="259.6" r="2"/><circle class="k16" cx="289.8" cy="264.4" r="2"/><circle class="k12" cx="286.9" cy="251.3" r="2"/><circle class="k20" cx="270.9" cy="259.4" r="2"/><circle class="k9" cx="272.1" cy="258.6" r="2"/><circle class="k22" cx="304.4" cy="257.3" r="2"/><circle class="k2" cx="276.9" cy="258.6" r="2"/><circle class="k21" cx="257.7" cy="258.3" r="2"/><circle class="k22" cx="329.6" cy="258.6" r="2"/><circle class="k22" cx="311.6" cy="259.6" r="2"/><circle class="k22" cx="341.6" cy="259.3" r="2"/><circle class="k7" cx="274.5" cy="259.8" r="2"/><circle class="k6" cx="280.2" cy="255.6" r="2"/><circle class="k23" cx="315.2" cy="257.7" r="2"/><circle class="k23" cx="318.8" cy="258.6" r="2"/><circle class="k0" cx="274.5" cy="257.5" r="2"/><circle class="k22" cx="334.4" cy="259.5" r="2"/><circle class="k23" cx="304.4" cy="259.9" r="2"/><circle class="k18" cx="298.9" cy="262.3" r="2"/><circle class="k22" cx="338.0" cy="257.7" r="2"/><circle class="k22" cx="335.6" cy="258.6" r="2"/><circle class="k15" cx="296.2" cy="259.7" r="2"/><circle class="k22" cx="318.8" cy="259.6" r="2"/><circle class="k22" cx="329.6" cy="259.6" r="2"/><circle class="k22" cx="256.5" cy="258.8" r="2"/><circle class="k11" cx="294.3" cy="257.6" r="2"/><circle class="k7" cx="283.2" cy="253.4" r="2"/><circle class="k14" cx="296.1" cy="256.8" r="2"/><circle class="k22" cx="316.4" cy="259.6" r="2"/><circle class="k15" cx="294.7" cy="250.3" r="2"/><circle class="k21" cx="303.2" cy="258.6" r="2"/><circle class="k8" cx="285.4" cy="261.6" r="2"/><circle class="k0" cx="264.9" cy="259.1" r="2"/><circle class="k22" cx="260.1" cy="258.2" r="2"/><circle class="k16" cx="294.7" cy="267.0" r="2"/><circle class="k22" cx="330.8" cy="259.6" r="2"/><circle class="k14" cx="294.3" cy="266.1" r="2"/><circle class="k23" cx="330.8" cy="257.7" r="2"/><circle class="k23" cx="291.9" cy="258.9" r="2"/><circle class="k22" cx="310.4" cy="258.6" r="2"/><circle class="k23" cx="323.6" cy="259.6" r="2"/><circle class="k19" cx="298.9" cy="254.9" r="2"/><circle class="k22" cx="317.6" cy="259.6" r="2"/><circle class="k20" cx="302.0" cy="256.8" r="2"/><circle class="k22" cx="333.2" cy="258.6" r="2"/><circle class="k13" cx="291.9" cy="247.8" r="2"/><circle class="k23" cx="317.6" cy="257.7" r="2"/><circle class="k21" cx="263.7" cy="258.2" r="2"/><circle class="k18" cx="269.7" cy="257.9" r="2"/><circle class="k22" cx="314.0" cy="259.6" r="2"/><circle class="k15" cx="292.9" cy="251.0" r="2"/><circle class="k23" cx="262.5" cy="258.2" r="2"/><circle class="k23" cx="344.0" cy="259.2" r="2"/><circle class="k7" cx="267.3" cy="258.1" r="2"/><circle class="k7" cx="273.3" cy="259.7" r="2"/><circle class="k8" cx="273.3" cy="257.6" r="2"/><circle class="k14" cx="292.9" cy="248.5" r="2"/><circle class="k22" cx="327.2" cy="257.7" r="2"/><circle class="k22" cx="257.7" cy="259.0" r="2"/><circle class="k22" cx="295.5" cy="266.0" r="2"/><circle class="k14" cx="290.3" cy="254.1" r="2"/><circle class="k23" cx="327.2" cy="258.6" r="2"/><circle class="k20" cx="296.3" cy="265.1" r="2"/><circle class="k22" cx="324.8" cy="257.7" r="2"/><circle class="k10" cx="286.6" cy="257.5" r="2"/><circle class="k22" cx="300.8" cy="256.5" r="2"/><circle class="k23" cx="322.4" cy="259.6" r="2"/><circle class="k23" cx="300.8" cy="260.7" r="2"/><circle class="k23" cx="330.8" cy="258.6" r="2"/><circle class="k10" cx="285.9" cy="250.8" r="2"/><circle class="k23" cx="306.8" cy="257.6" r="2"/><circle class="k23" cx="323.6" cy="257.7" r="2"/><circle class="k14" cx="290.9" cy="247.3" r="2"/><circle class="k22" cx="306.8" cy="259.6" r="2"/><circle class="k23" cx="329.6" cy="257.7" r="2"/><circle class="k17" cx="298.3" cy="259.9" r="2"/><circle class="k17" cx="326.0" cy="259.6" r="2"/><circle class="k3" cx="278.0" cy="260.5" r="2"/><circle class="k4" cx="289.8" cy="269.4" r="2"/><circle class="k23" cx="321.2" cy="257.7" r="2"/><circle class="k8" cx="286.8" cy="250.0" r="2"/><circle class="k23" cx="315.2" cy="259.6" r="2"/><circle class="k23" cx="324.8" cy="259.6" r="2"/><circle class="k22" cx="339.2" cy="257.8" r="2"/><circle class="k1" cx="266.1" cy="258.1" r="2"/><circle class="k16" cx="296.3" cy="252.2" r="2"/><circle class="k23" cx="316.4" cy="258.6" r="2"/><circle class="k22" cx="302.0" cy="260.4" r="2"/><circle class="k11" cx="287.7" cy="265.5" r="2"/><circle class="k22" cx="317.6" cy="258.6" r="2"/><circle class="k7" cx="280.7" cy="256.4" r="2"/><circle class="k2" cx="276.9" cy="260.0" r="2"/><circle class="k2" cx="274.5" cy="258.6" r="2"/><circle class="k19" cx="301.3" cy="258.8" r="2"/><circle class="k2" cx="264.9" cy="258.2" r="2"/><circle class="k11" cx="285.9" cy="266.4" r="2"/><circle class="k17" cx="297.6" cy="254.7" r="2"/><circle class="k8" cx="279.1" cy="256.2" r="2"/><circle class="k19" cx="268.5" cy="258.1" r="2"/><circle class="k23" cx="308.0" cy="257.6" r="2"/><circle class="k18" cx="266.1" cy="259.1" r="2"/><circle class="k23" cx="321.2" cy="258.6" r="2"/><circle class="k21" cx="292.6" cy="267.7" r="2"/><circle class="k10" cx="288.7" cy="249.9" r="2"/><circle class="k22" cx="314.0" cy="258.6" r="2"/><circle class="k7" cx="283.2" cy="263.9" r="2"/><circle class="k22" cx="333.2" cy="259.5" r="2"/><circle class="k12" cx="294.0" cy="260.3" r="2"/><circle class="k22" cx="342.8" cy="258.0" r="2"/><circle class="k14" cx="295.0" cy="264.3" r="2"/><circle class="k2" cx="272.1" cy="257.7" r="2"/><circle class="k23" cx="328.4" cy="258.6" r="2"/><circle class="k22" cx="305.6" cy="259.7" r="2"/><circle class="k19" cx="270.9" cy="257.8" r="2"/><circle class="k22" cx="328.4" cy="259.6" r="2"/><circle class="k16" cx="320.0" cy="257.7" r="2"/><circle class="k22" cx="316.4" cy="257.7" r="2"/><circle class="k22" cx="285.4" cy="252.5" r="2"/><circle class="k15" cx="288.8" cy="255.3" r="2"/><circle class="k22" cx="306.8" cy="258.6" r="2"/><circle class="k23" cx="340.4" cy="257.9" r="2"/><circle class="k16" cx="267.3" cy="259.1" r="2"/><circle class="k22" cx="293.7" cy="255.2" r="2"/><circle class="k8" cx="284.1" cy="252.6" r="2"/><circle class="k17" cx="291.8" cy="256.0" r="2"/><circle class="k22" cx="309.2" cy="257.6" r="2"/><circle class="k23" cx="320.0" cy="259.6" r="2"/><circle class="k23" cx="258.9" cy="258.2" r="2"/><circle class="k14" cx="287.7" cy="249.1" r="2"/><circle class="k23" cx="320.0" cy="258.6" r="2"/><circle class="k23" cx="322.4" cy="258.6" r="2"/><circle class="k12" cx="295.0" cy="261.9" r="2"/><circle class="k23" cx="341.6" cy="257.9" r="2"/><circle class="k13" cx="293.1" cy="263.0" r="2"/><circle class="k9" cx="274.9" cy="258.8" r="2"/><circle class="k22" cx="310.4" cy="259.6" r="2"/><circle class="k10" cx="282.1" cy="259.4" r="2"/><circle class="k17" cx="292.2" cy="253.6" r="2"/><circle class="k22" cx="328.4" cy="257.7" r="2"/><circle class="k23" cx="308.0" cy="259.6" r="2"/><circle class="k1" cx="273.3" cy="258.6" r="2"/><circle class="k16" cx="291.6" cy="265.3" r="2"/><circle class="k23" cx="262.5" cy="259.1" r="2"/><circle class="k21" cx="303.2" cy="260.2" r="2"/><circle class="k22" cx="258.9" cy="259.0" r="2"/><circle class="k9" cx="284.2" cy="258.9" r="2"/><circle class="k14" cx="295.7" cy="253.1" r="2"/><circle class="k22" cx="304.4" cy="258.6" r="2"/><circle class="k23" cx="327.2" cy="259.6" r="2"/><circle class="k1" cx="291.9" cy="269.5" r="2"/><circle class="k16" cx="297.8" cy="257.9" r="2"/><circle class="k22" cx="326.0" cy="258.6" r="2"/><circle class="k22" cx="285.8" cy="264.1" r="2"/><circle class="k9" cx="278.5" cy="259.6" r="2"/><circle class="k11" cx="286.7" cy="254.0" r="2"/><circle class="k10" cx="288.6" cy="260.7" r="2"/><circle class="k22" cx="335.6" cy="259.5" r="2"/><circle class="k22" cx="332.0" cy="258.6" r="2"/><circle class="k22" cx="260.1" cy="259.1" r="2"/><circle class="k3" cx="272.1" cy="259.5" r="2"/><circle class="k9" cx="280.2" cy="261.6" r="2"/><circle class="k3" cx="282.3" cy="263.0" r="2"/><circle class="k23" cx="305.6" cy="258.6" r="2"/><circle class="k23" cx="312.8" cy="257.7" r="2"/><circle class="k18" cx="269.7" cy="259.3" r="2"/><circle class="k23" cx="334.4" cy="258.6" r="2"/><circle class="k15" cx="290.3" cy="267.7" r="2"/><circle class="k11" cx="293.9" cy="267.9" r="2"/><circle class="k22" cx="310.4" cy="257.6" r="2"/><circle class="k7" cx="285.0" cy="251.7" r="2"/><circle class="k16" cx="311.6" cy="257.6" r="2"/><circle class="k7" cx="276.9" cy="258.5" r="2"/><circle class="k22" cx="336.8" cy="258.6" r="2"/><circle class="k13" cx="288.6" cy="252.9" r="2"/><circle class="k19" cx="299.9" cy="257.1" r="2"/><circle class="k22" cx="261.3" cy="258.2" r="2"/><circle class="k22" cx="263.7" cy="259.1" r="2"/><circle class="k22" cx="326.0" cy="257.7" r="2"/><circle class="k23" cx="339.2" cy="259.5" r="2"/><circle class="k8" cx="283.3" cy="261.7" r="2"/><circle class="k22" cx="303.2" cy="257.1" r="2"/><circle class="k12" cx="288.7" cy="248.4" r="2"/><circle class="k23" cx="344.0" cy="258.1" r="2"/><circle class="k23" cx="353.0" cy="258.6" r="2"/><circle class="k1" cx="292.5" cy="264.7" r="2"/><circle class="k1" cx="313.8" cy="258.6" r="2"/><circle class="k21" cx="290.0" cy="257.6" r="2"/><circle class="k21" cx="291.5" cy="259.1" r="2"/><circle class="k20" cx="293.0" cy="256.1" r="2"/><circle class="k21" cx="289.0" cy="261.1" r="2"/><circle class="k20" cx="294.5" cy="253.6" r="2"/></g>
<g><circle class="k16" cx="315.4" cy="290.3" r="2"/><circle class="k1" cx="293.8" cy="288.8" r="2"/><circle class="k17" cx="266.2" cy="288.9" r="2"/><circle class="k7" cx="281.8" cy="290.5" r="2"/><circle class="k20" cx="273.4" cy="288.8" r="2"/><circle class="k1" cx="292.6" cy="288.8" r="2"/><circle class="k14" cx="325.7" cy="290.3" r="2"/><circle class="k0" cx="287.8" cy="288.8" r="2"/><circle class="k0" cx="286.6" cy="288.8" r="2"/><circle class="k0" cx="292.6" cy="290.5" r="2"/><circle class="k2" cx="301.0" cy="290.6" r="2"/><circle class="k15" cx="255.4" cy="289.4" r="2"/><circle class="k5" cx="309.4" cy="290.5" r="2"/><circle class="k10" cx="278.2" cy="290.5" r="2"/><circle class="k21" cx="328.3" cy="290.3" r="2"/><circle class="k20" cx="253.0" cy="289.5" r="2"/><circle class="k16" cx="255.4" cy="289.9" r="2"/><circle class="k13" cx="310.6" cy="288.9" r="2"/><circle class="k5" cx="305.8" cy="288.8" r="2"/><circle class="k1" cx="307.0" cy="290.5" r="2"/><circle class="k2" cx="284.2" cy="290.5" r="2"/><circle class="k23" cx="319.2" cy="289.1" r="2"/><circle class="k23" cx="346.0" cy="289.3" r="2"/><circle class="k20" cx="251.8" cy="289.9" r="2"/><circle class="k21" cx="248.2" cy="289.8" r="2"/><circle class="k22" cx="342.4" cy="289.2" r="2"/><circle class="k4" cx="303.4" cy="288.8" r="2"/><circle class="k15" cx="265.0" cy="290.3" r="2"/><circle class="k22" cx="344.8" cy="290.1" r="2"/><circle class="k15" cx="347.2" cy="289.3" r="2"/><circle class="k16" cx="338.7" cy="290.3" r="2"/><circle class="k9" cx="279.4" cy="290.5" r="2"/><circle class="k22" cx="323.1" cy="289.1" r="2"/><circle class="k21" cx="327.0" cy="290.3" r="2"/><circle class="k20" cx="250.6" cy="289.8" r="2"/><circle class="k0" cx="298.6" cy="290.6" r="2"/><circle class="k11" cx="308.2" cy="288.8" r="2"/><circle class="k21" cx="272.2" cy="290.5" r="2"/><circle class="k19" cx="249.4" cy="289.5" r="2"/><circle class="k22" cx="247.0" cy="289.5" r="2"/><circle class="k2" cx="301.0" cy="288.8" r="2"/><circle class="k21" cx="320.5" cy="289.1" r="2"/><circle class="k20" cx="327.0" cy="289.1" r="2"/><circle class="k18" cx="333.5" cy="289.1" r="2"/><circle class="k23" cx="254.2" cy="289.5" r="2"/><circle class="k0" cx="285.4" cy="288.8" r="2"/><circle class="k22" cx="334.8" cy="289.1" r="2"/><circle class="k21" cx="343.6" cy="290.1" r="2"/><circle class="k21" cx="244.6" cy="289.7" r="2"/><circle class="k22" cx="334.8" cy="290.3" r="2"/><circle class="k22" cx="340.0" cy="289.1" r="2"/><circle class="k17" cx="248.2" cy="289.5" r="2"/><circle class="k1" cx="289.0" cy="288.8" r="2"/><circle class="k17" cx="323.1" cy="290.3" r="2"/><circle class="k6" cx="307.0" cy="288.8" r="2"/><circle class="k0" cx="291.4" cy="288.8" r="2"/><circle class="k1" cx="283.0" cy="290.5" r="2"/><circle class="k18" cx="241.0" cy="289.7" r="2"/><circle class="k20" cx="251.8" cy="289.5" r="2"/><circle class="k1" cx="299.8" cy="290.6" r="2"/><circle class="k0" cx="293.8" cy="290.6" r="2"/><circle class="k15" cx="315.4" cy="289.0" r="2"/><circle class="k23" cx="341.2" cy="289.1" r="2"/><circle class="k1" cx="290.2" cy="290.5" r="2"/><circle class="k19" cx="311.8" cy="288.9" r="2"/><circle class="k1" cx="303.4" cy="290.5" r="2"/><circle class="k9" cx="274.6" cy="290.5" r="2"/><circle class="k14" cx="245.8" cy="289.5" r="2"/><circle class="k8" cx="268.6" cy="288.9" r="2"/><circle class="k23" cx="338.7" cy="289.1" r="2"/><circle class="k1" cx="285.4" cy="290.5" r="2"/><circle class="k15" cx="256.6" cy="289.9" r="2"/><circle class="k23" cx="238.6" cy="289.7" r="2"/><circle class="k0" cx="273.4" cy="290.5" r="2"/><circle class="k9" cx="275.8" cy="290.5" r="2"/><circle class="k23" cx="337.4" cy="289.1" r="2"/><circle class="k14" cx="324.4" cy="289.1" r="2"/><circle class="k18" cx="313.0" cy="288.9" r="2"/><circle class="k14" cx="242.2" cy="289.7" r="2"/><circle class="k21" cx="330.9" cy="289.1" r="2"/><circle class="k19" cx="261.4" cy="289.4" r="2"/><circle class="k1" cx="302.2" cy="290.6" r="2"/><circle class="k20" cx="272.2" cy="288.9" r="2"/><circle class="k21" cx="254.2" cy="289.9" r="2"/><circle class="k0" cx="286.6" cy="290.5" r="2"/><circle class="k1" cx="296.2" cy="290.6" r="2"/><circle class="k1" cx="295.0" cy="290.6" r="2"/><circle class="k3" cx="268.6" cy="290.5" r="2"/><circle class="k17" cx="341.2" cy="290.2" r="2"/><circle class="k9" cx="280.6" cy="290.5" r="2"/><circle class="k2" cx="280.6" cy="288.8" r="2"/><circle class="k0" cx="290.2" cy="288.8" r="2"/><circle class="k21" cx="269.8" cy="288.9" r="2"/><circle class="k2" cx="279.4" cy="288.8" r="2"/><circle class="k22" cx="257.8" cy="289.4" r="2"/><circle class="k9" cx="304.6" cy="290.5" r="2"/><circle class="k17" cx="329.6" cy="290.3" r="2"/><circle class="k22" cx="346.0" cy="290.1" r="2"/><circle class="k21" cx="239.8" cy="289.7" r="2"/><circle class="k22" cx="329.6" cy="289.1" r="2"/><circle class="k20" cx="317.9" cy="289.1" r="2"/><circle class="k21" cx="311.8" cy="290.4" r="2"/><circle class="k18" cx="262.6" cy="289.3" r="2"/><circle class="k0" cx="297.4" cy="288.8" r="2"/><circle class="k23" cx="330.9" cy="290.3" r="2"/><circle class="k1" cx="289.0" cy="290.5" r="2"/><circle class="k21" cx="325.7" cy="289.1" r="2"/><circle class="k22" cx="250.6" cy="289.5" r="2"/><circle class="k22" cx="336.1" cy="290.3" r="2"/><circle class="k22" cx="257.8" cy="289.9" r="2"/><circle class="k15" cx="316.6" cy="290.3" r="2"/><circle class="k3" cx="271.0" cy="288.9" r="2"/><circle class="k6" cx="283.0" cy="288.8" r="2"/><circle class="k7" cx="261.4" cy="290.0" r="2"/><circle class="k0" cx="287.8" cy="290.5" r="2"/><circle class="k2" cx="278.2" cy="288.8" r="2"/><circle class="k16" cx="256.6" cy="289.4" r="2"/><circle class="k22" cx="343.6" cy="289.2" r="2"/><circle class="k16" cx="265.0" cy="289.0" r="2"/><circle class="k3" cx="275.8" cy="288.8" r="2"/><circle class="k22" cx="347.2" cy="290.0" r="2"/><circle class="k14" cx="249.4" cy="289.8" r="2"/><circle class="k4" cx="266.2" cy="290.5" r="2"/><circle class="k22" cx="348.4" cy="289.4" r="2"/><circle class="k15" cx="245.8" cy="289.8" r="2"/><circle class="k14" cx="321.8" cy="289.1" r="2"/><circle class="k21" cx="332.2" cy="290.3" r="2"/><circle class="k2" cx="284.2" cy="288.8" r="2"/><circle class="k19" cx="316.6" cy="289.1" r="2"/><circle class="k20" cx="320.5" cy="290.3" r="2"/><circle class="k3" cx="274.6" cy="288.8" r="2"/><circle class="k4" cx="277.0" cy="288.8" r="2"/><circle class="k14" cx="253.0" cy="289.9" r="2"/><circle class="k15" cx="337.4" cy="290.3" r="2"/><circle class="k0" cx="296.2" cy="288.8" r="2"/><circle class="k22" cx="324.4" cy="290.3" r="2"/><circle class="k22" cx="348.4" cy="290.0" r="2"/><circle class="k22" cx="344.8" cy="289.2" r="2"/><circle class="k15" cx="260.2" cy="290.0" r="2"/><circle class="k23" cx="259.0" cy="289.4" r="2"/><circle class="k5" cx="314.2" cy="289.0" r="2"/><circle class="k15" cx="260.2" cy="289.4" r="2"/><circle class="k1" cx="291.4" cy="290.5" r="2"/><circle class="k22" cx="236.2" cy="289.7" r="2"/><circle class="k6" cx="263.8" cy="289.2" r="2"/><circle class="k21" cx="262.6" cy="290.0" r="2"/><circle class="k5" cx="302.2" cy="288.8" r="2"/><circle class="k15" cx="314.2" cy="290.3" r="2"/><circle class="k23" cx="342.4" cy="290.2" r="2"/><circle class="k21" cx="321.8" cy="290.3" r="2"/><circle class="k20" cx="317.9" cy="290.3" r="2"/><circle class="k21" cx="336.1" cy="289.1" r="2"/><circle class="k23" cx="259.0" cy="289.9" r="2"/><circle class="k10" cx="308.2" cy="290.5" r="2"/><circle class="k21" cx="313.0" cy="290.4" r="2"/><circle class="k22" cx="333.5" cy="290.3" r="2"/><circle class="k22" cx="263.8" cy="290.2" r="2"/><circle class="k19" cx="310.6" cy="290.5" r="2"/><circle class="k6" cx="269.8" cy="290.5" r="2"/><circle class="k2" cx="304.6" cy="288.8" r="2"/><circle class="k8" cx="309.4" cy="288.9" r="2"/><circle class="k10" cx="305.8" cy="290.5" r="2"/><circle class="k21" cx="243.4" cy="289.7" r="2"/><circle class="k1" cx="281.8" cy="288.8" r="2"/><circle class="k6" cx="267.4" cy="290.5" r="2"/><circle class="k0" cx="299.8" cy="288.8" r="2"/><circle class="k21" cx="267.4" cy="288.9" r="2"/><circle class="k2" cx="271.0" cy="290.5" r="2"/><circle class="k22" cx="237.4" cy="289.7" r="2"/><circle class="k21" cx="340.0" cy="290.3" r="2"/><circle class="k0" cx="298.6" cy="288.8" r="2"/><circle class="k0" cx="295.0" cy="288.8" r="2"/><circle class="k1" cx="297.4" cy="290.6" r="2"/><circle class="k20" cx="332.2" cy="289.1" r="2"/><circle class="k21" cx="247.0" cy="289.8" r="2"/><circle class="k5" cx="277.0" cy="290.5" r="2"/><circle class="k22" cx="319.2" cy="290.3" r="2"/><circle class="k21" cx="328.3" cy="289.1" r="2"/><circle class="k1" cx="288.9" cy="293.6" r="2"/><circle class="k1" cx="291.8" cy="294.6" r="2"/><circle class="k0" cx="290.1" cy="280.9" r="2"/><circle class="k1" cx="289.8" cy="281.7" r="2"/><circle class="k0" cx="291.2" cy="300.3" r="2"/><circle class="k0" cx="289.9" cy="294.2" r="2"/><circle class="k1" cx="288.8" cy="289.7" r="2"/><circle class="k1" cx="297.0" cy="283.5" r="2"/><circle class="k1" cx="295.1" cy="279.1" r="2"/><circle class="k0" cx="294.2" cy="300.9" r="2"/><circle class="k1" cx="290.4" cy="283.6" r="2"/><circle class="k0" cx="288.8" cy="291.1" r="2"/><circle class="k1" cx="294.8" cy="279.0" r="2"/><circle class="k1" cx="292.4" cy="281.5" r="2"/><circle class="k1" cx="296.2" cy="280.9" r="2"/><circle class="k0" cx="290.4" cy="299.0" r="2"/><circle class="k0" cx="295.5" cy="299.8" r="2"/><circle class="k1" cx="294.3" cy="296.2" r="2"/><circle class="k1" cx="294.7" cy="300.7" r="2"/><circle class="k0" cx="292.4" cy="298.2" r="2"/><circle class="k0" cx="288.8" cy="288.2" r="2"/><circle class="k0" cx="289.5" cy="282.6" r="2"/><circle class="k1" cx="295.7" cy="287.1" r="2"/><circle class="k0" cx="291.5" cy="289.3" r="2"/><circle class="k1" cx="297.4" cy="285.7" r="2"/><circle class="k0" cx="289.8" cy="296.6" r="2"/><circle class="k0" cx="297.5" cy="289.7" r="2"/><circle class="k1" cx="288.8" cy="292.4" r="2"/><circle class="k1" cx="292.1" cy="300.9" r="2"/><circle class="k1" cx="290.1" cy="298.4" r="2"/><circle class="k1" cx="290.8" cy="279.6" r="2"/><circle class="k1" cx="295.4" cy="294.7" r="2"/><circle class="k1" cx="295.6" cy="297.5" r="2"/><circle class="k1" cx="289.0" cy="291.0" r="2"/><circle class="k1" cx="297.2" cy="286.2" r="2"/><circle class="k1" cx="294.2" cy="286.1" r="2"/><circle class="k1" cx="295.2" cy="288.9" r="2"/><circle class="k1" cx="291.9" cy="284.5" r="2"/><circle class="k1" cx="293.3" cy="294.9" r="2"/><circle class="k1" cx="293.1" cy="301.2" r="2"/><circle class="k1" cx="295.4" cy="290.8" r="2"/><circle class="k1" cx="292.6" cy="278.2" r="2"/><circle class="k1" cx="292.2" cy="292.4" r="2"/><circle class="k1" cx="296.2" cy="298.4" r="2"/><circle class="k1" cx="291.6" cy="278.7" r="2"/><circle class="k1" cx="289.3" cy="283.5" r="2"/><circle class="k0" cx="291.9" cy="282.9" r="2"/><circle class="k1" cx="295.1" cy="300.3" r="2"/><circle class="k1" cx="296.5" cy="297.7" r="2"/><circle class="k0" cx="295.6" cy="299.5" r="2"/><circle class="k0" cx="288.8" cy="286.9" r="2"/><circle class="k1" cx="293.6" cy="293.3" r="2"/><circle class="k1" cx="295.9" cy="280.2" r="2"/><circle class="k0" cx="294.7" cy="278.7" r="2"/><circle class="k0" cx="296.6" cy="284.7" r="2"/><circle class="k1" cx="297.2" cy="294.7" r="2"/><circle class="k1" cx="297.0" cy="295.8" r="2"/><circle class="k1" cx="293.8" cy="280.7" r="2"/><circle class="k1" cx="290.0" cy="287.6" r="2"/><circle class="k1" cx="293.7" cy="287.7" r="2"/><circle class="k1" cx="296.8" cy="282.6" r="2"/><circle class="k1" cx="293.1" cy="279.0" r="2"/><circle class="k1" cx="291.8" cy="287.6" r="2"/><circle class="k0" cx="295.0" cy="292.4" r="2"/><circle class="k1" cx="291.0" cy="297.6" r="2"/><circle class="k0" cx="293.1" cy="278.2" r="2"/><circle class="k1" cx="297.2" cy="284.6" r="2"/><circle class="k1" cx="296.5" cy="293.6" r="2"/><circle class="k1" cx="290.0" cy="286.1" r="2"/><circle class="k1" cx="294.2" cy="278.4" r="2"/><circle class="k0" cx="297.5" cy="286.9" r="2"/><circle class="k1" cx="295.2" cy="281.2" r="2"/><circle class="k1" cx="291.2" cy="279.1" r="2"/><circle class="k1" cx="293.7" cy="278.2" r="2"/><circle class="k0" cx="293.7" cy="289.2" r="2"/><circle class="k1" cx="294.7" cy="284.2" r="2"/><circle class="k0" cx="293.9" cy="282.4" r="2"/><circle class="k1" cx="290.4" cy="280.2" r="2"/><circle class="k1" cx="293.7" cy="301.1" r="2"/><circle class="k1" cx="291.4" cy="280.0" r="2"/><circle class="k1" cx="297.4" cy="293.6" r="2"/><circle class="k1" cx="290.8" cy="299.8" r="2"/><circle class="k1" cx="295.9" cy="299.2" r="2"/><circle class="k0" cx="292.6" cy="301.1" r="2"/><circle class="k1" cx="297.5" cy="292.4" r="2"/><circle class="k0" cx="289.1" cy="294.7" r="2"/><circle class="k1" cx="291.6" cy="300.7" r="2"/><circle class="k1" cx="292.1" cy="286.0" r="2"/><circle class="k0" cx="289.8" cy="297.7" r="2"/><circle class="k1" cx="290.3" cy="290.3" r="2"/><circle class="k0" cx="290.2" cy="282.0" r="2"/><circle class="k0" cx="294.3" cy="298.7" r="2"/><circle class="k0" cx="289.5" cy="296.8" r="2"/><circle class="k1" cx="297.0" cy="292.1" r="2"/><circle class="k0" cx="297.5" cy="291.1" r="2"/><circle class="k1" cx="297.0" cy="289.6" r="2"/><circle class="k1" cx="289.1" cy="284.6" r="2"/><circle class="k1" cx="292.1" cy="278.4" r="2"/><circle class="k0" cx="296.5" cy="281.7" r="2"/><circle class="k0" cx="288.9" cy="285.7" r="2"/><circle class="k1" cx="293.8" cy="290.7" r="2"/><circle class="k1" cx="289.2" cy="284.5" r="2"/><circle class="k1" cx="289.4" cy="289.1" r="2"/><circle class="k0" cx="289.3" cy="295.8" r="2"/><circle class="k0" cx="293.8" cy="300.6" r="2"/><circle class="k1" cx="295.9" cy="283.1" r="2"/><circle class="k1" cx="292.0" cy="299.7" r="2"/><circle class="k1" cx="296.6" cy="296.2" r="2"/><circle class="k1" cx="291.9" cy="296.4" r="2"/><circle class="k1" cx="297.5" cy="288.2" r="2"/><circle class="k1" cx="290.4" cy="299.2" r="2"/><circle class="k0" cx="297.3" cy="287.8" r="2"/><circle class="k1" cx="296.8" cy="296.8" r="2"/><circle class="k1" cx="295.5" cy="279.6" r="2"/><circle class="k0" cx="292.0" cy="290.8" r="2"/><circle class="k1" cx="289.7" cy="292.3" r="2"/><circle class="k23" cx="228.7" cy="289.7" r="2"/><circle class="k23" cx="395.4" cy="289.7" r="2"/><circle class="k23" cx="354.0" cy="290.1" r="2"/><circle class="k23" cx="355.0" cy="289.3" r="2"/><circle class="k23" cx="356.0" cy="290.0" r="2"/><circle class="k23" cx="360.6" cy="289.4" r="2"/><circle class="k23" cx="361.8" cy="290.1" r="2"/><circle class="k22" cx="363.0" cy="289.3" r="2"/><circle class="k23" cx="364.3" cy="290.0" r="2"/><circle class="k23" cx="369.0" cy="290.0" r="2"/><circle class="k23" cx="370.2" cy="289.3" r="2"/><circle class="k23" cx="371.4" cy="290.1" r="2"/><circle class="k23" cx="372.6" cy="289.4" r="2"/><circle class="k23" cx="373.6" cy="289.9" r="2"/></g>
<g><circle class="k23" cx="286.5" cy="319.9" r="2"/><circle class="k23" cx="298.5" cy="319.9" r="2"/><circle class="k22" cx="281.7" cy="321.5" r="2"/><circle class="k22" cx="264.9" cy="320.0" r="2"/><circle class="k22" cx="303.3" cy="321.5" r="2"/><circle class="k22" cx="266.1" cy="321.4" r="2"/><circle class="k23" cx="300.9" cy="321.5" r="2"/><circle class="k23" cx="305.7" cy="321.1" r="2"/><circle class="k22" cx="273.3" cy="321.4" r="2"/><circle class="k23" cx="284.1" cy="320.0" r="2"/><circle class="k23" cx="304.5" cy="321.4" r="2"/><circle class="k22" cx="292.5" cy="319.9" r="2"/><circle class="k22" cx="294.9" cy="319.9" r="2"/><circle class="k22" cx="279.3" cy="320.0" r="2"/><circle class="k22" cx="268.5" cy="320.0" r="2"/><circle class="k23" cx="275.7" cy="321.5" r="2"/><circle class="k22" cx="299.7" cy="321.5" r="2"/><circle class="k22" cx="276.9" cy="321.5" r="2"/><circle class="k23" cx="268.5" cy="321.4" r="2"/><circle class="k23" cx="261.3" cy="321.4" r="2"/><circle class="k22" cx="291.3" cy="319.9" r="2"/><circle class="k23" cx="286.5" cy="321.5" r="2"/><circle class="k22" cx="262.5" cy="321.4" r="2"/><circle class="k23" cx="263.7" cy="321.4" r="2"/><circle class="k22" cx="270.9" cy="320.0" r="2"/><circle class="k22" cx="255.3" cy="321.2" r="2"/><circle class="k22" cx="267.3" cy="320.0" r="2"/><circle class="k22" cx="260.1" cy="320.0" r="2"/><circle class="k22" cx="285.3" cy="319.9" r="2"/><circle class="k23" cx="285.3" cy="321.5" r="2"/><circle class="k23" cx="270.9" cy="321.4" r="2"/><circle class="k23" cx="290.1" cy="321.5" r="2"/><circle class="k22" cx="266.1" cy="320.0" r="2"/><circle class="k23" cx="300.9" cy="319.9" r="2"/><circle class="k22" cx="303.3" cy="319.9" r="2"/><circle class="k22" cx="288.9" cy="319.9" r="2"/><circle class="k22" cx="264.9" cy="321.4" r="2"/><circle class="k23" cx="287.7" cy="319.9" r="2"/><circle class="k23" cx="305.7" cy="320.3" r="2"/><circle class="k22" cx="282.9" cy="321.5" r="2"/><circle class="k22" cx="293.7" cy="321.5" r="2"/><circle class="k22" cx="279.3" cy="321.5" r="2"/><circle class="k22" cx="263.7" cy="320.0" r="2"/><circle class="k23" cx="269.7" cy="321.4" r="2"/><circle class="k23" cx="302.1" cy="321.5" r="2"/><circle class="k23" cx="280.5" cy="320.0" r="2"/><circle class="k22" cx="297.3" cy="319.9" r="2"/><circle class="k23" cx="257.7" cy="320.0" r="2"/><circle class="k22" cx="294.9" cy="321.5" r="2"/><circle class="k22" cx="290.1" cy="319.9" r="2"/><circle class="k22" cx="299.7" cy="319.9" r="2"/><circle class="k22" cx="260.1" cy="321.4" r="2"/><circle class="k23" cx="297.3" cy="321.5" r="2"/><circle class="k23" cx="274.5" cy="321.4" r="2"/><circle class="k23" cx="255.3" cy="320.3" r="2"/><circle class="k23" cx="296.1" cy="319.9" r="2"/><circle class="k23" cx="304.5" cy="320.0" r="2"/><circle class="k22" cx="269.7" cy="320.0" r="2"/><circle class="k23" cx="296.1" cy="321.5" r="2"/><circle class="k22" cx="273.3" cy="320.0" r="2"/><circle class="k22" cx="258.9" cy="321.4" r="2"/><circle class="k22" cx="282.9" cy="320.0" r="2"/><circle class="k23" cx="281.7" cy="320.0" r="2"/><circle class="k22" cx="258.9" cy="320.0" r="2"/><circle class="k22" cx="293.7" cy="319.9" r="2"/><circle class="k23" cx="267.3" cy="321.4" r="2"/><circle class="k23" cx="278.1" cy="320.0" r="2"/><circle class="k22" cx="284.1" cy="321.5" r="2"/><circle class="k22" cx="280.5" cy="321.5" r="2"/><circle class="k22" cx="275.7" cy="320.0" r="2"/><circle class="k23" cx="256.5" cy="321.4" r="2"/><circle class="k22" cx="278.1" cy="321.5" r="2"/><circle class="k22" cx="298.5" cy="321.5" r="2"/><circle class="k22" cx="257.7" cy="321.4" r="2"/><circle class="k22" cx="292.5" cy="321.5" r="2"/><circle class="k23" cx="287.7" cy="321.5" r="2"/><circle class="k22" cx="272.1" cy="320.0" r="2"/><circle class="k23" cx="288.9" cy="321.5" r="2"/><circle class="k22" cx="261.3" cy="320.0" r="2"/><circle class="k23" cx="302.1" cy="319.9" r="2"/><circle class="k22" cx="262.5" cy="320.0" r="2"/><circle class="k23" cx="274.5" cy="320.0" r="2"/><circle class="k23" cx="256.5" cy="320.0" r="2"/><circle class="k22" cx="276.9" cy="320.0" r="2"/><circle class="k23" cx="272.1" cy="321.4" r="2"/><circle class="k22" cx="291.3" cy="321.5" r="2"/><circle class="k1" cx="295.4" cy="310.4" r="2"/><circle class="k1" cx="296.2" cy="323.6" r="2"/><circle class="k1" cx="296.4" cy="325.7" r="2"/><circle class="k0" cx="295.7" cy="311.1" r="2"/><circle class="k1" cx="292.4" cy="327.0" r="2"/><circle class="k1" cx="291.9" cy="325.7" r="2"/><circle class="k1" cx="291.8" cy="324.6" r="2"/><circle class="k1" cx="295.9" cy="316.9" r="2"/><circle class="k0" cx="296.4" cy="315.7" r="2"/><circle class="k0" cx="293.1" cy="331.5" r="2"/><circle class="k0" cx="291.9" cy="316.3" r="2"/><circle class="k1" cx="291.7" cy="321.3" r="2"/><circle class="k1" cx="294.6" cy="310.4" r="2"/><circle class="k0" cx="294.4" cy="309.0" r="2"/><circle class="k1" cx="294.7" cy="332.3" r="2"/><circle class="k0" cx="296.2" cy="327.8" r="2"/><circle class="k0" cx="293.9" cy="309.0" r="2"/><circle class="k0" cx="293.4" cy="321.3" r="2"/><circle class="k0" cx="292.9" cy="310.4" r="2"/><circle class="k1" cx="292.3" cy="328.8" r="2"/><circle class="k0" cx="292.5" cy="322.8" r="2"/><circle class="k1" cx="292.4" cy="311.8" r="2"/><circle class="k1" cx="296.3" cy="325.6" r="2"/><circle class="k1" cx="294.0" cy="314.7" r="2"/><circle class="k1" cx="293.9" cy="332.4" r="2"/><circle class="k1" cx="291.8" cy="316.9" r="2"/><circle class="k1" cx="295.0" cy="309.5" r="2"/><circle class="k1" cx="293.6" cy="332.2" r="2"/><circle class="k0" cx="296.3" cy="326.8" r="2"/><circle class="k1" cx="295.9" cy="329.6" r="2"/><circle class="k1" cx="294.1" cy="308.9" r="2"/><circle class="k1" cx="296.3" cy="314.6" r="2"/><circle class="k1" cx="296.6" cy="320.7" r="2"/><circle class="k1" cx="292.8" cy="319.5" r="2"/><circle class="k1" cx="296.0" cy="315.2" r="2"/><circle class="k1" cx="292.4" cy="329.6" r="2"/><circle class="k1" cx="291.7" cy="318.1" r="2"/><circle class="k0" cx="294.9" cy="321.1" r="2"/><circle class="k1" cx="295.2" cy="309.9" r="2"/><circle class="k1" cx="295.0" cy="332.0" r="2"/><circle class="k1" cx="291.7" cy="319.3" r="2"/><circle class="k1" cx="296.6" cy="318.1" r="2"/><circle class="k0" cx="296.0" cy="312.7" r="2"/><circle class="k0" cx="294.1" cy="332.5" r="2"/><circle class="k0" cx="295.9" cy="311.8" r="2"/><circle class="k0" cx="294.5" cy="312.4" r="2"/><circle class="k1" cx="292.7" cy="324.6" r="2"/><circle class="k0" cx="292.7" cy="313.6" r="2"/><circle class="k1" cx="295.7" cy="330.4" r="2"/><circle class="k1" cx="294.6" cy="331.0" r="2"/><circle class="k0" cx="296.6" cy="319.3" r="2"/><circle class="k0" cx="291.9" cy="315.7" r="2"/><circle class="k0" cx="296.2" cy="313.6" r="2"/><circle class="k1" cx="294.3" cy="318.8" r="2"/><circle class="k1" cx="292.0" cy="326.8" r="2"/><circle class="k1" cx="295.8" cy="327.8" r="2"/><circle class="k1" cx="291.7" cy="323.4" r="2"/><circle class="k0" cx="296.5" cy="316.9" r="2"/><circle class="k1" cx="293.3" cy="332.0" r="2"/><circle class="k0" cx="294.9" cy="324.6" r="2"/><circle class="k1" cx="293.6" cy="326.0" r="2"/><circle class="k1" cx="292.3" cy="312.7" r="2"/><circle class="k0" cx="296.6" cy="322.1" r="2"/><circle class="k1" cx="296.0" cy="318.9" r="2"/><circle class="k1" cx="292.1" cy="327.8" r="2"/><circle class="k1" cx="294.1" cy="316.2" r="2"/><circle class="k0" cx="292.9" cy="331.0" r="2"/><circle class="k1" cx="292.1" cy="313.6" r="2"/><circle class="k1" cx="292.9" cy="311.6" r="2"/><circle class="k1" cx="295.2" cy="331.5" r="2"/><circle class="k0" cx="295.4" cy="331.0" r="2"/><circle class="k0" cx="291.7" cy="322.1" r="2"/><circle class="k1" cx="293.3" cy="328.6" r="2"/><circle class="k0" cx="291.6" cy="320.7" r="2"/><circle class="k0" cx="294.7" cy="309.2" r="2"/><circle class="k0" cx="293.2" cy="309.7" r="2"/><circle class="k0" cx="293.6" cy="309.2" r="2"/><circle class="k0" cx="296.0" cy="312.9" r="2"/><circle class="k1" cx="296.0" cy="328.8" r="2"/><circle class="k1" cx="292.0" cy="314.6" r="2"/><circle class="k0" cx="294.2" cy="327.3" r="2"/><circle class="k0" cx="294.4" cy="332.4" r="2"/><circle class="k1" cx="295.7" cy="311.4" r="2"/><circle class="k0" cx="296.6" cy="323.4" r="2"/><circle class="k0" cx="292.1" cy="318.1" r="2"/><circle class="k1" cx="292.9" cy="330.5" r="2"/><circle class="k1" cx="293.6" cy="332.3" r="2"/><circle class="k0" cx="293.1" cy="309.9" r="2"/><circle class="k1" cx="295.1" cy="329.3" r="2"/><circle class="k0" cx="296.5" cy="324.6" r="2"/><circle class="k1" cx="293.3" cy="309.5" r="2"/><circle class="k1" cx="294.3" cy="323.2" r="2"/><circle class="k0" cx="296.6" cy="321.3" r="2"/><circle class="k1" cx="292.6" cy="311.1" r="2"/><circle class="k1" cx="292.6" cy="330.4" r="2"/></g>
</g>
<g stroke="#333" stroke-width="1" fill="none"><line x1="131.5" y1="352.0" x2="481.3" y2="352.0"/><line x1="138.6" y1="352.0" x2="138.6" y2="355.6"/><line x1="189.9" y1="352.0" x2="189.9" y2="355.6"/><line x1="241.2" y1="352.0" x2="241.2" y2="355.6"/><line x1="292.5" y1="352.0" x2="292.5" y2="355.6"/><line x1="343.8" y1="352.0" x2="343.8" y2="355.6"/><line x1="395.1" y1="352.0" x2="395.1" y2="355.6"/><line x1="446.4" y1="352.0" x2="446.4" y2="355.6"/></g>
<text class="t" x="138.6" y="366.9">−3</text><text class="t" x="189.9" y="366.9">−2</text><text class="t" x="241.2" y="366.9">−1</text><text class="t" x="292.5" y="366.9">0</text><text class="t" x="343.8" y="366.9">1</text><text class="t" x="395.1" y="366.9">2</text><text class="t" x="446.4" y="366.9">3</text>
<text x="306.2" y="384" style="font-size:13.2px;text-anchor:middle">SHAP value (impact on model output)</text>
<text class="f" x="106.8" y="46.8">Scheduled time</text><text class="f" x="106.8" y="77.8">PAX</text><text class="f" x="106.8" y="108.8">P0_arr</text><text class="f" x="106.8" y="139.9">Distance</text><text class="f" x="106.8" y="170.9">T_arr</text><text class="f" x="106.8" y="202.0">U_arr</text><text class="f" x="106.8" y="233.0">Td_arr</text><text class="f" x="106.8" y="264.0">Ff_arr</text><text class="f" x="106.8" y="295.1">CARGO</text><text class="f" x="106.8" y="326.1">ORG_SAW</text>
<rect x="503.1" y="10.5" width="3.5" height="341.2" fill="url(#cb)"/>
<text class="c" x="511.3" y="14.5">High</text><text class="c" x="511.3" y="355.6">Low</text>
<text x="0" y="0" transform="translate(544.2 181.3) rotate(-90)" style="font-size:12.1px;text-anchor:middle;fill:#1a1a1a;stroke:none">Feature value</text>
</svg>
</body></html>
